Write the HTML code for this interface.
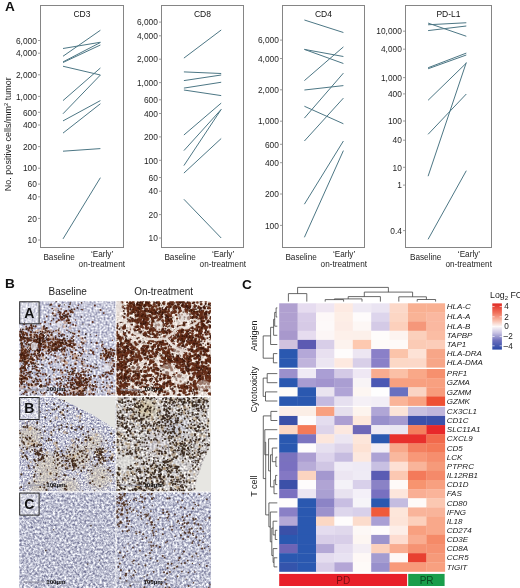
<!DOCTYPE html>
<html><head><meta charset="utf-8"><style>
html,body{margin:0;padding:0;background:#fff;}
body{width:520px;height:588px;overflow:hidden;position:relative;}
svg{position:absolute;left:0;top:0;display:block;}
</style></head><body>
<svg width="520" height="588" viewBox="0 0 520 588">
<text x="5.0" y="10.9" font-size="13.6" font-weight="bold" fill="#111" font-family="'Liberation Sans',Arial,sans-serif">A</text>
<text transform="translate(11,134.2) rotate(-90)" text-anchor="middle" font-size="9" fill="#1e1e1e" font-family="'Liberation Sans',Arial,sans-serif">No. positive cells/mm<tspan font-size="6" dy="-3">2</tspan><tspan dy="3"> tumor</tspan></text>
<rect x="40.5" y="5.5" width="83.0" height="242.0" fill="none" stroke="#858585" stroke-width="1"/>
<text x="82.0" y="17.1" text-anchor="middle" font-size="8.5" fill="#111" font-family="'Liberation Sans',Arial,sans-serif">CD3</text>
<line x1="38.0" y1="240.0" x2="40.5" y2="240.0" stroke="#858585" stroke-width="0.8"/>
<text x="36.9" y="243.2" text-anchor="end" font-size="8.4" fill="#1e1e1e" font-family="'Liberation Sans',Arial,sans-serif">10</text>
<line x1="38.0" y1="218.4" x2="40.5" y2="218.4" stroke="#858585" stroke-width="0.8"/>
<text x="36.9" y="221.6" text-anchor="end" font-size="8.4" fill="#1e1e1e" font-family="'Liberation Sans',Arial,sans-serif">20</text>
<line x1="38.0" y1="196.8" x2="40.5" y2="196.8" stroke="#858585" stroke-width="0.8"/>
<text x="36.9" y="200.0" text-anchor="end" font-size="8.4" fill="#1e1e1e" font-family="'Liberation Sans',Arial,sans-serif">40</text>
<line x1="38.0" y1="184.1" x2="40.5" y2="184.1" stroke="#858585" stroke-width="0.8"/>
<text x="36.9" y="187.3" text-anchor="end" font-size="8.4" fill="#1e1e1e" font-family="'Liberation Sans',Arial,sans-serif">60</text>
<line x1="38.0" y1="168.2" x2="40.5" y2="168.2" stroke="#858585" stroke-width="0.8"/>
<text x="36.9" y="171.4" text-anchor="end" font-size="8.4" fill="#1e1e1e" font-family="'Liberation Sans',Arial,sans-serif">100</text>
<line x1="38.0" y1="146.6" x2="40.5" y2="146.6" stroke="#858585" stroke-width="0.8"/>
<text x="36.9" y="149.8" text-anchor="end" font-size="8.4" fill="#1e1e1e" font-family="'Liberation Sans',Arial,sans-serif">200</text>
<line x1="38.0" y1="125.0" x2="40.5" y2="125.0" stroke="#858585" stroke-width="0.8"/>
<text x="36.9" y="128.2" text-anchor="end" font-size="8.4" fill="#1e1e1e" font-family="'Liberation Sans',Arial,sans-serif">400</text>
<line x1="38.0" y1="112.3" x2="40.5" y2="112.3" stroke="#858585" stroke-width="0.8"/>
<text x="36.9" y="115.5" text-anchor="end" font-size="8.4" fill="#1e1e1e" font-family="'Liberation Sans',Arial,sans-serif">600</text>
<line x1="38.0" y1="96.4" x2="40.5" y2="96.4" stroke="#858585" stroke-width="0.8"/>
<text x="36.9" y="99.6" text-anchor="end" font-size="8.4" fill="#1e1e1e" font-family="'Liberation Sans',Arial,sans-serif">1,000</text>
<line x1="38.0" y1="74.8" x2="40.5" y2="74.8" stroke="#858585" stroke-width="0.8"/>
<text x="36.9" y="78.0" text-anchor="end" font-size="8.4" fill="#1e1e1e" font-family="'Liberation Sans',Arial,sans-serif">2,000</text>
<line x1="38.0" y1="53.2" x2="40.5" y2="53.2" stroke="#858585" stroke-width="0.8"/>
<text x="36.9" y="56.4" text-anchor="end" font-size="8.4" fill="#1e1e1e" font-family="'Liberation Sans',Arial,sans-serif">4,000</text>
<line x1="38.0" y1="40.5" x2="40.5" y2="40.5" stroke="#858585" stroke-width="0.8"/>
<text x="36.9" y="43.7" text-anchor="end" font-size="8.4" fill="#1e1e1e" font-family="'Liberation Sans',Arial,sans-serif">6,000</text>
<line x1="63.0" y1="48.5" x2="100.4" y2="42.25" stroke="#4d7785" stroke-width="1.0"/>
<line x1="63.0" y1="56.25" x2="100.4" y2="30.25" stroke="#4d7785" stroke-width="1.0"/>
<line x1="63.0" y1="61.9" x2="100.4" y2="42.5" stroke="#4d7785" stroke-width="1.0"/>
<line x1="63.0" y1="62.5" x2="100.4" y2="45" stroke="#4d7785" stroke-width="1.0"/>
<line x1="63.0" y1="66.25" x2="100.4" y2="75" stroke="#4d7785" stroke-width="1.0"/>
<line x1="63.0" y1="100.6" x2="100.4" y2="68" stroke="#4d7785" stroke-width="1.0"/>
<line x1="63.0" y1="113.75" x2="100.4" y2="75" stroke="#4d7785" stroke-width="1.0"/>
<line x1="63.0" y1="120.9" x2="100.4" y2="100.6" stroke="#4d7785" stroke-width="1.0"/>
<line x1="63.0" y1="133.1" x2="100.4" y2="103.75" stroke="#4d7785" stroke-width="1.0"/>
<line x1="63.0" y1="151.2" x2="100.4" y2="148.6" stroke="#4d7785" stroke-width="1.0"/>
<line x1="63.0" y1="238.9" x2="100.4" y2="177.7" stroke="#4d7785" stroke-width="1.0"/>
<text x="59.1" y="260.4" text-anchor="middle" font-size="8.2" fill="#1e1e1e" font-family="'Liberation Sans',Arial,sans-serif">Baseline</text>
<text x="102.1" y="256.5" text-anchor="middle" font-size="8.2" fill="#1e1e1e" font-family="'Liberation Sans',Arial,sans-serif">‘Early’</text>
<text x="101.8" y="266.5" text-anchor="middle" font-size="8.2" fill="#1e1e1e" font-family="'Liberation Sans',Arial,sans-serif">on-treatment</text>
<rect x="161.5" y="5.5" width="82.0" height="242.0" fill="none" stroke="#858585" stroke-width="1"/>
<text x="202.5" y="17.1" text-anchor="middle" font-size="8.5" fill="#111" font-family="'Liberation Sans',Arial,sans-serif">CD8</text>
<line x1="159.0" y1="238.0" x2="161.5" y2="238.0" stroke="#858585" stroke-width="0.8"/>
<text x="157.9" y="241.2" text-anchor="end" font-size="8.4" fill="#1e1e1e" font-family="'Liberation Sans',Arial,sans-serif">10</text>
<line x1="159.0" y1="214.6" x2="161.5" y2="214.6" stroke="#858585" stroke-width="0.8"/>
<text x="157.9" y="217.8" text-anchor="end" font-size="8.4" fill="#1e1e1e" font-family="'Liberation Sans',Arial,sans-serif">20</text>
<line x1="159.0" y1="191.2" x2="161.5" y2="191.2" stroke="#858585" stroke-width="0.8"/>
<text x="157.9" y="194.4" text-anchor="end" font-size="8.4" fill="#1e1e1e" font-family="'Liberation Sans',Arial,sans-serif">40</text>
<line x1="159.0" y1="177.5" x2="161.5" y2="177.5" stroke="#858585" stroke-width="0.8"/>
<text x="157.9" y="180.7" text-anchor="end" font-size="8.4" fill="#1e1e1e" font-family="'Liberation Sans',Arial,sans-serif">60</text>
<line x1="159.0" y1="160.3" x2="161.5" y2="160.3" stroke="#858585" stroke-width="0.8"/>
<text x="157.9" y="163.5" text-anchor="end" font-size="8.4" fill="#1e1e1e" font-family="'Liberation Sans',Arial,sans-serif">100</text>
<line x1="159.0" y1="136.9" x2="161.5" y2="136.9" stroke="#858585" stroke-width="0.8"/>
<text x="157.9" y="140.1" text-anchor="end" font-size="8.4" fill="#1e1e1e" font-family="'Liberation Sans',Arial,sans-serif">200</text>
<line x1="159.0" y1="113.5" x2="161.5" y2="113.5" stroke="#858585" stroke-width="0.8"/>
<text x="157.9" y="116.7" text-anchor="end" font-size="8.4" fill="#1e1e1e" font-family="'Liberation Sans',Arial,sans-serif">400</text>
<line x1="159.0" y1="99.8" x2="161.5" y2="99.8" stroke="#858585" stroke-width="0.8"/>
<text x="157.9" y="103.0" text-anchor="end" font-size="8.4" fill="#1e1e1e" font-family="'Liberation Sans',Arial,sans-serif">600</text>
<line x1="159.0" y1="82.6" x2="161.5" y2="82.6" stroke="#858585" stroke-width="0.8"/>
<text x="157.9" y="85.8" text-anchor="end" font-size="8.4" fill="#1e1e1e" font-family="'Liberation Sans',Arial,sans-serif">1,000</text>
<line x1="159.0" y1="59.2" x2="161.5" y2="59.2" stroke="#858585" stroke-width="0.8"/>
<text x="157.9" y="62.4" text-anchor="end" font-size="8.4" fill="#1e1e1e" font-family="'Liberation Sans',Arial,sans-serif">2,000</text>
<line x1="159.0" y1="35.8" x2="161.5" y2="35.8" stroke="#858585" stroke-width="0.8"/>
<text x="157.9" y="39.0" text-anchor="end" font-size="8.4" fill="#1e1e1e" font-family="'Liberation Sans',Arial,sans-serif">4,000</text>
<line x1="159.0" y1="22.1" x2="161.5" y2="22.1" stroke="#858585" stroke-width="0.8"/>
<text x="157.9" y="25.3" text-anchor="end" font-size="8.4" fill="#1e1e1e" font-family="'Liberation Sans',Arial,sans-serif">6,000</text>
<line x1="183.9" y1="58.1" x2="221.2" y2="30" stroke="#4d7785" stroke-width="1.0"/>
<line x1="183.9" y1="71.9" x2="221.2" y2="73.5" stroke="#4d7785" stroke-width="1.0"/>
<line x1="183.9" y1="80.6" x2="221.2" y2="75" stroke="#4d7785" stroke-width="1.0"/>
<line x1="183.9" y1="88.1" x2="221.2" y2="82.25" stroke="#4d7785" stroke-width="1.0"/>
<line x1="183.9" y1="90" x2="221.2" y2="95.6" stroke="#4d7785" stroke-width="1.0"/>
<line x1="183.9" y1="135" x2="221.2" y2="103.1" stroke="#4d7785" stroke-width="1.0"/>
<line x1="183.9" y1="150.6" x2="221.2" y2="109.4" stroke="#4d7785" stroke-width="1.0"/>
<line x1="183.9" y1="165.6" x2="221.2" y2="109.4" stroke="#4d7785" stroke-width="1.0"/>
<line x1="183.9" y1="173.1" x2="221.2" y2="138.5" stroke="#4d7785" stroke-width="1.0"/>
<line x1="183.9" y1="199.25" x2="221.2" y2="238" stroke="#4d7785" stroke-width="1.0"/>
<text x="180.1" y="260.4" text-anchor="middle" font-size="8.2" fill="#1e1e1e" font-family="'Liberation Sans',Arial,sans-serif">Baseline</text>
<text x="223.1" y="256.5" text-anchor="middle" font-size="8.2" fill="#1e1e1e" font-family="'Liberation Sans',Arial,sans-serif">‘Early’</text>
<text x="222.8" y="266.5" text-anchor="middle" font-size="8.2" fill="#1e1e1e" font-family="'Liberation Sans',Arial,sans-serif">on-treatment</text>
<rect x="282.5" y="5.5" width="82.0" height="242.0" fill="none" stroke="#858585" stroke-width="1"/>
<text x="323.5" y="17.1" text-anchor="middle" font-size="8.5" fill="#111" font-family="'Liberation Sans',Arial,sans-serif">CD4</text>
<line x1="280.0" y1="225.4" x2="282.5" y2="225.4" stroke="#858585" stroke-width="0.8"/>
<text x="278.9" y="228.6" text-anchor="end" font-size="8.4" fill="#1e1e1e" font-family="'Liberation Sans',Arial,sans-serif">100</text>
<line x1="280.0" y1="194.0" x2="282.5" y2="194.0" stroke="#858585" stroke-width="0.8"/>
<text x="278.9" y="197.2" text-anchor="end" font-size="8.4" fill="#1e1e1e" font-family="'Liberation Sans',Arial,sans-serif">200</text>
<line x1="280.0" y1="162.7" x2="282.5" y2="162.7" stroke="#858585" stroke-width="0.8"/>
<text x="278.9" y="165.9" text-anchor="end" font-size="8.4" fill="#1e1e1e" font-family="'Liberation Sans',Arial,sans-serif">400</text>
<line x1="280.0" y1="144.3" x2="282.5" y2="144.3" stroke="#858585" stroke-width="0.8"/>
<text x="278.9" y="147.5" text-anchor="end" font-size="8.4" fill="#1e1e1e" font-family="'Liberation Sans',Arial,sans-serif">600</text>
<line x1="280.0" y1="121.2" x2="282.5" y2="121.2" stroke="#858585" stroke-width="0.8"/>
<text x="278.9" y="124.4" text-anchor="end" font-size="8.4" fill="#1e1e1e" font-family="'Liberation Sans',Arial,sans-serif">1,000</text>
<line x1="280.0" y1="89.8" x2="282.5" y2="89.8" stroke="#858585" stroke-width="0.8"/>
<text x="278.9" y="93.0" text-anchor="end" font-size="8.4" fill="#1e1e1e" font-family="'Liberation Sans',Arial,sans-serif">2,000</text>
<line x1="280.0" y1="58.5" x2="282.5" y2="58.5" stroke="#858585" stroke-width="0.8"/>
<text x="278.9" y="61.7" text-anchor="end" font-size="8.4" fill="#1e1e1e" font-family="'Liberation Sans',Arial,sans-serif">4,000</text>
<line x1="280.0" y1="40.1" x2="282.5" y2="40.1" stroke="#858585" stroke-width="0.8"/>
<text x="278.9" y="43.3" text-anchor="end" font-size="8.4" fill="#1e1e1e" font-family="'Liberation Sans',Arial,sans-serif">6,000</text>
<line x1="304.4" y1="20" x2="343.4" y2="32.5" stroke="#4d7785" stroke-width="1.0"/>
<line x1="304.4" y1="49.4" x2="343.4" y2="56.5" stroke="#4d7785" stroke-width="1.0"/>
<line x1="304.4" y1="49.4" x2="343.4" y2="63.5" stroke="#4d7785" stroke-width="1.0"/>
<line x1="304.4" y1="80.6" x2="343.4" y2="46.9" stroke="#4d7785" stroke-width="1.0"/>
<line x1="304.4" y1="90" x2="343.4" y2="85.6" stroke="#4d7785" stroke-width="1.0"/>
<line x1="304.4" y1="118.1" x2="343.4" y2="73.1" stroke="#4d7785" stroke-width="1.0"/>
<line x1="304.4" y1="106.25" x2="343.4" y2="123.75" stroke="#4d7785" stroke-width="1.0"/>
<line x1="304.4" y1="141" x2="343.4" y2="98.1" stroke="#4d7785" stroke-width="1.0"/>
<line x1="304.4" y1="204.2" x2="343.4" y2="141" stroke="#4d7785" stroke-width="1.0"/>
<line x1="304.4" y1="237.3" x2="343.4" y2="150.6" stroke="#4d7785" stroke-width="1.0"/>
<text x="301.1" y="260.4" text-anchor="middle" font-size="8.2" fill="#1e1e1e" font-family="'Liberation Sans',Arial,sans-serif">Baseline</text>
<text x="344.1" y="256.5" text-anchor="middle" font-size="8.2" fill="#1e1e1e" font-family="'Liberation Sans',Arial,sans-serif">‘Early’</text>
<text x="343.8" y="266.5" text-anchor="middle" font-size="8.2" fill="#1e1e1e" font-family="'Liberation Sans',Arial,sans-serif">on-treatment</text>
<rect x="405.5" y="5.5" width="86.0" height="242.0" fill="none" stroke="#858585" stroke-width="1"/>
<text x="448.5" y="17.1" text-anchor="middle" font-size="8.5" fill="#111" font-family="'Liberation Sans',Arial,sans-serif">PD-L1</text>
<line x1="403.0" y1="31.2" x2="405.5" y2="31.2" stroke="#858585" stroke-width="0.8"/>
<text x="401.9" y="34.4" text-anchor="end" font-size="8.4" fill="#1e1e1e" font-family="'Liberation Sans',Arial,sans-serif">10,000</text>
<line x1="403.0" y1="49.2" x2="405.5" y2="49.2" stroke="#858585" stroke-width="0.8"/>
<text x="401.9" y="52.4" text-anchor="end" font-size="8.4" fill="#1e1e1e" font-family="'Liberation Sans',Arial,sans-serif">4,000</text>
<line x1="403.0" y1="77.6" x2="405.5" y2="77.6" stroke="#858585" stroke-width="0.8"/>
<text x="401.9" y="80.8" text-anchor="end" font-size="8.4" fill="#1e1e1e" font-family="'Liberation Sans',Arial,sans-serif">1,000</text>
<line x1="403.0" y1="93.9" x2="405.5" y2="93.9" stroke="#858585" stroke-width="0.8"/>
<text x="401.9" y="97.1" text-anchor="end" font-size="8.4" fill="#1e1e1e" font-family="'Liberation Sans',Arial,sans-serif">400</text>
<line x1="403.0" y1="121.0" x2="405.5" y2="121.0" stroke="#858585" stroke-width="0.8"/>
<text x="401.9" y="124.2" text-anchor="end" font-size="8.4" fill="#1e1e1e" font-family="'Liberation Sans',Arial,sans-serif">100</text>
<line x1="403.0" y1="140.2" x2="405.5" y2="140.2" stroke="#858585" stroke-width="0.8"/>
<text x="401.9" y="143.4" text-anchor="end" font-size="8.4" fill="#1e1e1e" font-family="'Liberation Sans',Arial,sans-serif">40</text>
<line x1="403.0" y1="167.3" x2="405.5" y2="167.3" stroke="#858585" stroke-width="0.8"/>
<text x="401.9" y="170.5" text-anchor="end" font-size="8.4" fill="#1e1e1e" font-family="'Liberation Sans',Arial,sans-serif">10</text>
<line x1="403.0" y1="185.1" x2="405.5" y2="185.1" stroke="#858585" stroke-width="0.8"/>
<text x="401.9" y="188.3" text-anchor="end" font-size="8.4" fill="#1e1e1e" font-family="'Liberation Sans',Arial,sans-serif">1</text>
<line x1="403.0" y1="230.6" x2="405.5" y2="230.6" stroke="#858585" stroke-width="0.8"/>
<text x="401.9" y="233.8" text-anchor="end" font-size="8.4" fill="#1e1e1e" font-family="'Liberation Sans',Arial,sans-serif">0.4</text>
<line x1="428.1" y1="23.1" x2="466.3" y2="36.25" stroke="#4d7785" stroke-width="1.0"/>
<line x1="428.1" y1="24.75" x2="466.3" y2="22.75" stroke="#4d7785" stroke-width="1.0"/>
<line x1="428.1" y1="30.6" x2="466.3" y2="26" stroke="#4d7785" stroke-width="1.0"/>
<line x1="428.1" y1="67.75" x2="466.3" y2="53.1" stroke="#4d7785" stroke-width="1.0"/>
<line x1="428.1" y1="68.75" x2="466.3" y2="55" stroke="#4d7785" stroke-width="1.0"/>
<line x1="428.1" y1="100.25" x2="466.3" y2="63.1" stroke="#4d7785" stroke-width="1.0"/>
<line x1="428.1" y1="176.2" x2="466.3" y2="62.5" stroke="#4d7785" stroke-width="1.0"/>
<line x1="428.1" y1="134.3" x2="466.3" y2="94" stroke="#4d7785" stroke-width="1.0"/>
<line x1="428.1" y1="239.3" x2="466.3" y2="170.7" stroke="#4d7785" stroke-width="1.0"/>
<text x="425.7" y="260.4" text-anchor="middle" font-size="8.2" fill="#1e1e1e" font-family="'Liberation Sans',Arial,sans-serif">Baseline</text>
<text x="469.0" y="256.5" text-anchor="middle" font-size="8.2" fill="#1e1e1e" font-family="'Liberation Sans',Arial,sans-serif">‘Early’</text>
<text x="468.7" y="266.5" text-anchor="middle" font-size="8.2" fill="#1e1e1e" font-family="'Liberation Sans',Arial,sans-serif">on-treatment</text>
<text x="5.0" y="288.3" font-size="13.6" font-weight="bold" fill="#111" font-family="'Liberation Sans',Arial,sans-serif">B</text>
<text x="67.7" y="294.9" text-anchor="middle" font-size="10" fill="#1e1e1e" font-family="'Liberation Sans',Arial,sans-serif">Baseline</text>
<text x="163.6" y="294.9" text-anchor="middle" font-size="10" fill="#1e1e1e" font-family="'Liberation Sans',Arial,sans-serif">On-treatment</text>
<defs><filter id="tb1" x="0" y="0" width="1" height="1" color-interpolation-filters="sRGB"><feTurbulence type="fractalNoise" baseFrequency="0.5" numOctaves="2" seed="3"/><feColorMatrix type="matrix" values="0.9 0 0 0 0.334 0.9 0 0 0 0.338 0.7 0 0 0 0.505 0 0 0 0 1"/></filter><filter id="tb2" x="0" y="0" width="1" height="1" color-interpolation-filters="sRGB"><feTurbulence type="fractalNoise" baseFrequency="0.6" numOctaves="2" seed="5"/><feColorMatrix type="matrix" values="1.1 0 0 0 0.211 1.1 0 0 0 0.215 0.8 0 0 0 0.431 0 0 0 0 1"/></filter><filter id="tb3" x="0" y="0" width="1" height="1" color-interpolation-filters="sRGB"><feTurbulence type="fractalNoise" baseFrequency="0.45" numOctaves="2" seed="7"/><feColorMatrix type="matrix" values="1.0 0 0 0 0.241 1.0 0 0 0 0.249 0.8 0 0 0 0.420 0 0 0 0 1"/></filter><filter id="tb4" x="0" y="0" width="1" height="1" color-interpolation-filters="sRGB"><feTurbulence type="fractalNoise" baseFrequency="0.45" numOctaves="2" seed="9"/><feColorMatrix type="matrix" values="1.0 0 0 0 0.249 1.0 0 0 0 0.257 0.8 0 0 0 0.427 0 0 0 0 1"/></filter><filter id="tbon" x="0" y="0" width="1" height="1" color-interpolation-filters="sRGB"><feTurbulence type="fractalNoise" baseFrequency="0.4" numOctaves="2" seed="4"/><feColorMatrix type="matrix" values="0.6 0 0 0 0.610 0.6 0 0 0 0.571 0.6 0 0 0 0.547 0 0 0 0 1"/></filter><filter id="tbbon" x="0" y="0" width="1" height="1" color-interpolation-filters="sRGB"><feTurbulence type="fractalNoise" baseFrequency="0.5" numOctaves="2" seed="6"/><feColorMatrix type="matrix" values="1.0 0 0 0 0.316 1.0 0 0 0 0.304 0.9 0 0 0 0.350 0 0 0 0 1"/></filter><filter id="bl" x="-5%" y="-5%" width="110%" height="110%"><feGaussianBlur stdDeviation="0.3"/></filter><filter id="bl2" x="-20%" y="-20%" width="140%" height="140%"><feGaussianBlur stdDeviation="0.6"/></filter><filter id="bl3" x="-20%" y="-20%" width="140%" height="140%"><feGaussianBlur stdDeviation="3"/></filter></defs>
<clipPath id="cp00"><rect x="19.2" y="301.3" width="96.3" height="94.5"/></clipPath>
<g clip-path="url(#cp00)">
<rect x="19.2" y="301.3" width="96.3" height="94.5" filter="url(#tb1)"/>
<g filter="url(#bl)"><path d="M34.6 362.6h.01M114.7 354.1h.01M29.2 346.9h.01M86.0 351.1h.01M79.4 344.9h.01M55.0 314.0h.01" stroke="#c89878" stroke-width="2.4" stroke-linecap="round" opacity="0.5"/><path d="M74.2 371.3h.01M33.6 379.8h.01M43.3 341.2h.01M54.7 341.0h.01M46.2 346.9h.01M54.0 374.9h.01M77.3 380.6h.01M27.7 336.9h.01M35.6 385.2h.01M51.5 345.9h.01M32.8 357.9h.01" stroke="#c89878" stroke-width="2.5" stroke-linecap="round" opacity="0.5"/><path d="M37.9 356.1h.01M62.8 314.1h.01M67.7 312.8h.01M56.3 331.2h.01M24.3 348.4h.01M69.7 390.2h.01M30.5 331.9h.01M74.9 394.8h.01M50.7 330.6h.01M68.4 344.4h.01M55.1 361.7h.01M25.2 333.2h.01" stroke="#c89878" stroke-width="2.6" stroke-linecap="round" opacity="0.5"/><path d="M56.0 343.5h.01M81.3 389.6h.01M83.3 361.9h.01M45.2 342.7h.01M64.2 386.1h.01M73.1 358.2h.01M87.5 370.4h.01M22.8 352.3h.01M47.3 347.6h.01M85.4 341.4h.01M49.7 336.8h.01M28.5 384.2h.01M23.1 351.6h.01M50.6 363.0h.01M59.2 342.0h.01" stroke="#c89878" stroke-width="2.7" stroke-linecap="round" opacity="0.5"/><path d="M49.1 343.1h.01M24.0 332.3h.01M93.2 387.1h.01M79.4 359.5h.01M38.5 330.2h.01M26.1 363.5h.01M70.2 327.9h.01M51.6 335.0h.01M83.3 380.0h.01M72.4 383.8h.01M78.1 355.7h.01" stroke="#c89878" stroke-width="2.8" stroke-linecap="round" opacity="0.5"/><path d="M75.5 356.5h.01M82.7 339.6h.01M112.3 350.4h.01M30.6 361.3h.01M114.4 393.7h.01M62.8 343.2h.01M86.0 391.6h.01M33.4 349.1h.01M36.8 352.4h.01M31.2 354.4h.01M52.8 337.4h.01M37.6 352.0h.01" stroke="#c89878" stroke-width="2.9" stroke-linecap="round" opacity="0.5"/><path d="M36.2 363.9h.01M81.0 338.1h.01M84.3 365.4h.01M39.1 340.2h.01M33.0 337.5h.01M84.6 383.6h.01M90.0 383.2h.01M44.9 332.4h.01M44.0 359.1h.01M80.8 392.3h.01M31.2 357.0h.01M35.9 346.9h.01M27.4 357.3h.01M29.6 384.7h.01M53.4 347.9h.01M54.4 379.4h.01" stroke="#c89878" stroke-width="3.0" stroke-linecap="round" opacity="0.5"/><path d="M22.7 379.3h.01M62.9 343.8h.01M20.1 359.6h.01M42.6 357.1h.01M76.0 391.0h.01M45.2 342.9h.01M26.4 377.3h.01M52.0 349.6h.01" stroke="#c89878" stroke-width="3.1" stroke-linecap="round" opacity="0.5"/><path d="M31.2 360.9h.01M101.3 356.9h.01M21.3 380.5h.01M77.4 385.4h.01M30.3 385.2h.01M52.9 339.6h.01M21.4 377.2h.01M64.1 326.5h.01" stroke="#c89878" stroke-width="3.2" stroke-linecap="round" opacity="0.5"/><path d="M27.7 360.4h.01M61.1 342.4h.01M104.9 356.0h.01M41.2 334.6h.01" stroke="#c89878" stroke-width="3.3" stroke-linecap="round" opacity="0.5"/><path d="M44.9 350.4h.01M32.8 334.6h.01M48.6 338.7h.01M42.9 343.5h.01M52.9 343.1h.01M80.8 388.0h.01M73.5 348.5h.01M41.8 330.8h.01M36.7 331.4h.01M24.7 349.9h.01M83.1 370.6h.01M32.9 342.8h.01M59.6 332.5h.01M26.6 355.5h.01M72.1 342.2h.01M77.7 384.4h.01M68.7 341.6h.01M75.6 344.7h.01M56.1 309.5h.01" stroke="#c89878" stroke-width="3.4" stroke-linecap="round" opacity="0.5"/><path d="M24.2 333.8h.01M19.9 374.1h.01M107.7 385.9h.01M46.5 333.6h.01M65.9 362.5h.01M105.5 349.7h.01M21.9 387.4h.01M25.9 356.1h.01" stroke="#c89878" stroke-width="3.5" stroke-linecap="round" opacity="0.5"/><path d="M33.0 385.5h.01M71.7 353.7h.01M43.8 395.6h.01M24.5 361.1h.01M58.0 357.4h.01M27.0 359.5h.01M65.0 322.4h.01M22.6 352.5h.01M75.6 363.0h.01M111.2 363.1h.01M63.5 352.6h.01M51.3 342.6h.01" stroke="#c89878" stroke-width="3.6" stroke-linecap="round" opacity="0.5"/><path d="M21.4 359.7h.01M89.8 391.8h.01M48.1 347.8h.01M40.0 336.4h.01M42.7 328.3h.01M25.7 380.0h.01M34.1 392.7h.01M74.9 357.6h.01M22.1 349.8h.01M85.2 378.7h.01M107.7 350.5h.01M72.1 391.1h.01" stroke="#c89878" stroke-width="3.7" stroke-linecap="round" opacity="0.5"/><path d="M57.1 344.6h.01M68.4 320.5h.01M108.8 355.8h.01M75.2 355.1h.01M66.2 363.1h.01M62.2 360.2h.01M108.8 391.3h.01M24.1 357.9h.01M78.2 390.4h.01" stroke="#c89878" stroke-width="3.8" stroke-linecap="round" opacity="0.5"/><path d="M61.9 372.8h.01M19.2 377.8h.01M46.0 329.7h.01M28.6 389.8h.01M41.6 386.4h.01M105.2 356.3h.01" stroke="#c89878" stroke-width="3.9" stroke-linecap="round" opacity="0.5"/><path d="M23.0 356.0h.01M82.5 390.3h.01" stroke="#c89878" stroke-width="4.0" stroke-linecap="round" opacity="0.5"/>
<path d="M67.7 316.5h.01M20.4 340.8h.01M114.1 361.1h.01M81.3 372.3h.01M43.7 393.8h.01M95.7 384.7h.01M26.2 375.0h.01M36.1 385.3h.01M63.5 344.2h.01M25.6 359.7h.01M75.0 387.3h.01M64.3 313.0h.01M29.4 364.4h.01M61.1 309.0h.01M73.7 371.4h.01M54.2 392.4h.01M85.9 386.9h.01M34.3 356.2h.01M69.6 342.1h.01M21.4 351.2h.01M83.2 369.6h.01M65.1 393.5h.01M28.7 354.6h.01M73.3 392.1h.01M72.1 338.3h.01M109.0 352.3h.01M76.6 393.3h.01M66.4 342.2h.01M72.8 354.7h.01M47.9 342.3h.01M100.7 377.9h.01M70.5 341.6h.01M79.2 377.4h.01M46.8 346.5h.01M66.6 354.2h.01M62.6 343.6h.01M27.7 341.2h.01M28.6 338.8h.01M99.0 375.6h.01M23.8 364.1h.01M33.6 332.1h.01M49.6 349.8h.01M32.3 350.8h.01M28.6 360.8h.01M49.9 388.9h.01M25.3 329.0h.01M106.1 362.9h.01M23.1 336.2h.01M22.8 354.5h.01M60.8 349.8h.01M19.9 333.7h.01M20.6 329.3h.01M85.3 385.2h.01M37.8 367.5h.01" stroke="#5a2a16" stroke-width="1.4" stroke-linecap="round" opacity="0.95"/><path d="M62.5 340.8h.01M21.8 375.6h.01M31.3 384.0h.01M113.8 360.7h.01M22.5 330.0h.01M59.3 384.1h.01M51.2 347.1h.01M76.8 388.2h.01M112.8 350.5h.01M21.0 353.5h.01M109.9 351.7h.01M109.5 379.4h.01M25.5 375.8h.01M27.4 347.8h.01M101.6 345.2h.01M29.2 340.0h.01M57.1 347.9h.01M112.1 385.7h.01M91.3 377.0h.01M84.8 376.1h.01M73.9 391.4h.01M73.9 370.7h.01M106.2 355.0h.01M110.4 374.0h.01M33.8 340.7h.01M60.6 313.1h.01M60.5 317.8h.01M22.1 381.9h.01M22.5 368.2h.01M37.6 375.8h.01M71.9 343.6h.01M58.5 336.0h.01M43.9 344.2h.01M68.1 387.0h.01M58.0 394.4h.01M82.0 382.8h.01M85.3 394.7h.01M32.0 338.4h.01M83.1 392.0h.01M78.2 305.2h.01M55.8 335.9h.01M49.8 345.1h.01M89.3 369.8h.01M48.7 344.4h.01M115.4 357.2h.01M68.7 306.8h.01M82.5 338.2h.01M28.1 341.1h.01M46.9 384.7h.01M52.0 349.7h.01M83.4 380.2h.01M76.2 381.0h.01M22.8 348.3h.01M86.2 381.2h.01M68.3 376.4h.01M81.5 383.1h.01M73.0 382.9h.01M58.1 339.6h.01M31.9 359.2h.01M34.7 353.7h.01M70.0 386.7h.01M27.7 361.1h.01M22.6 359.6h.01M74.8 379.9h.01M20.8 359.0h.01M34.5 340.6h.01M43.1 341.5h.01M82.6 384.7h.01M22.9 347.4h.01M33.3 391.7h.01M29.6 359.1h.01M64.4 354.9h.01M22.2 353.3h.01M37.6 332.8h.01M26.3 355.4h.01M73.3 375.1h.01M38.5 381.4h.01M73.4 339.8h.01M75.5 320.1h.01M24.8 387.1h.01M65.1 387.4h.01M59.6 395.6h.01M22.7 344.0h.01M33.5 346.8h.01M83.2 378.1h.01M41.1 340.9h.01M85.0 389.4h.01M105.1 390.1h.01M41.7 364.2h.01M58.1 370.3h.01M38.8 370.6h.01M63.3 339.8h.01M96.4 335.6h.01M72.2 384.8h.01M95.2 368.0h.01M31.7 385.5h.01M97.0 348.5h.01M54.7 344.4h.01M65.2 342.3h.01M112.5 340.2h.01M67.8 346.1h.01M73.7 340.5h.01" stroke="#5a2a16" stroke-width="1.5" stroke-linecap="round" opacity="0.95"/><path d="M53.9 386.2h.01M36.5 367.6h.01M88.1 372.2h.01M59.6 314.4h.01M23.1 355.6h.01M39.2 359.3h.01M91.6 393.8h.01M39.4 339.8h.01M32.2 369.1h.01M82.0 347.5h.01M38.6 347.0h.01M58.8 344.6h.01M36.6 355.8h.01M28.7 329.3h.01M56.6 345.0h.01M72.0 372.8h.01M23.7 349.8h.01M28.6 341.0h.01M42.0 364.7h.01M32.3 381.0h.01M82.6 309.8h.01M43.0 337.8h.01M43.0 355.2h.01M115.1 350.5h.01M95.0 386.1h.01M20.3 360.9h.01M38.6 376.4h.01M20.8 357.1h.01M64.8 344.3h.01M21.8 352.9h.01M83.3 386.0h.01M39.5 354.2h.01M20.0 375.6h.01M61.5 351.7h.01M25.3 343.7h.01M52.4 345.9h.01M41.8 393.2h.01M57.6 385.8h.01M35.7 326.5h.01M27.9 361.3h.01M38.2 345.0h.01M60.0 343.1h.01M37.7 351.0h.01M29.3 388.7h.01M44.2 347.1h.01M46.4 353.4h.01M83.7 372.0h.01M57.2 383.0h.01M42.9 339.9h.01M80.3 347.7h.01M33.3 339.0h.01M69.4 316.0h.01M53.3 338.2h.01M78.6 387.1h.01M51.6 320.8h.01M95.3 389.9h.01M48.6 331.0h.01M102.0 346.8h.01M29.8 374.2h.01M54.6 349.0h.01M33.6 354.1h.01M81.8 368.3h.01M58.5 347.0h.01M83.4 351.6h.01M60.6 318.5h.01M35.4 341.2h.01M67.9 318.4h.01M60.8 345.7h.01M72.0 310.9h.01M27.5 358.2h.01M66.3 310.9h.01M28.6 349.7h.01M37.8 338.9h.01M80.9 355.9h.01M62.3 372.6h.01M67.3 317.5h.01M42.2 339.0h.01M85.6 387.3h.01M108.1 362.9h.01M113.5 355.0h.01M31.3 364.1h.01M40.6 339.8h.01M67.0 330.3h.01M78.4 374.8h.01M90.1 384.7h.01M32.4 363.8h.01M80.2 347.0h.01M72.7 382.5h.01M53.6 350.8h.01M93.9 354.5h.01M48.5 340.6h.01M72.6 377.6h.01M63.5 318.3h.01M105.0 355.7h.01M48.4 343.8h.01M77.7 373.1h.01" stroke="#5a2a16" stroke-width="1.6" stroke-linecap="round" opacity="0.95"/><path d="M51.9 332.6h.01M80.3 380.8h.01M26.2 326.7h.01M54.8 343.9h.01M109.2 352.9h.01M77.4 384.8h.01M71.3 311.8h.01M51.3 354.7h.01M54.4 345.0h.01M81.0 384.8h.01M84.3 388.8h.01M25.7 332.9h.01M103.8 375.4h.01M34.9 368.4h.01M26.7 363.7h.01M81.1 393.8h.01M25.7 375.6h.01M37.6 350.2h.01M24.5 362.1h.01M60.7 383.5h.01M103.0 376.2h.01M20.1 368.9h.01M113.2 371.5h.01M90.4 350.1h.01M91.4 389.0h.01M26.3 349.8h.01M51.7 361.9h.01M30.9 389.6h.01M106.2 377.6h.01M112.8 368.8h.01M31.5 348.1h.01M27.7 338.1h.01M22.0 343.1h.01M19.9 360.5h.01M37.3 383.4h.01M28.6 354.9h.01M84.4 383.1h.01M105.2 360.0h.01M26.4 372.6h.01M52.4 308.5h.01M103.4 366.4h.01M73.4 336.6h.01M76.3 375.0h.01M38.2 355.1h.01M107.7 393.6h.01M56.0 330.5h.01M42.3 334.4h.01M81.0 375.8h.01M35.9 343.1h.01M25.6 337.8h.01M43.3 347.2h.01M66.9 391.3h.01M29.7 327.4h.01M68.4 313.8h.01M103.2 387.2h.01M50.4 323.8h.01M48.7 346.1h.01M79.7 377.9h.01M24.5 355.4h.01M55.3 315.7h.01M61.7 349.0h.01M24.6 361.7h.01M62.4 390.1h.01M71.6 368.4h.01M29.1 352.8h.01M50.9 339.0h.01M55.4 350.7h.01M27.4 379.2h.01M49.8 339.3h.01M111.8 358.8h.01M45.0 342.6h.01M24.4 353.4h.01M60.2 315.1h.01M50.8 367.6h.01M59.1 347.0h.01M85.0 374.9h.01M67.2 320.2h.01M24.1 334.6h.01M77.9 392.4h.01M81.1 382.0h.01M64.2 334.9h.01M43.2 334.6h.01M26.8 392.2h.01M55.7 359.8h.01M74.1 373.3h.01M102.8 350.6h.01M21.6 331.6h.01M109.9 394.1h.01M23.9 339.7h.01M23.4 333.8h.01M30.3 340.3h.01M61.0 385.3h.01M50.4 345.7h.01M82.5 395.1h.01M37.9 353.4h.01M64.3 318.7h.01" stroke="#5a2a16" stroke-width="1.7" stroke-linecap="round" opacity="0.95"/><path d="M68.9 372.5h.01M77.2 382.2h.01M26.0 362.3h.01M41.3 344.1h.01M58.5 330.1h.01M70.3 344.8h.01M26.2 369.9h.01M87.3 384.8h.01M32.6 366.4h.01M26.3 370.3h.01M102.7 344.5h.01M37.4 339.4h.01M25.5 364.3h.01M28.9 384.9h.01M21.8 355.2h.01M54.1 370.6h.01M29.9 377.5h.01M36.2 369.6h.01M27.2 351.0h.01M62.8 376.4h.01M39.6 356.5h.01M28.7 344.4h.01M106.2 362.6h.01M65.3 376.9h.01M62.0 343.2h.01M60.7 324.7h.01M75.8 382.2h.01M75.6 325.4h.01M73.5 336.4h.01M54.0 345.8h.01M26.8 383.0h.01M68.5 378.6h.01M43.2 344.3h.01M65.2 390.3h.01M39.7 338.5h.01M39.7 334.9h.01M40.1 339.3h.01M83.6 385.6h.01M24.2 356.4h.01M23.6 332.7h.01M50.0 347.8h.01M24.1 324.4h.01M63.8 338.3h.01M75.9 350.0h.01M53.5 344.2h.01M40.3 343.4h.01M75.1 353.6h.01M109.0 373.2h.01M79.5 386.6h.01M72.2 379.1h.01M85.1 371.9h.01M72.4 388.8h.01M88.2 381.3h.01M50.3 343.0h.01M27.2 354.2h.01M112.3 386.5h.01M39.9 347.6h.01M28.5 376.3h.01M65.0 395.0h.01M21.3 356.5h.01M62.6 314.4h.01M91.3 350.7h.01M106.2 353.3h.01M21.4 381.9h.01M25.3 351.1h.01M62.8 342.1h.01M65.1 317.5h.01M58.7 345.4h.01M33.5 345.1h.01M87.6 379.4h.01M24.5 370.8h.01M110.2 387.6h.01M67.2 387.0h.01M80.6 384.2h.01M83.1 371.5h.01M73.0 378.4h.01M22.0 365.8h.01M19.6 334.6h.01M55.8 337.4h.01M32.8 346.9h.01" stroke="#5a2a16" stroke-width="1.8" stroke-linecap="round" opacity="0.95"/><path d="M43.0 349.6h.01M108.9 352.6h.01M60.8 383.2h.01M73.2 324.8h.01M72.9 333.3h.01M30.1 348.5h.01M23.2 356.9h.01M35.2 339.8h.01M62.7 319.5h.01M36.3 335.2h.01M114.3 366.2h.01M25.1 356.3h.01M40.2 343.4h.01M28.0 354.5h.01M103.2 353.5h.01M45.8 386.0h.01M40.5 373.4h.01M42.2 335.6h.01M83.0 349.7h.01M24.9 392.5h.01M59.1 342.7h.01M40.1 346.4h.01M35.1 351.2h.01M54.4 345.6h.01M112.2 393.4h.01M32.6 346.5h.01M43.1 354.2h.01M35.4 355.1h.01M59.3 340.6h.01M22.5 338.8h.01M41.3 338.1h.01M43.9 328.9h.01M48.9 339.6h.01M70.3 322.7h.01M21.6 352.8h.01M74.7 345.0h.01M74.4 309.3h.01M20.2 331.6h.01M53.3 343.8h.01M55.9 347.3h.01M22.5 354.3h.01M24.6 366.6h.01M33.6 382.0h.01M60.2 378.2h.01M74.6 389.1h.01M24.3 356.9h.01M20.6 337.0h.01M31.6 340.3h.01M71.8 374.2h.01M36.7 349.3h.01M23.0 331.9h.01M64.9 311.4h.01M27.0 378.5h.01M61.7 379.7h.01M113.2 369.6h.01M62.1 350.2h.01M52.7 346.2h.01M70.0 340.2h.01M61.8 317.5h.01M103.8 313.1h.01M23.3 393.7h.01M34.5 354.6h.01M22.5 357.9h.01M50.9 351.6h.01M61.2 319.8h.01M46.8 316.5h.01M40.4 323.6h.01M28.3 365.0h.01M83.7 385.3h.01M53.5 331.4h.01M113.5 365.8h.01M54.9 353.1h.01M30.6 347.1h.01M103.2 382.1h.01M73.6 386.6h.01M80.7 374.7h.01M63.7 386.1h.01M76.2 394.0h.01M64.0 313.3h.01M93.2 367.0h.01M49.0 343.0h.01M89.7 379.7h.01M21.8 360.9h.01M49.7 332.2h.01M25.8 349.2h.01M27.0 334.3h.01M79.6 380.8h.01M24.9 357.8h.01M82.0 384.6h.01" stroke="#5a2a16" stroke-width="1.9" stroke-linecap="round" opacity="0.95"/><path d="M74.5 380.0h.01M46.5 383.2h.01M72.9 358.6h.01M64.5 338.8h.01M34.9 353.2h.01M70.7 343.2h.01M57.5 341.4h.01M51.4 341.8h.01M64.7 351.0h.01M63.2 354.4h.01M92.7 322.0h.01M58.4 312.4h.01M89.4 378.1h.01M80.6 375.0h.01M26.0 338.5h.01M66.9 316.4h.01M46.9 327.9h.01M84.3 388.3h.01M23.9 355.0h.01M79.0 394.2h.01M55.5 342.1h.01M32.3 358.3h.01M36.1 366.9h.01M82.3 385.0h.01M38.0 341.9h.01M20.4 368.8h.01M25.8 377.9h.01M35.3 345.4h.01M79.0 385.3h.01M83.0 393.8h.01M34.0 341.4h.01M21.4 336.9h.01M55.6 347.8h.01M64.4 392.9h.01M25.7 391.1h.01M31.6 384.6h.01M23.6 346.5h.01M100.1 377.0h.01M20.7 369.3h.01M31.6 328.8h.01M27.3 339.9h.01M93.5 385.9h.01M109.0 364.8h.01M29.3 339.8h.01M94.9 305.4h.01M61.9 317.0h.01M21.7 358.0h.01M42.7 342.3h.01M89.5 386.1h.01M19.3 386.4h.01M27.9 372.9h.01M74.1 383.6h.01M27.0 328.2h.01M71.2 351.8h.01M106.1 372.6h.01M69.1 374.2h.01M37.1 339.6h.01M54.8 343.8h.01M107.4 355.9h.01M53.2 339.6h.01M53.2 345.5h.01M65.4 343.9h.01M86.3 387.9h.01M56.9 342.8h.01M21.7 346.0h.01M21.0 338.2h.01M21.8 353.4h.01M93.9 393.9h.01M72.9 373.3h.01M112.9 350.0h.01M70.1 310.4h.01M76.9 382.2h.01M58.3 346.7h.01M63.2 348.6h.01M38.3 342.3h.01M73.6 343.4h.01M36.7 357.0h.01M22.5 338.5h.01M37.2 335.5h.01M114.2 364.1h.01M70.9 384.7h.01M34.6 334.6h.01M100.5 310.0h.01M24.9 350.7h.01M39.5 336.8h.01M29.0 351.5h.01M44.6 393.1h.01" stroke="#5a2a16" stroke-width="2.0" stroke-linecap="round" opacity="0.95"/><path d="M79.5 391.2h.01M114.3 354.0h.01M35.5 384.2h.01M111.1 353.0h.01M100.8 358.2h.01M100.9 355.5h.01M58.1 342.8h.01M41.2 333.7h.01M26.3 352.6h.01M112.7 360.6h.01M37.7 359.2h.01M71.7 338.3h.01M68.2 378.7h.01M74.7 395.2h.01M109.6 357.4h.01M75.5 379.6h.01M65.4 315.4h.01M49.7 379.8h.01M102.4 375.1h.01M96.5 386.9h.01M24.9 378.4h.01M90.6 379.4h.01M49.0 350.4h.01M21.0 356.4h.01M26.8 355.9h.01M39.6 370.6h.01M39.9 337.0h.01M35.7 343.8h.01M60.1 387.0h.01M55.3 355.9h.01M92.9 390.0h.01M26.0 362.4h.01M68.7 320.3h.01M31.5 354.4h.01M45.6 345.2h.01M23.3 355.3h.01M30.7 345.6h.01M81.6 342.3h.01M108.5 354.4h.01M25.3 364.5h.01M72.9 369.1h.01M40.2 355.1h.01M59.0 333.7h.01M87.6 365.9h.01M19.6 379.4h.01M36.1 342.8h.01M25.1 369.9h.01M79.6 385.9h.01M42.5 331.9h.01M26.5 344.2h.01M66.3 343.3h.01M35.3 326.4h.01M43.7 327.0h.01M57.1 321.5h.01M82.1 391.8h.01M36.4 340.4h.01M34.4 336.6h.01M76.3 377.2h.01M38.2 345.8h.01M56.9 350.8h.01M78.6 335.7h.01M22.0 350.5h.01M83.2 378.1h.01M28.4 384.9h.01M54.7 369.6h.01M61.8 394.8h.01M23.3 352.2h.01M55.8 347.6h.01M24.8 378.2h.01M19.9 331.8h.01M55.6 348.9h.01M22.8 335.0h.01M31.2 344.1h.01M36.5 348.1h.01M31.4 377.9h.01M39.7 338.4h.01M107.2 356.8h.01M70.6 340.7h.01M57.0 347.5h.01M55.9 393.4h.01M43.6 338.8h.01M40.9 381.2h.01M109.9 365.6h.01M80.4 382.3h.01M74.8 388.3h.01M19.9 335.4h.01M60.2 316.8h.01M60.9 345.4h.01M54.6 343.5h.01M81.8 361.6h.01M82.9 371.8h.01M24.9 365.3h.01M47.6 340.1h.01M66.5 384.9h.01M19.7 361.2h.01M80.2 386.3h.01M82.8 390.8h.01M81.0 395.5h.01M26.7 333.7h.01M73.6 393.1h.01M112.0 373.7h.01M70.4 393.1h.01M78.3 383.5h.01M24.1 337.5h.01M36.4 335.4h.01M72.8 312.4h.01M35.2 332.5h.01M59.0 305.9h.01M23.3 376.8h.01M30.5 372.1h.01M20.1 354.9h.01M22.8 352.7h.01M24.9 341.1h.01M23.2 337.2h.01M22.2 375.9h.01M107.4 376.5h.01M23.5 353.5h.01M79.7 382.6h.01M69.2 345.0h.01" stroke="#5a2a16" stroke-width="2.1" stroke-linecap="round" opacity="0.95"/><path d="M77.2 388.6h.01M64.5 361.2h.01M56.5 322.3h.01M85.0 380.4h.01M43.9 336.0h.01M48.1 335.5h.01M48.4 384.6h.01M42.9 337.3h.01M30.5 335.0h.01M31.5 327.0h.01M27.1 342.4h.01M26.0 361.9h.01M58.0 342.2h.01M59.4 346.2h.01M95.2 381.9h.01M37.5 358.3h.01M78.5 378.4h.01M73.8 345.2h.01M61.5 345.8h.01M51.3 334.9h.01M28.6 330.4h.01M81.8 353.8h.01M55.4 339.0h.01M59.0 341.6h.01M75.3 368.2h.01M48.7 353.6h.01M67.1 367.3h.01M24.9 359.2h.01M79.0 379.2h.01M110.9 371.5h.01M24.7 337.8h.01M24.1 381.7h.01M25.6 353.0h.01M37.0 370.4h.01M81.5 378.2h.01M67.5 314.4h.01M65.0 341.0h.01M34.9 342.0h.01M38.9 351.5h.01M44.6 347.4h.01M37.1 341.8h.01M106.3 352.0h.01M27.1 335.5h.01M68.7 345.3h.01M104.9 354.6h.01M62.6 334.5h.01M64.1 392.9h.01M86.6 385.6h.01M45.8 379.8h.01M89.4 394.4h.01M110.9 348.8h.01M30.8 356.9h.01M73.3 388.8h.01M32.2 328.2h.01M21.1 382.7h.01M106.4 357.9h.01M66.8 320.8h.01M38.8 345.1h.01M37.4 381.2h.01M56.8 384.0h.01M27.9 339.8h.01M28.5 355.3h.01M92.3 385.5h.01M39.8 348.7h.01M39.8 379.7h.01M49.2 363.4h.01M52.8 313.4h.01M37.1 350.2h.01M72.1 352.0h.01M61.0 344.3h.01M32.9 360.2h.01M95.0 376.1h.01M29.4 328.2h.01M66.2 311.1h.01M76.5 384.1h.01M78.0 384.9h.01M111.6 382.7h.01M59.4 341.7h.01M31.0 337.4h.01" stroke="#5a2a16" stroke-width="2.2" stroke-linecap="round" opacity="0.95"/><path d="M39.6 341.0h.01M111.5 370.7h.01M51.2 304.6h.01M21.9 344.9h.01M93.1 353.1h.01M108.1 372.5h.01M40.2 345.3h.01M45.6 374.2h.01M23.2 367.8h.01M19.3 385.2h.01M56.6 392.2h.01M78.8 381.9h.01M41.4 346.3h.01M48.2 338.9h.01M62.4 340.0h.01M93.3 394.3h.01M25.2 363.0h.01M24.4 367.6h.01M113.4 353.1h.01M90.9 366.2h.01M67.7 394.5h.01M19.7 378.7h.01M113.1 356.1h.01M61.4 343.4h.01M60.3 312.6h.01M32.7 359.8h.01M19.8 335.2h.01M67.9 383.1h.01M83.4 343.4h.01M47.5 331.6h.01M29.8 372.3h.01M78.7 373.6h.01M104.8 349.1h.01M52.9 345.1h.01M86.1 378.9h.01M83.6 374.6h.01M43.1 354.8h.01M23.3 378.1h.01M22.2 348.9h.01M24.2 377.3h.01M30.8 331.9h.01M70.9 393.8h.01M81.0 385.2h.01M30.8 362.2h.01M65.5 357.8h.01M79.7 395.0h.01M68.5 341.1h.01M59.9 339.8h.01M54.8 349.5h.01M31.2 325.1h.01M69.7 346.0h.01M70.2 341.5h.01M21.5 342.8h.01M82.3 363.8h.01M33.9 359.9h.01M72.2 347.0h.01M56.6 348.8h.01M58.8 320.2h.01M72.1 380.2h.01M86.1 382.5h.01M44.9 346.9h.01M79.1 331.5h.01M31.2 332.1h.01M48.3 350.9h.01M33.1 363.0h.01M37.3 389.7h.01M43.0 374.5h.01M107.2 357.3h.01M56.3 343.9h.01M63.8 365.2h.01M30.5 358.8h.01M39.3 343.1h.01M67.0 345.4h.01M45.0 340.6h.01M24.5 386.7h.01M24.9 351.5h.01M56.8 378.9h.01M65.3 370.7h.01M60.9 370.4h.01M54.5 348.9h.01M41.9 353.4h.01M74.4 333.8h.01M36.4 374.4h.01M44.5 347.2h.01M21.5 371.8h.01M21.4 367.6h.01M21.4 358.0h.01M21.2 375.3h.01M80.6 376.1h.01M22.7 334.1h.01M76.6 358.4h.01M108.1 355.9h.01M58.4 346.2h.01M52.4 349.9h.01M39.9 349.8h.01M93.1 352.1h.01M48.3 347.3h.01M70.8 312.0h.01M65.1 347.7h.01M77.3 377.6h.01" stroke="#5a2a16" stroke-width="2.3" stroke-linecap="round" opacity="0.95"/><path d="M80.9 393.2h.01M23.7 357.9h.01M106.1 351.2h.01M68.7 322.9h.01M30.7 334.7h.01M104.2 355.7h.01M108.4 352.6h.01M64.2 349.1h.01M79.6 391.1h.01M30.4 340.4h.01M25.7 358.0h.01M83.4 395.8h.01M24.6 368.0h.01M49.7 382.3h.01M41.0 337.8h.01M21.4 383.8h.01M21.3 371.0h.01M79.0 395.5h.01M20.0 335.9h.01M62.1 342.8h.01M40.0 350.0h.01M75.5 363.9h.01M57.3 339.4h.01M86.9 382.6h.01M37.1 336.9h.01M30.9 348.8h.01M96.7 343.0h.01M70.6 382.8h.01M21.3 340.3h.01M39.4 347.3h.01M41.1 385.2h.01M65.1 395.1h.01M71.6 346.4h.01M44.4 346.8h.01M45.0 322.1h.01M59.7 394.1h.01M73.5 394.9h.01M52.1 348.4h.01M105.9 358.8h.01M111.1 354.4h.01M71.2 387.1h.01M26.1 355.8h.01M22.3 379.0h.01M23.8 373.5h.01M26.2 378.6h.01" stroke="#5a2a16" stroke-width="2.4" stroke-linecap="round" opacity="0.95"/>
<path d="M29.1 359.1h.01M33.6 354.7h.01M89.7 370.4h.01M51.2 390.3h.01M60.9 340.7h.01M67.6 316.9h.01M43.2 337.1h.01M97.6 392.0h.01M43.3 338.2h.01M40.9 385.3h.01M103.0 359.7h.01M86.4 393.2h.01M64.8 316.2h.01M44.5 386.1h.01M85.5 334.5h.01M28.7 360.0h.01M53.8 310.5h.01M60.9 335.3h.01M36.3 334.7h.01M87.7 356.6h.01M23.7 345.7h.01M89.0 381.3h.01M45.0 348.5h.01M56.7 322.3h.01M61.9 317.0h.01M64.8 380.1h.01M111.6 367.6h.01M66.5 380.6h.01" stroke="#2e160c" stroke-width="1.0" stroke-linecap="round" opacity="0.9"/><path d="M90.4 334.7h.01M59.9 381.6h.01M24.6 338.1h.01M21.7 383.8h.01M20.2 339.5h.01M27.5 351.9h.01M106.4 350.3h.01M26.0 346.1h.01M70.6 374.8h.01M63.5 315.7h.01M79.5 384.8h.01M37.8 353.6h.01M35.9 391.1h.01M38.0 384.1h.01M21.5 394.2h.01M79.6 376.5h.01M42.4 337.7h.01M28.3 374.1h.01M64.6 359.8h.01M52.0 345.9h.01M110.3 349.5h.01M32.7 342.5h.01M28.9 383.6h.01M66.3 314.9h.01M60.1 304.8h.01M59.4 314.0h.01M62.9 381.6h.01M63.4 343.1h.01M82.4 344.0h.01M105.1 348.4h.01M24.3 357.2h.01M75.0 386.3h.01M53.1 350.7h.01M44.6 341.4h.01M27.1 374.3h.01M22.4 343.6h.01M22.4 353.8h.01M46.0 351.7h.01M55.7 343.9h.01M33.9 340.1h.01M92.5 384.6h.01M25.1 334.6h.01M107.9 354.8h.01M83.0 365.2h.01M87.4 382.0h.01M109.6 360.8h.01M46.4 336.5h.01M80.6 353.4h.01M32.2 330.4h.01" stroke="#2e160c" stroke-width="1.1" stroke-linecap="round" opacity="0.9"/><path d="M30.9 338.1h.01M67.2 338.7h.01M93.6 395.0h.01M23.0 369.1h.01M68.1 322.8h.01M43.2 341.4h.01M24.0 378.8h.01M47.8 335.1h.01M24.1 359.6h.01M40.5 344.7h.01M47.7 390.4h.01M40.3 343.7h.01M58.1 310.7h.01M89.2 325.0h.01M49.9 305.2h.01M97.7 367.9h.01M29.4 327.8h.01M27.8 367.7h.01M65.0 384.1h.01M67.6 372.2h.01M40.0 331.9h.01M60.7 362.0h.01M53.8 372.2h.01M39.4 351.7h.01M21.7 333.8h.01M80.8 372.6h.01M83.0 393.8h.01M30.5 394.0h.01M103.9 372.6h.01M38.3 383.9h.01M24.3 394.1h.01M102.1 384.5h.01M61.9 335.4h.01M95.0 363.8h.01M49.0 336.6h.01M85.7 387.9h.01M65.9 378.0h.01M35.6 363.2h.01M43.4 341.7h.01M36.8 383.8h.01M22.6 383.1h.01M25.5 368.4h.01M24.6 322.6h.01M110.8 356.2h.01M51.9 335.0h.01M69.2 331.6h.01M36.7 340.6h.01M46.0 358.4h.01M40.5 331.4h.01M64.2 316.1h.01M23.4 371.2h.01M23.3 336.8h.01M39.5 342.7h.01M60.9 383.4h.01M87.2 360.4h.01M111.8 366.9h.01M60.1 346.1h.01" stroke="#2e160c" stroke-width="1.2" stroke-linecap="round" opacity="0.9"/><path d="M39.2 340.4h.01M34.3 337.8h.01M104.2 386.3h.01M74.6 388.2h.01M76.8 360.6h.01M70.7 387.9h.01M85.6 375.9h.01M81.3 309.4h.01M21.5 347.4h.01M75.2 344.0h.01M37.3 361.8h.01M89.1 353.3h.01M52.3 395.2h.01M20.7 331.0h.01M37.1 379.6h.01M30.7 389.2h.01M66.2 355.6h.01M105.7 350.0h.01M42.9 355.9h.01M56.9 348.9h.01M72.1 379.4h.01M24.3 335.1h.01M28.1 358.0h.01M65.3 342.7h.01M34.4 366.5h.01M19.4 381.7h.01M43.5 336.2h.01M78.5 355.6h.01M97.6 382.2h.01M64.5 304.8h.01M114.9 350.5h.01M71.1 384.8h.01M85.8 368.6h.01M99.9 387.1h.01M60.9 358.0h.01M19.7 340.0h.01M55.3 349.4h.01M34.5 337.6h.01M86.4 382.9h.01M20.9 368.4h.01M24.1 384.3h.01M25.3 390.5h.01M111.8 355.0h.01M90.8 376.6h.01M59.0 328.2h.01M22.8 329.4h.01M31.3 371.5h.01M63.8 377.8h.01M106.6 387.7h.01M80.0 390.7h.01M21.8 362.1h.01M43.1 368.3h.01M106.1 353.4h.01M49.9 352.4h.01M35.4 342.5h.01M51.8 333.9h.01M31.0 325.4h.01M81.6 381.0h.01M19.9 350.5h.01" stroke="#2e160c" stroke-width="1.3" stroke-linecap="round" opacity="0.9"/><path d="M24.1 342.0h.01M35.0 337.9h.01M20.7 343.7h.01M23.7 337.7h.01M110.0 356.6h.01M70.1 350.0h.01M76.1 373.6h.01M76.6 388.0h.01M59.0 393.6h.01M36.6 347.7h.01M46.1 392.3h.01M66.5 326.3h.01M93.5 385.9h.01M23.1 363.8h.01M24.0 355.5h.01M27.9 355.8h.01M21.5 380.5h.01M21.0 376.3h.01M39.1 338.4h.01M46.3 357.4h.01M52.5 342.2h.01M70.4 344.7h.01M82.5 359.0h.01M75.2 381.5h.01M65.1 340.3h.01M55.4 337.7h.01M69.6 377.0h.01M21.5 378.5h.01M54.0 315.7h.01M21.9 384.7h.01M83.0 324.1h.01M23.3 361.9h.01M45.7 332.2h.01M31.5 363.3h.01M29.8 345.1h.01M108.9 349.6h.01M66.0 316.2h.01M70.1 395.1h.01M101.8 391.0h.01M112.9 358.5h.01M110.9 350.9h.01" stroke="#2e160c" stroke-width="1.4" stroke-linecap="round" opacity="0.9"/><path d="M24.0 361.0h.01M37.8 339.1h.01M34.5 380.9h.01M33.9 349.9h.01M76.8 383.4h.01M32.4 373.2h.01M40.7 387.0h.01M70.2 380.3h.01M40.6 392.0h.01M76.3 357.6h.01M91.4 342.5h.01M39.0 355.7h.01M90.1 387.8h.01M107.3 357.5h.01M61.2 334.9h.01M62.9 347.1h.01M69.5 390.5h.01M27.1 337.9h.01M43.7 335.7h.01M69.6 344.3h.01M59.5 311.8h.01M59.8 350.3h.01M20.1 354.3h.01M49.5 332.6h.01M49.4 376.5h.01M81.9 383.4h.01M28.1 345.9h.01M61.7 336.3h.01M67.4 350.1h.01M84.8 390.6h.01M109.9 368.0h.01M50.3 305.0h.01M34.7 381.0h.01M59.0 349.6h.01M58.3 369.4h.01M23.0 328.9h.01M66.7 343.5h.01M37.3 347.1h.01M38.9 342.8h.01M88.5 375.6h.01M84.4 359.4h.01M78.8 347.8h.01M59.5 336.5h.01" stroke="#2e160c" stroke-width="1.5" stroke-linecap="round" opacity="0.9"/><path d="M42.4 349.7h.01M101.0 353.7h.01M73.2 341.1h.01M44.2 325.9h.01M55.8 344.7h.01M44.2 333.0h.01M96.2 364.7h.01M62.0 340.2h.01M77.8 387.6h.01M45.9 330.4h.01M23.4 366.9h.01M102.1 341.9h.01M70.8 332.4h.01M28.9 372.4h.01M67.2 336.3h.01M43.8 386.0h.01M40.0 342.1h.01M21.1 372.9h.01M22.9 381.7h.01M79.6 352.4h.01M41.4 343.6h.01M83.9 390.4h.01M43.3 365.0h.01M53.1 355.3h.01M60.4 393.8h.01M80.8 379.8h.01M70.3 303.1h.01M73.8 393.1h.01M29.5 350.5h.01M46.0 337.8h.01M67.8 370.7h.01M70.2 356.7h.01M28.9 366.3h.01M24.5 359.5h.01M79.5 383.3h.01M48.3 359.6h.01M39.3 352.4h.01M32.0 348.6h.01M41.7 367.8h.01M31.9 354.8h.01M55.1 344.3h.01M38.2 364.3h.01M42.9 340.2h.01M69.2 306.9h.01M49.6 379.0h.01M68.8 380.6h.01M109.8 373.7h.01M32.6 392.4h.01M96.7 367.8h.01M46.6 375.7h.01M38.8 371.8h.01M86.1 371.0h.01M56.2 301.4h.01M35.2 365.6h.01M70.7 371.5h.01M61.7 349.2h.01M74.2 348.0h.01M62.4 317.3h.01M28.8 344.3h.01M74.8 370.4h.01M108.8 355.0h.01M21.5 332.4h.01M70.0 304.3h.01" stroke="#2e160c" stroke-width="1.6" stroke-linecap="round" opacity="0.9"/><path d="M85.9 333.9h.01M72.0 341.1h.01M105.2 374.2h.01M72.7 371.9h.01M21.5 354.8h.01M103.5 348.0h.01M39.6 386.2h.01M93.2 388.7h.01M72.6 384.9h.01M63.9 315.6h.01M70.3 316.4h.01M40.7 333.6h.01M27.0 395.3h.01M77.9 394.2h.01M62.9 395.7h.01M88.4 375.2h.01M19.9 390.3h.01M33.1 368.5h.01M58.1 362.1h.01M29.2 338.0h.01M45.4 328.8h.01M106.8 382.9h.01M84.8 380.0h.01M64.3 390.8h.01M53.3 318.9h.01M63.8 338.3h.01M76.2 375.3h.01M71.8 309.4h.01M22.7 360.5h.01M55.1 350.2h.01M93.8 375.7h.01M62.2 342.6h.01M77.5 307.9h.01M33.5 381.9h.01M29.9 376.0h.01M83.2 381.6h.01M64.0 349.5h.01M71.6 385.1h.01M60.4 342.8h.01M21.2 379.5h.01M81.5 302.8h.01M68.8 320.1h.01M32.1 359.0h.01M81.4 317.0h.01" stroke="#2e160c" stroke-width="1.7" stroke-linecap="round" opacity="0.9"/><path d="M20.8 336.9h.01M34.1 363.9h.01M41.6 386.0h.01M48.9 349.5h.01M57.8 348.9h.01M58.6 378.2h.01M37.9 350.4h.01M33.3 326.1h.01M85.1 337.5h.01M39.7 340.7h.01M35.5 378.5h.01M36.2 393.4h.01M64.0 386.5h.01M27.2 362.8h.01M46.3 327.8h.01M39.6 338.9h.01M28.6 387.3h.01M32.5 345.0h.01M37.8 373.4h.01M39.2 350.7h.01M36.5 379.3h.01M91.3 371.5h.01M46.8 339.4h.01M32.0 385.1h.01M85.8 379.0h.01M52.8 369.4h.01M26.8 329.3h.01M24.9 378.1h.01M37.7 349.6h.01M41.5 359.8h.01M70.7 365.3h.01" stroke="#2e160c" stroke-width="1.8" stroke-linecap="round" opacity="0.9"/></g>
<ellipse cx="34.2" cy="346.3" rx="3.5" ry="4" fill="#e6e6ee" opacity="0.75" filter="url(#bl2)"/>
<ellipse cx="107.2" cy="367.3" rx="4" ry="4" fill="#e6e6ee" opacity="0.75" filter="url(#bl2)"/>
<ellipse cx="59.2" cy="324.3" rx="3" ry="3" fill="#e6e6ee" opacity="0.75" filter="url(#bl2)"/>
</g>
<line x1="23.2" y1="389.8" x2="44.7" y2="389.8" stroke="#9a9aa8" stroke-width="1.4" opacity="0.8"/>
<text x="46.2" y="391.40000000000003" font-size="6.2" font-weight="bold" fill="#111" font-family="'Liberation Sans',Arial,sans-serif">100µm</text>
<rect x="19.7" y="301.8" width="19.4" height="22" fill="#ffffff" fill-opacity="0.3" stroke="#2a2a2a" stroke-width="1"/>
<text x="29.4" y="317.6" text-anchor="middle" font-size="14" font-weight="bold" fill="#111" font-family="'Liberation Sans',Arial,sans-serif">A</text>
<clipPath id="cp01"><rect x="116.4" y="301.3" width="94.6" height="94.5"/></clipPath>
<g clip-path="url(#cp01)">
<rect x="116.4" y="301.3" width="94.6" height="94.5" filter="url(#tbon)"/>
<g filter="url(#bl)"><path d="M120.8 351.4h.01M189.5 308.3h.01M133.6 348.2h.01M204.7 308.6h.01M148.2 346.3h.01M197.6 317.7h.01M145.9 376.2h.01M155.8 335.4h.01M158.0 370.3h.01M185.1 359.0h.01M194.1 341.0h.01M121.6 378.6h.01M194.4 306.9h.01M177.4 364.9h.01M171.9 356.3h.01M193.5 373.1h.01M122.5 355.0h.01M146.2 338.7h.01M165.7 320.1h.01M145.7 377.4h.01M140.7 309.2h.01M200.4 370.6h.01M142.1 386.2h.01M151.7 313.7h.01M124.3 352.3h.01M118.6 337.8h.01M179.1 387.6h.01M137.3 323.9h.01M165.3 311.1h.01M176.6 380.2h.01M128.7 306.5h.01M182.0 314.5h.01M163.2 339.5h.01M167.6 368.2h.01M206.5 374.4h.01M201.1 351.4h.01M176.1 360.5h.01M119.3 390.0h.01M207.4 338.1h.01M192.4 377.8h.01M138.8 311.1h.01M186.9 385.9h.01M155.8 311.9h.01M143.3 348.8h.01M152.4 348.2h.01M161.2 346.8h.01M145.7 309.0h.01M168.7 351.0h.01M188.4 339.9h.01M122.2 355.5h.01M204.5 341.3h.01M167.1 344.3h.01M138.1 371.3h.01" stroke="#632d18" stroke-width="1.8" stroke-linecap="round" opacity="0.95"/><path d="M117.3 354.6h.01M181.8 365.9h.01M154.3 306.4h.01M159.4 329.4h.01M120.6 390.7h.01M139.3 314.2h.01M200.0 320.6h.01M153.9 382.4h.01M190.5 341.0h.01M201.2 368.7h.01M143.1 376.8h.01M141.1 319.2h.01M151.3 347.0h.01M157.1 354.2h.01M204.1 313.0h.01M116.4 386.6h.01M157.1 331.5h.01M138.1 369.8h.01M197.3 328.7h.01M143.1 351.3h.01M182.3 325.5h.01M140.2 360.7h.01M168.1 357.0h.01M185.8 392.3h.01M188.2 336.9h.01M191.1 364.4h.01M152.6 332.5h.01M161.8 342.7h.01M160.2 342.5h.01M180.7 387.5h.01M158.9 369.7h.01M206.0 371.8h.01M126.1 393.6h.01M150.4 379.5h.01M159.4 303.3h.01M193.9 363.2h.01M131.1 355.9h.01M189.2 390.9h.01M155.0 336.7h.01M210.2 308.3h.01M183.5 338.0h.01M205.5 362.0h.01M118.7 381.4h.01M136.2 385.0h.01M172.5 350.6h.01M145.0 324.6h.01M200.3 351.8h.01M147.8 367.1h.01M147.1 301.7h.01M157.2 352.1h.01M205.7 359.6h.01M118.1 367.7h.01M197.2 362.5h.01M147.8 343.0h.01M140.7 356.4h.01M196.5 389.7h.01M194.1 346.9h.01M179.9 328.5h.01M162.9 392.0h.01M127.8 319.1h.01M198.4 324.0h.01M205.0 308.3h.01M185.1 337.9h.01M195.7 338.5h.01M187.3 341.5h.01M154.5 356.1h.01M153.8 317.7h.01M184.3 351.8h.01M165.6 375.6h.01M199.1 360.0h.01M171.5 304.5h.01M129.0 303.4h.01M203.3 326.9h.01M171.2 314.0h.01M205.7 369.8h.01M198.5 371.3h.01M134.5 363.6h.01M156.3 331.7h.01M127.3 371.8h.01M145.9 352.8h.01M180.6 348.6h.01M141.9 304.3h.01M210.4 303.4h.01M137.7 302.4h.01M165.0 359.1h.01M200.1 379.4h.01M127.1 302.2h.01M203.3 310.5h.01M183.2 332.6h.01M178.4 386.9h.01M135.3 307.4h.01M130.7 307.5h.01M139.2 394.4h.01M172.2 340.9h.01M140.8 301.8h.01M167.9 358.9h.01M188.5 337.8h.01M156.1 340.0h.01M121.9 373.8h.01" stroke="#632d18" stroke-width="1.9" stroke-linecap="round" opacity="0.95"/><path d="M171.0 346.8h.01M184.8 338.0h.01M201.3 345.7h.01M197.5 367.1h.01M190.2 390.4h.01M196.0 363.5h.01M200.0 331.9h.01M187.8 342.0h.01M120.4 373.3h.01M187.5 364.8h.01M190.2 338.0h.01M157.2 381.7h.01M197.1 369.5h.01M141.0 307.2h.01M145.6 348.7h.01M179.3 311.9h.01M202.9 326.1h.01M122.8 362.6h.01M131.4 354.6h.01M154.3 372.1h.01M149.3 305.9h.01M132.8 304.5h.01M137.4 303.7h.01M157.1 376.9h.01M153.6 352.6h.01M160.3 390.0h.01M163.1 309.9h.01M168.6 346.7h.01M146.4 375.7h.01M135.3 382.9h.01M209.9 326.8h.01M145.3 317.5h.01M207.1 360.1h.01M122.1 350.9h.01M199.3 332.3h.01M178.7 312.7h.01M154.1 371.1h.01M189.0 385.8h.01M160.6 308.7h.01M195.4 358.2h.01M145.2 314.2h.01M193.7 351.3h.01M199.8 370.6h.01M192.1 368.9h.01M120.1 388.8h.01M189.9 303.8h.01M130.1 309.0h.01M128.4 307.8h.01M123.1 321.5h.01M151.9 315.9h.01M123.5 328.8h.01M135.7 362.1h.01M122.9 361.8h.01M149.9 315.6h.01M180.2 338.3h.01M183.6 384.2h.01M165.2 348.6h.01M209.5 380.5h.01M207.9 372.8h.01M168.4 382.5h.01M162.9 362.1h.01M202.1 374.7h.01M160.2 343.8h.01M209.0 361.0h.01M150.6 381.3h.01M123.2 343.2h.01M127.4 322.9h.01M168.5 309.8h.01M133.7 305.3h.01M138.9 350.9h.01M195.1 321.9h.01M166.3 336.3h.01M145.8 349.4h.01M201.8 367.2h.01M178.4 361.5h.01M122.5 393.0h.01M202.7 382.8h.01M191.6 380.1h.01M145.4 394.0h.01M159.0 384.4h.01M120.4 393.4h.01M122.0 375.1h.01M139.0 313.5h.01M161.6 331.4h.01M124.6 325.3h.01M201.3 352.5h.01M145.7 333.4h.01M146.5 339.3h.01M163.0 303.3h.01M144.6 379.3h.01M145.2 383.8h.01M167.5 363.5h.01M206.9 355.4h.01M157.4 389.1h.01M156.0 310.8h.01M117.4 381.0h.01M164.6 311.8h.01M176.6 373.0h.01M154.4 313.2h.01M146.6 304.4h.01M125.9 339.3h.01M195.0 358.5h.01M155.0 311.7h.01M124.3 360.2h.01M188.8 342.0h.01M133.3 371.2h.01M151.7 378.6h.01M202.1 364.0h.01" stroke="#632d18" stroke-width="2.0" stroke-linecap="round" opacity="0.95"/><path d="M136.5 393.1h.01M155.9 326.4h.01M191.7 310.4h.01M200.0 372.9h.01M174.6 359.4h.01M142.4 321.9h.01M194.5 323.5h.01M162.6 311.7h.01M185.8 306.6h.01M198.8 360.2h.01M184.5 336.8h.01M198.5 326.7h.01M153.5 366.7h.01M183.3 364.6h.01M117.1 328.3h.01M178.9 358.7h.01M200.1 315.6h.01M119.7 351.3h.01M145.3 319.2h.01M130.7 313.7h.01M198.4 362.1h.01M136.5 304.7h.01M146.5 320.4h.01M187.5 359.9h.01M124.5 343.3h.01M192.4 349.3h.01M142.5 301.4h.01M135.1 361.4h.01M131.5 379.6h.01M182.5 345.3h.01M209.9 371.7h.01M190.7 338.2h.01M152.3 370.5h.01M164.1 336.1h.01M177.9 339.5h.01M167.9 356.9h.01M179.1 345.8h.01M137.9 329.9h.01M135.7 320.9h.01M197.5 363.2h.01M136.5 355.1h.01M153.3 347.1h.01M134.8 357.0h.01M196.2 338.8h.01M199.2 374.8h.01M202.9 379.3h.01M124.5 308.5h.01M173.8 393.8h.01M129.5 320.0h.01M135.8 316.8h.01M146.0 363.6h.01M120.9 341.0h.01M199.7 383.5h.01M138.8 322.7h.01M140.6 326.4h.01M204.3 374.3h.01M152.6 348.6h.01M118.0 390.1h.01M177.7 341.9h.01M133.4 334.1h.01M138.6 355.9h.01M192.9 309.9h.01M169.2 311.0h.01M189.1 359.2h.01M121.2 389.2h.01M122.4 344.4h.01M124.6 335.1h.01M125.5 375.2h.01M124.6 349.3h.01M164.1 312.8h.01M200.5 337.1h.01M201.4 301.5h.01M194.6 392.8h.01M148.1 346.9h.01M188.3 341.5h.01M203.2 320.9h.01M162.5 358.7h.01M130.4 355.6h.01M132.3 353.2h.01M203.9 374.6h.01M198.5 306.2h.01M203.0 311.4h.01M194.3 345.5h.01M180.5 330.7h.01M155.3 355.8h.01M199.2 318.8h.01M143.8 320.3h.01M138.5 371.7h.01M204.0 389.0h.01M160.6 355.8h.01" stroke="#632d18" stroke-width="2.1" stroke-linecap="round" opacity="0.95"/><path d="M181.6 334.4h.01M166.6 394.5h.01M117.1 331.7h.01M181.4 359.5h.01M164.5 377.7h.01M124.3 375.9h.01M189.1 366.4h.01M181.4 386.9h.01M199.0 327.5h.01M159.4 332.1h.01M204.8 339.5h.01M182.3 370.0h.01M123.9 378.9h.01M156.7 315.7h.01M202.4 387.6h.01M122.2 365.2h.01M196.9 367.8h.01M137.6 312.1h.01M190.8 325.1h.01M170.4 301.7h.01M124.2 363.5h.01M166.4 374.1h.01M179.9 330.8h.01M176.9 356.9h.01M191.6 312.9h.01M209.6 380.9h.01M152.8 313.9h.01M144.0 351.0h.01M157.6 337.7h.01M209.9 347.1h.01M149.4 355.6h.01M167.5 357.0h.01M119.5 378.1h.01M200.3 381.4h.01M141.1 387.5h.01M184.7 347.0h.01M124.7 380.5h.01M125.5 355.5h.01M150.1 316.3h.01M158.1 346.8h.01M180.7 385.5h.01M185.2 387.1h.01M205.5 329.2h.01M127.7 346.8h.01M180.0 317.1h.01M117.6 393.2h.01M140.9 306.3h.01M181.4 339.3h.01M165.4 343.9h.01M183.1 360.9h.01M156.5 365.4h.01M200.5 333.8h.01M172.4 304.1h.01M196.5 350.7h.01M194.6 321.4h.01M166.6 363.5h.01M180.3 302.4h.01M139.9 356.1h.01M189.8 378.8h.01M136.0 309.8h.01M130.3 339.6h.01M202.4 377.6h.01M180.5 335.4h.01M197.8 357.0h.01M131.4 347.8h.01M152.9 353.8h.01M136.8 361.9h.01M201.0 375.0h.01M209.3 312.5h.01M166.1 326.2h.01M168.6 359.9h.01M199.8 330.0h.01M185.0 306.5h.01M182.8 366.3h.01M207.9 368.2h.01M142.4 314.2h.01M200.4 335.1h.01M127.5 379.6h.01M205.8 301.7h.01M132.8 376.6h.01M187.0 312.7h.01M201.5 379.5h.01M197.6 369.9h.01M194.7 344.7h.01M169.2 357.5h.01M165.7 321.0h.01M207.3 376.2h.01M175.8 312.0h.01M123.3 391.3h.01M204.3 372.8h.01M133.8 310.0h.01M191.1 388.3h.01M177.9 362.2h.01M121.4 384.0h.01M163.7 331.1h.01" stroke="#632d18" stroke-width="2.2" stroke-linecap="round" opacity="0.95"/><path d="M154.5 314.0h.01M204.9 332.7h.01M121.9 376.2h.01M185.0 358.3h.01M196.9 373.8h.01M170.1 365.9h.01M132.1 349.8h.01M126.9 346.8h.01M202.7 334.8h.01M206.0 330.1h.01M142.4 316.5h.01M142.1 317.9h.01M198.3 350.6h.01M138.9 337.4h.01M190.4 389.6h.01M187.2 313.7h.01M193.8 368.8h.01M116.6 369.3h.01M202.6 381.6h.01M161.2 349.1h.01M209.2 386.8h.01M132.3 334.8h.01M159.9 332.0h.01M178.1 376.4h.01M164.3 382.4h.01M132.4 357.9h.01M140.1 316.9h.01M151.9 325.9h.01M205.1 351.8h.01M143.8 386.6h.01M204.3 325.6h.01M118.9 336.9h.01M190.1 332.8h.01M138.4 391.0h.01M202.1 377.2h.01M200.6 332.1h.01M150.8 375.5h.01M200.8 330.7h.01M182.1 361.7h.01M135.7 319.6h.01M143.7 321.7h.01M171.2 349.1h.01M118.8 391.6h.01M206.7 312.2h.01M177.1 318.6h.01M142.0 380.7h.01M204.8 367.4h.01M195.5 340.0h.01M191.3 342.9h.01M190.1 379.7h.01M168.5 311.5h.01M125.3 385.0h.01M146.1 302.4h.01M122.5 337.6h.01M201.7 378.3h.01M193.6 382.2h.01M122.4 391.8h.01M123.8 361.8h.01M197.6 375.9h.01M145.6 315.8h.01M167.8 320.5h.01M125.6 354.9h.01M210.8 362.2h.01M155.8 387.6h.01M167.3 343.7h.01M175.2 386.6h.01M200.5 307.9h.01M180.6 381.4h.01M119.7 359.8h.01M119.8 367.0h.01M196.1 316.8h.01M196.1 351.6h.01M120.0 362.0h.01M161.4 374.0h.01" stroke="#632d18" stroke-width="2.3" stroke-linecap="round" opacity="0.95"/><path d="M130.4 312.7h.01M179.0 362.2h.01M185.3 366.0h.01M190.4 317.6h.01M137.8 395.6h.01M127.6 305.5h.01M210.7 345.2h.01M150.9 305.6h.01M146.2 326.1h.01M146.3 351.4h.01M205.6 368.3h.01M150.7 361.4h.01M168.0 375.5h.01M180.6 348.9h.01M190.8 378.1h.01M152.0 322.8h.01M203.5 324.6h.01M135.1 371.3h.01M128.1 352.3h.01M179.2 363.7h.01M195.2 342.2h.01M147.4 324.3h.01M117.6 350.0h.01M192.5 367.4h.01M132.7 386.7h.01M199.5 331.7h.01M167.2 306.9h.01M148.2 385.2h.01M184.8 361.4h.01M189.3 394.0h.01M208.1 320.4h.01M202.7 370.9h.01M146.5 302.0h.01M143.8 315.9h.01M116.9 383.1h.01M209.0 373.3h.01M169.8 363.0h.01M117.3 338.4h.01M205.3 327.3h.01M133.0 353.7h.01M174.4 374.6h.01M140.8 331.7h.01M173.4 332.3h.01M164.9 357.8h.01M168.7 336.5h.01M184.5 371.7h.01M200.8 312.5h.01M203.0 370.6h.01M196.3 324.9h.01M157.1 387.8h.01M142.6 353.2h.01M124.2 378.1h.01M207.6 369.6h.01M194.9 339.4h.01M138.8 376.9h.01M125.1 377.1h.01M195.1 351.0h.01M135.7 373.4h.01M145.3 310.8h.01M194.6 381.9h.01M117.1 346.7h.01M138.3 378.9h.01M118.4 346.6h.01M173.6 384.2h.01M206.5 363.1h.01M132.4 346.3h.01M201.8 311.6h.01M155.1 330.3h.01M142.0 324.9h.01M202.4 387.1h.01M141.5 359.0h.01M166.8 364.1h.01M146.2 302.9h.01M152.4 328.2h.01M178.0 333.1h.01M193.4 342.7h.01M190.2 358.7h.01M136.9 360.5h.01M170.7 356.6h.01M154.2 345.0h.01M193.0 344.4h.01M191.3 336.8h.01M136.8 307.5h.01M187.4 362.3h.01" stroke="#632d18" stroke-width="2.4" stroke-linecap="round" opacity="0.95"/><path d="M145.3 314.6h.01M183.9 302.3h.01M200.4 383.9h.01M203.9 321.1h.01M159.5 312.9h.01M147.5 315.9h.01M169.0 352.7h.01M142.9 327.4h.01M206.1 318.3h.01M153.6 354.1h.01M130.1 302.2h.01M208.4 365.5h.01M164.1 395.3h.01M149.7 308.8h.01M145.3 394.2h.01M183.1 345.9h.01M181.8 387.2h.01M200.3 379.4h.01M178.5 367.8h.01M117.7 354.3h.01M198.2 314.4h.01M207.5 376.8h.01M160.4 386.3h.01M125.1 377.3h.01M201.8 372.9h.01M187.7 370.1h.01M168.5 377.8h.01M117.9 359.4h.01M200.2 319.5h.01M123.4 385.7h.01M123.1 380.9h.01M148.7 343.3h.01M198.6 319.9h.01M208.4 346.9h.01M140.2 312.4h.01M196.7 330.5h.01M176.2 315.1h.01M206.3 377.6h.01M154.1 334.6h.01M193.4 365.1h.01M149.1 302.3h.01M169.7 365.9h.01M141.6 353.1h.01M203.9 324.8h.01M189.8 307.0h.01M162.0 386.3h.01M162.9 350.1h.01M200.2 320.4h.01M128.0 311.2h.01M186.2 353.2h.01M186.6 344.5h.01M144.6 353.9h.01M202.7 376.8h.01M197.1 376.5h.01M138.3 357.2h.01M172.0 361.7h.01M199.4 330.6h.01M194.4 369.0h.01M197.8 356.7h.01M143.1 311.5h.01M180.0 336.9h.01M195.0 329.3h.01M125.9 340.7h.01M160.4 340.1h.01M180.0 390.9h.01M119.8 366.4h.01M178.3 340.3h.01M122.3 391.4h.01M131.4 306.5h.01M117.5 326.0h.01M195.4 383.9h.01M118.1 357.7h.01M138.1 311.2h.01M154.6 317.7h.01M192.4 369.8h.01M180.1 326.1h.01M204.6 380.7h.01M210.7 361.4h.01M192.9 330.8h.01M151.0 367.7h.01M133.1 379.8h.01M132.5 321.2h.01M163.6 388.0h.01M199.3 347.7h.01M152.2 318.9h.01M149.4 302.7h.01M131.2 325.2h.01" stroke="#632d18" stroke-width="2.5" stroke-linecap="round" opacity="0.95"/><path d="M124.8 374.1h.01M185.3 335.6h.01M198.4 381.9h.01M194.6 312.6h.01M182.7 305.0h.01M134.9 375.3h.01M127.4 308.1h.01M204.9 327.7h.01M200.2 311.8h.01M167.0 333.4h.01M168.7 316.3h.01M137.9 376.4h.01M162.9 342.6h.01M128.1 380.9h.01M209.6 334.0h.01M128.7 371.6h.01M196.7 350.5h.01M141.9 383.1h.01M129.2 332.3h.01M134.0 375.5h.01M189.0 373.5h.01M181.8 329.8h.01M131.7 378.4h.01M191.3 356.0h.01M185.3 305.6h.01M130.6 347.8h.01M198.8 362.6h.01M137.2 309.6h.01M171.0 316.3h.01M163.4 344.0h.01M124.1 317.3h.01M167.7 319.0h.01M135.0 359.6h.01M178.5 375.3h.01M170.1 381.9h.01M167.7 317.5h.01M146.1 387.0h.01M131.0 329.3h.01M129.2 341.5h.01M207.2 322.5h.01M118.4 364.0h.01M170.6 337.1h.01M165.2 344.5h.01M194.7 372.5h.01M164.2 301.5h.01M199.2 337.4h.01M186.0 394.9h.01M169.0 321.6h.01M183.8 340.4h.01M191.1 384.6h.01M201.6 366.6h.01M140.1 306.9h.01M140.1 319.6h.01M192.3 350.7h.01M165.2 391.9h.01M156.0 379.5h.01M145.4 351.6h.01M190.8 390.5h.01M129.3 369.0h.01M199.1 311.6h.01M201.3 304.1h.01M170.5 331.6h.01M195.7 340.9h.01M187.8 342.4h.01M148.2 327.7h.01M168.2 351.4h.01M196.2 322.1h.01M133.7 309.8h.01M130.7 326.4h.01M164.4 361.4h.01M178.3 326.6h.01M199.3 375.9h.01M149.3 341.6h.01M177.2 362.8h.01M195.8 383.5h.01M152.8 306.8h.01M134.7 363.1h.01M144.6 315.9h.01M141.7 323.3h.01M160.4 317.8h.01M199.7 327.5h.01M208.0 383.6h.01M193.5 376.9h.01M166.9 315.9h.01M209.3 378.1h.01M180.4 332.8h.01M141.5 348.6h.01M193.9 309.5h.01M194.8 381.1h.01M146.7 350.9h.01M117.9 343.2h.01M209.8 325.8h.01M161.0 378.8h.01M154.5 311.5h.01M171.9 321.3h.01M167.1 324.0h.01M198.0 335.4h.01" stroke="#632d18" stroke-width="2.6" stroke-linecap="round" opacity="0.95"/><path d="M179.7 301.9h.01M200.1 333.2h.01M181.4 335.7h.01M119.6 385.6h.01M126.0 373.3h.01M166.5 354.4h.01M185.6 309.6h.01M208.6 384.1h.01M155.7 355.7h.01M188.8 349.9h.01M174.3 361.8h.01M130.4 391.7h.01M157.9 388.2h.01M197.9 367.2h.01M189.8 336.3h.01M206.1 373.6h.01M196.4 388.8h.01M158.8 319.4h.01M143.4 314.7h.01M140.0 309.2h.01M197.4 302.3h.01M121.5 378.3h.01M182.7 305.3h.01M193.1 343.5h.01M152.2 309.4h.01M155.3 356.3h.01M181.9 386.8h.01M168.4 376.8h.01M202.0 312.0h.01M168.6 339.3h.01M156.3 369.4h.01M127.7 315.7h.01M195.6 335.6h.01M187.9 370.7h.01M148.0 359.2h.01M138.2 375.2h.01M185.8 329.9h.01M163.0 340.7h.01M146.1 326.1h.01M197.4 336.3h.01M210.5 318.5h.01M134.2 308.0h.01M209.8 368.6h.01M120.4 354.8h.01M189.0 329.3h.01M138.1 309.1h.01M198.8 371.8h.01M121.0 362.1h.01M209.9 380.7h.01M178.5 351.2h.01M140.7 302.6h.01M128.0 315.2h.01M193.7 386.2h.01M160.2 387.1h.01M175.5 337.9h.01M170.2 354.8h.01M209.1 312.4h.01M178.3 385.0h.01M157.8 320.6h.01M165.6 314.5h.01M181.2 390.8h.01M195.3 373.1h.01M140.4 319.8h.01M121.6 359.0h.01M203.3 347.6h.01M183.1 306.5h.01M201.1 313.9h.01M148.9 352.9h.01M184.4 351.6h.01M183.0 330.2h.01M188.0 359.8h.01M201.4 383.5h.01M194.0 355.6h.01M156.0 384.2h.01M169.9 384.3h.01M155.9 336.7h.01M178.4 345.3h.01M118.9 377.8h.01M133.6 371.8h.01M160.9 361.6h.01M117.9 349.8h.01M179.6 308.5h.01M139.5 307.1h.01M132.0 303.4h.01M174.0 332.2h.01M156.0 368.1h.01M142.4 304.6h.01M191.6 310.0h.01M126.8 383.9h.01M168.4 360.9h.01M141.0 322.7h.01M183.3 335.9h.01M175.2 361.4h.01M193.0 356.1h.01M135.5 308.5h.01M200.7 329.4h.01M134.9 312.5h.01M197.2 314.2h.01M209.6 369.9h.01M198.6 341.6h.01M129.0 384.4h.01M206.1 378.3h.01M207.1 390.5h.01M139.5 304.9h.01M117.1 364.9h.01M190.6 341.8h.01M168.0 316.1h.01M205.7 363.2h.01M116.9 333.0h.01M153.0 330.6h.01M164.3 365.1h.01M162.4 312.8h.01M150.3 338.4h.01M125.9 353.5h.01M121.3 338.7h.01M181.9 385.0h.01M167.1 385.9h.01M197.6 374.7h.01" stroke="#632d18" stroke-width="2.7" stroke-linecap="round" opacity="0.95"/><path d="M201.6 331.5h.01M122.2 366.7h.01M148.0 346.9h.01M122.8 347.6h.01M166.7 319.5h.01M209.3 303.8h.01M186.5 335.4h.01M154.0 370.0h.01M127.2 345.9h.01M133.7 311.5h.01M133.0 347.4h.01M206.4 317.9h.01M193.5 302.9h.01M147.8 323.3h.01M176.6 361.3h.01M186.1 303.8h.01M204.0 368.8h.01M152.9 334.1h.01M136.0 327.0h.01M155.0 346.5h.01M168.8 330.2h.01M172.3 301.8h.01M119.7 349.5h.01M117.1 354.1h.01M174.8 359.1h.01M173.8 391.3h.01M181.3 370.3h.01M210.8 378.2h.01M120.0 391.2h.01M167.9 337.1h.01M152.7 330.3h.01M206.2 315.6h.01M117.3 335.3h.01M189.5 306.4h.01M171.0 367.7h.01M184.2 355.3h.01M166.1 360.3h.01M183.9 364.5h.01M135.9 354.6h.01M181.5 369.5h.01M134.0 305.4h.01M207.5 372.6h.01M126.5 367.2h.01M200.4 367.8h.01M169.4 319.7h.01M151.5 310.8h.01M157.0 384.2h.01M137.1 349.7h.01M150.6 339.2h.01M203.1 337.8h.01M151.4 351.1h.01M126.1 362.5h.01M206.7 334.3h.01M137.3 369.8h.01M180.4 301.7h.01M172.1 303.0h.01M142.3 316.3h.01M164.0 310.6h.01M182.4 302.1h.01M156.9 352.2h.01M199.4 387.6h.01M156.2 306.5h.01M204.8 372.0h.01M153.1 321.4h.01M156.2 379.0h.01M169.4 331.8h.01M172.7 301.9h.01M149.7 375.2h.01M129.6 343.7h.01M121.0 365.5h.01M158.9 314.4h.01M157.1 309.3h.01M132.7 311.7h.01M208.2 343.9h.01M202.1 337.3h.01M202.2 328.5h.01M182.9 368.8h.01M202.0 313.3h.01M132.3 357.5h.01M170.7 359.0h.01M209.0 377.1h.01M208.8 377.3h.01M161.1 314.8h.01M180.0 367.4h.01M183.9 356.8h.01M138.3 315.7h.01M128.4 345.2h.01M144.7 367.2h.01M176.7 357.6h.01M143.6 321.7h.01M204.6 314.8h.01M189.8 354.0h.01M198.0 382.6h.01M187.1 333.7h.01M117.4 368.3h.01M179.3 359.5h.01" stroke="#632d18" stroke-width="2.8" stroke-linecap="round" opacity="0.95"/><path d="M136.7 322.3h.01M133.5 307.5h.01M199.2 380.5h.01M192.5 323.8h.01M128.5 352.9h.01M210.3 371.2h.01M148.5 370.3h.01M209.1 381.6h.01M195.4 387.9h.01M171.7 302.5h.01M171.4 384.9h.01M130.8 303.0h.01M133.3 302.1h.01M209.2 380.5h.01M187.1 310.2h.01M204.5 307.5h.01M191.1 349.4h.01M190.8 360.5h.01M160.7 316.6h.01M204.2 349.6h.01M205.0 351.7h.01M125.5 341.4h.01M168.4 314.0h.01M172.4 339.8h.01M158.0 373.8h.01M210.6 362.4h.01M200.7 354.0h.01M204.6 383.6h.01M135.1 342.5h.01M172.8 304.4h.01M129.5 376.2h.01M128.6 341.4h.01M171.8 303.2h.01M141.7 303.1h.01M120.9 363.0h.01M155.6 391.2h.01M187.1 388.2h.01M194.2 369.9h.01M204.5 390.2h.01M130.2 303.9h.01M159.7 308.8h.01M130.5 370.9h.01M170.2 332.5h.01M137.4 304.9h.01M163.9 344.4h.01M167.7 377.6h.01M192.4 333.6h.01M118.4 356.0h.01M187.2 331.5h.01M166.8 321.7h.01M204.2 351.2h.01M160.2 379.8h.01M182.0 388.0h.01M203.5 354.9h.01M171.1 383.6h.01M194.1 312.2h.01M123.4 365.0h.01M180.6 301.4h.01M124.2 352.1h.01M208.0 350.8h.01M210.5 311.1h.01M139.4 305.3h.01M186.0 368.6h.01M164.0 303.7h.01M194.9 364.8h.01M137.5 364.7h.01M137.5 356.9h.01M207.8 356.3h.01M193.0 317.4h.01M202.4 338.9h.01M192.5 331.1h.01M140.9 371.3h.01M158.7 305.0h.01M140.0 316.2h.01M144.6 311.8h.01M119.5 338.2h.01M157.2 302.4h.01M151.5 340.7h.01M135.0 321.1h.01M153.4 361.6h.01M199.1 366.9h.01M189.6 343.9h.01M139.1 355.8h.01M119.2 374.9h.01M210.6 369.1h.01M182.8 362.2h.01M177.0 302.0h.01M159.3 345.0h.01M195.7 386.8h.01M165.2 375.0h.01M209.0 393.6h.01M206.2 361.0h.01M146.2 346.3h.01M208.2 332.0h.01M209.8 327.3h.01M154.4 313.4h.01M170.1 333.5h.01M119.5 391.6h.01M139.6 341.7h.01M124.1 326.6h.01M121.9 356.8h.01M143.8 334.1h.01M202.4 317.9h.01M185.2 336.4h.01M134.3 329.7h.01M145.4 358.3h.01M211.0 337.7h.01M147.9 311.3h.01M152.6 312.6h.01" stroke="#632d18" stroke-width="2.9" stroke-linecap="round" opacity="0.95"/><path d="M139.7 382.8h.01M146.0 328.0h.01M130.4 360.5h.01M143.7 313.9h.01M192.2 379.0h.01M119.2 394.2h.01M127.6 377.2h.01M126.4 353.3h.01M118.0 335.7h.01M201.3 314.9h.01M209.5 375.8h.01M198.0 364.0h.01M196.4 312.2h.01M205.6 362.2h.01M126.5 371.7h.01M201.9 323.7h.01M148.6 368.8h.01M195.7 358.3h.01M198.4 348.6h.01M170.0 377.5h.01M120.4 386.3h.01M166.3 351.9h.01M132.0 394.9h.01M188.5 317.6h.01M140.9 359.5h.01M120.9 382.9h.01M118.7 364.7h.01M124.2 361.7h.01M206.3 367.2h.01M192.0 327.7h.01M134.8 308.5h.01M145.4 335.5h.01M152.9 370.7h.01M145.6 310.9h.01M121.5 356.1h.01M187.4 359.4h.01M171.5 341.2h.01M165.5 353.4h.01M209.1 356.4h.01M170.6 335.2h.01M191.8 346.8h.01M125.4 347.7h.01M119.0 356.8h.01M185.5 387.4h.01M199.3 307.6h.01M204.8 325.9h.01M179.7 308.5h.01M162.2 348.6h.01M179.0 338.8h.01M135.3 309.1h.01M200.3 348.2h.01M175.7 306.6h.01M119.7 394.3h.01M139.4 329.3h.01M205.9 327.2h.01M117.2 379.3h.01M117.1 376.3h.01M154.5 345.2h.01M186.5 333.4h.01M139.7 358.5h.01M180.2 331.8h.01M121.9 343.5h.01M183.4 371.4h.01M163.8 375.0h.01M152.8 362.0h.01M145.6 322.2h.01M149.4 305.0h.01M132.5 359.3h.01M159.4 391.7h.01M193.6 351.9h.01M128.4 313.4h.01M133.3 380.9h.01M157.6 349.5h.01M121.4 353.2h.01M117.9 391.0h.01M206.8 351.0h.01M116.5 375.0h.01M178.7 359.0h.01M197.9 375.7h.01M137.5 326.5h.01M207.6 360.8h.01M162.9 342.5h.01M140.6 306.6h.01M165.6 367.3h.01M138.8 354.0h.01M138.6 352.1h.01M146.0 371.2h.01M184.3 384.7h.01M129.2 306.0h.01M206.1 349.7h.01M167.1 311.8h.01M138.8 308.3h.01M159.7 350.1h.01M188.3 370.8h.01M119.4 392.6h.01M190.3 356.9h.01M116.8 374.6h.01M123.9 354.4h.01M149.3 315.5h.01M145.1 354.4h.01M142.3 379.8h.01M178.4 306.8h.01" stroke="#632d18" stroke-width="3.0" stroke-linecap="round" opacity="0.95"/><path d="M194.9 316.9h.01M207.4 350.1h.01M124.2 333.7h.01M153.3 341.3h.01M147.1 320.1h.01M158.7 302.2h.01M170.9 360.8h.01M201.7 348.7h.01M207.9 359.2h.01M185.6 334.9h.01M192.4 369.2h.01M150.6 328.7h.01M126.1 391.4h.01M192.7 313.4h.01M148.9 336.8h.01M119.7 392.9h.01M190.3 342.5h.01M195.4 386.4h.01M158.8 303.1h.01M193.7 385.0h.01M162.9 331.9h.01M180.8 365.3h.01M196.3 343.5h.01M128.0 309.2h.01M154.4 364.9h.01M210.5 394.1h.01M193.5 312.9h.01M128.5 392.6h.01M196.8 387.9h.01M181.4 336.5h.01M165.3 311.1h.01M194.8 306.3h.01M152.4 318.2h.01M206.1 375.9h.01M122.5 306.8h.01M183.4 340.1h.01M194.2 314.9h.01M197.4 364.1h.01M171.2 360.5h.01M127.3 341.3h.01M173.4 344.1h.01M117.4 350.7h.01M178.4 304.2h.01M146.6 348.5h.01M188.9 336.9h.01M154.0 310.2h.01M198.6 342.1h.01M117.6 383.3h.01M170.1 306.6h.01M117.7 390.2h.01M182.0 331.6h.01M184.4 322.6h.01M206.3 387.1h.01M162.6 320.6h.01M185.6 354.3h.01M187.7 337.0h.01M202.5 362.4h.01M189.2 365.3h.01M121.9 302.3h.01M148.8 332.4h.01M186.1 311.4h.01M150.9 356.1h.01M136.2 315.5h.01M184.7 306.7h.01M134.1 393.0h.01M170.7 319.0h.01M122.2 370.1h.01M183.1 360.5h.01M144.2 317.7h.01M152.8 320.3h.01M141.9 350.3h.01M206.6 380.4h.01M147.0 323.2h.01M125.2 392.9h.01M196.0 366.0h.01M182.3 342.7h.01M120.2 339.3h.01M210.3 358.5h.01M206.0 312.6h.01M170.9 320.9h.01M177.6 302.0h.01M125.5 364.2h.01M163.9 386.9h.01M155.1 328.6h.01M199.8 349.2h.01M185.8 335.7h.01M156.6 317.3h.01M121.3 345.6h.01M138.1 313.4h.01M206.3 389.9h.01M193.9 368.1h.01M197.4 356.7h.01M173.0 349.7h.01M165.9 309.0h.01M184.0 324.9h.01M152.0 356.7h.01M180.5 362.2h.01M120.7 386.4h.01M196.9 392.9h.01M163.8 351.8h.01M186.6 344.7h.01M161.7 317.1h.01M199.5 359.3h.01M197.1 324.7h.01M133.2 389.9h.01M117.4 364.6h.01M158.6 324.8h.01" stroke="#632d18" stroke-width="3.1" stroke-linecap="round" opacity="0.95"/><path d="M163.6 384.1h.01M125.1 363.8h.01M188.1 361.4h.01M196.4 312.7h.01M130.6 344.5h.01M181.9 339.2h.01M142.8 313.6h.01M166.8 323.6h.01M169.7 315.7h.01M182.9 387.6h.01M176.5 366.3h.01M191.7 339.0h.01M174.0 307.4h.01M196.8 335.2h.01M184.8 338.3h.01M155.9 373.2h.01M125.1 357.5h.01M164.3 358.6h.01M188.7 302.8h.01M120.2 367.4h.01M147.2 328.3h.01M201.0 337.2h.01M145.2 332.8h.01M186.3 387.3h.01M127.8 360.0h.01M179.7 344.2h.01M168.9 349.6h.01M151.7 325.0h.01M168.4 303.8h.01M165.7 347.9h.01M176.6 335.0h.01M123.3 327.9h.01M121.8 368.4h.01M167.2 367.4h.01M178.3 357.8h.01M199.5 333.8h.01M164.0 378.1h.01M190.1 317.2h.01M127.3 353.2h.01M117.8 389.4h.01M130.0 351.3h.01M117.1 349.3h.01M190.6 310.9h.01M179.3 331.0h.01M124.5 384.0h.01M145.1 305.1h.01M206.0 354.5h.01M168.3 381.9h.01M197.7 323.0h.01M150.7 360.7h.01M150.2 375.5h.01M199.6 382.5h.01M126.2 385.5h.01M123.1 385.0h.01M150.6 355.8h.01M199.7 377.5h.01M199.3 321.2h.01M143.8 346.0h.01M153.4 388.0h.01M182.6 330.0h.01M141.3 310.8h.01M163.7 332.6h.01M204.1 366.5h.01M198.3 366.7h.01M125.6 370.6h.01M132.8 311.0h.01M152.3 307.8h.01M128.5 351.0h.01M133.3 352.0h.01M206.4 381.3h.01M117.5 345.4h.01M143.3 349.5h.01M190.5 387.5h.01M121.4 377.3h.01M169.5 364.2h.01M176.5 359.5h.01M132.2 311.4h.01M192.1 363.7h.01M177.4 347.4h.01M154.2 304.3h.01M117.2 366.0h.01M151.9 309.8h.01M184.1 392.8h.01M202.8 317.9h.01M118.6 352.9h.01M154.7 336.9h.01M116.7 388.1h.01M199.7 372.5h.01M145.3 318.2h.01M133.9 309.6h.01M208.7 307.8h.01M188.6 318.5h.01M194.2 342.4h.01M126.7 389.7h.01M139.0 377.2h.01M134.8 347.9h.01M198.9 344.8h.01M172.4 326.1h.01M138.8 318.9h.01M171.8 369.7h.01M178.7 395.0h.01M170.9 323.0h.01M174.8 359.1h.01M169.9 305.6h.01M180.2 348.7h.01M160.4 342.4h.01M188.1 329.3h.01M169.2 361.5h.01M137.3 370.5h.01M135.9 334.7h.01M152.1 351.2h.01M120.8 368.7h.01M188.3 306.8h.01M161.1 311.5h.01M135.9 390.0h.01M199.0 373.2h.01" stroke="#632d18" stroke-width="3.2" stroke-linecap="round" opacity="0.95"/><path d="M168.7 351.9h.01M200.3 316.4h.01M192.2 335.9h.01M195.3 369.5h.01M205.4 367.7h.01M119.8 390.9h.01M156.5 368.5h.01M174.1 338.0h.01M180.2 338.3h.01M164.0 352.5h.01M180.3 310.7h.01M143.8 392.1h.01M136.8 310.2h.01M147.1 319.1h.01M197.0 327.0h.01M132.5 319.4h.01M137.1 382.7h.01M189.6 305.6h.01M178.7 359.9h.01M141.0 358.6h.01M145.0 305.8h.01M189.7 364.0h.01M202.9 371.0h.01M184.4 389.9h.01M196.5 351.0h.01M130.7 359.1h.01M201.9 326.4h.01M157.2 334.4h.01M169.0 306.7h.01M197.2 356.0h.01M195.2 366.3h.01M123.9 387.4h.01M162.3 357.6h.01M131.5 393.7h.01M133.0 367.4h.01M147.7 375.5h.01M183.8 385.8h.01M167.6 373.0h.01M177.8 357.9h.01M131.5 352.3h.01M163.0 366.4h.01M172.0 312.6h.01M182.2 337.9h.01M142.6 316.1h.01M136.5 375.2h.01M192.5 341.1h.01M184.2 372.7h.01M156.9 343.0h.01M142.6 323.0h.01M183.8 392.0h.01M124.6 327.8h.01M170.9 334.4h.01M162.8 329.0h.01M162.4 344.2h.01M123.8 394.7h.01M209.5 360.4h.01M175.2 311.5h.01M166.5 355.3h.01M197.6 345.7h.01M145.6 379.9h.01M174.2 308.8h.01M150.6 362.5h.01M158.6 340.8h.01M199.9 319.8h.01M202.4 366.2h.01M126.3 355.5h.01M166.2 331.9h.01M155.2 313.7h.01M195.6 354.4h.01M193.5 341.6h.01M201.7 321.8h.01M145.0 319.0h.01M146.1 324.7h.01M138.6 367.7h.01M147.5 304.2h.01M163.4 337.9h.01M189.3 303.3h.01M206.3 376.5h.01M201.2 314.8h.01M177.0 329.4h.01M135.2 394.7h.01M174.7 350.2h.01M146.7 309.3h.01M137.9 320.5h.01M179.8 376.2h.01M208.6 369.2h.01M203.4 316.9h.01M204.5 372.0h.01M206.9 377.4h.01M131.6 359.1h.01M156.5 352.1h.01M164.8 363.7h.01M180.8 360.7h.01M169.1 361.1h.01M167.0 384.4h.01M123.9 377.1h.01M136.7 357.0h.01" stroke="#632d18" stroke-width="3.3" stroke-linecap="round" opacity="0.95"/><path d="M140.1 320.6h.01M191.6 370.0h.01M200.5 382.7h.01M141.5 326.4h.01M161.7 390.5h.01M174.2 312.2h.01M138.0 326.6h.01M127.4 372.5h.01M144.7 375.8h.01M187.4 356.5h.01M201.3 320.5h.01M119.9 337.2h.01M124.3 347.2h.01M167.9 393.6h.01M206.5 327.4h.01M141.3 314.6h.01M170.2 358.4h.01M125.0 350.7h.01M144.7 371.4h.01M130.8 306.2h.01M135.5 378.6h.01M130.0 320.9h.01M150.3 330.5h.01M125.8 374.2h.01M134.7 307.3h.01M149.0 305.7h.01M136.2 344.3h.01M138.9 374.6h.01M147.9 318.8h.01M168.6 353.0h.01M132.2 352.8h.01M194.1 374.6h.01M202.3 324.2h.01M124.6 367.7h.01M177.4 366.8h.01M163.6 324.7h.01M122.3 385.4h.01M197.9 357.2h.01M150.0 311.5h.01M199.3 374.9h.01" stroke="#632d18" stroke-width="3.4" stroke-linecap="round" opacity="0.95"/>
<path d="M143.1 376.1h.01M196.9 370.6h.01M155.1 313.6h.01M184.9 382.0h.01M143.2 330.8h.01M197.0 323.9h.01M122.9 389.9h.01M122.5 362.6h.01M128.3 311.8h.01M206.8 306.6h.01M183.1 306.0h.01M170.8 361.6h.01M195.9 369.5h.01M189.9 376.4h.01M165.6 361.5h.01M145.2 354.6h.01M199.6 340.2h.01M186.6 358.6h.01M174.6 321.1h.01M162.6 353.2h.01M138.2 312.6h.01M200.9 365.3h.01M152.9 359.7h.01M168.4 317.1h.01M154.7 322.1h.01M208.6 304.7h.01M180.6 355.9h.01M192.4 337.9h.01M126.2 338.7h.01M154.3 367.6h.01M150.9 343.6h.01M165.8 332.3h.01M167.1 321.3h.01M134.2 326.8h.01M136.7 369.1h.01M120.8 343.1h.01M189.6 315.3h.01M199.5 311.0h.01M126.5 356.4h.01M182.8 359.5h.01M136.8 365.5h.01M143.2 342.9h.01M201.1 353.2h.01M123.4 331.7h.01M147.5 373.1h.01M196.3 389.2h.01M166.4 308.6h.01M119.7 356.8h.01M197.3 356.5h.01M178.8 355.3h.01M176.1 337.9h.01M161.4 315.8h.01M205.2 348.9h.01M118.3 353.5h.01M159.1 316.6h.01M164.6 350.7h.01M208.9 362.2h.01M131.3 344.8h.01M172.9 343.7h.01M151.4 329.0h.01M172.8 310.3h.01M146.1 367.5h.01M156.3 321.3h.01M156.1 303.7h.01M119.8 352.4h.01" stroke="#3a180c" stroke-width="1.2" stroke-linecap="round" opacity="0.9"/><path d="M175.1 336.4h.01M205.2 370.3h.01M117.2 391.5h.01M128.8 377.4h.01M210.8 357.2h.01M206.2 329.9h.01M154.1 318.3h.01M145.1 380.5h.01M132.0 352.5h.01M136.2 371.8h.01M207.6 322.4h.01M149.3 306.8h.01M123.9 327.8h.01M126.8 336.7h.01M158.8 304.3h.01M168.3 323.5h.01M164.2 392.3h.01M122.8 393.0h.01M145.3 323.0h.01M150.0 330.0h.01M161.3 330.6h.01M207.5 308.5h.01M183.8 366.7h.01M155.9 355.8h.01M196.5 335.6h.01M169.5 377.8h.01M169.9 345.7h.01M185.8 382.8h.01M196.5 309.2h.01M196.3 392.4h.01M159.8 360.4h.01M179.1 354.1h.01M205.6 345.1h.01M132.9 360.3h.01M131.8 346.8h.01M185.8 346.9h.01M116.8 340.5h.01M127.1 359.1h.01M117.1 375.8h.01M150.6 343.6h.01M120.9 376.7h.01M187.0 357.7h.01M198.7 315.1h.01M174.5 368.0h.01M174.3 359.5h.01M121.1 327.0h.01M174.1 341.7h.01M168.2 326.3h.01M120.2 386.2h.01M120.0 328.3h.01M125.0 305.6h.01M165.2 348.3h.01M176.8 351.9h.01M149.1 393.6h.01M205.2 312.2h.01M201.3 347.3h.01M144.1 358.0h.01M138.9 304.5h.01M209.3 337.4h.01M181.5 332.0h.01M122.9 316.0h.01M189.8 308.6h.01M202.5 350.9h.01M135.9 373.1h.01M152.3 312.3h.01M168.0 382.2h.01M127.1 302.5h.01M141.5 392.4h.01M199.7 389.9h.01M166.2 340.9h.01M130.9 364.4h.01M193.2 313.8h.01M192.9 363.6h.01M207.7 375.5h.01M159.6 308.1h.01M155.3 385.6h.01M180.2 362.4h.01M161.3 334.0h.01M153.2 334.0h.01M161.0 337.1h.01M149.2 332.1h.01M194.0 391.7h.01M133.8 349.5h.01M192.5 326.9h.01M125.3 351.0h.01M187.5 301.6h.01M199.0 376.2h.01M119.9 341.2h.01M183.0 304.1h.01M131.1 353.0h.01M150.2 314.9h.01M117.6 371.2h.01M168.2 318.0h.01M197.8 389.7h.01M125.9 381.4h.01M120.2 347.2h.01M205.9 366.4h.01M178.6 308.4h.01M134.6 367.7h.01M144.8 323.8h.01M120.0 344.4h.01M143.7 367.6h.01M154.8 318.6h.01M182.4 364.5h.01M188.9 309.2h.01M148.4 303.5h.01M123.7 332.4h.01M157.7 347.7h.01M182.4 362.0h.01M192.9 308.2h.01M200.6 375.3h.01M119.9 357.4h.01M206.1 323.1h.01M159.6 390.5h.01M193.2 316.6h.01M155.7 322.9h.01M141.1 305.4h.01M170.1 367.6h.01M176.4 331.3h.01M164.9 392.9h.01M202.4 370.0h.01M159.1 384.8h.01M125.3 368.1h.01M144.3 350.6h.01M126.0 346.9h.01M152.6 337.5h.01M156.6 381.6h.01M145.8 303.7h.01M145.1 343.1h.01M169.5 356.5h.01M116.6 361.7h.01M124.1 360.2h.01M169.1 303.3h.01M156.5 353.1h.01M172.4 317.8h.01M157.8 332.0h.01" stroke="#3a180c" stroke-width="1.3" stroke-linecap="round" opacity="0.9"/><path d="M192.4 303.4h.01M187.9 339.7h.01M154.6 377.6h.01M174.5 392.8h.01M126.4 348.2h.01M184.9 303.9h.01M135.0 383.9h.01M209.4 313.4h.01M192.5 356.0h.01M196.3 365.3h.01M121.3 366.6h.01M125.0 367.1h.01M182.5 372.6h.01M150.7 337.5h.01M162.6 314.1h.01M119.1 363.9h.01M210.0 339.8h.01M131.2 364.2h.01M196.7 349.8h.01M184.9 345.8h.01M165.4 383.2h.01M144.6 378.1h.01M204.3 353.4h.01M200.1 353.1h.01M153.7 386.0h.01M138.3 322.4h.01M157.9 313.3h.01M161.3 305.1h.01M187.9 348.7h.01M169.7 331.3h.01M134.0 355.9h.01M127.9 321.8h.01M162.5 316.5h.01M165.5 358.1h.01M121.6 359.6h.01M180.8 342.1h.01M189.5 357.2h.01M182.9 350.7h.01M160.2 340.3h.01M179.5 374.9h.01M198.2 331.6h.01M194.7 302.4h.01M135.1 350.3h.01M139.5 309.3h.01M196.5 349.0h.01M125.3 387.7h.01M201.7 341.0h.01M184.5 319.1h.01M160.0 303.7h.01M205.9 390.1h.01M172.5 357.9h.01M128.0 366.1h.01M178.1 328.8h.01M206.0 350.8h.01M123.9 355.8h.01M155.0 309.0h.01M145.9 394.8h.01M189.2 343.0h.01M152.4 384.6h.01M175.0 329.7h.01M146.1 373.0h.01M195.4 341.3h.01M161.5 346.3h.01M151.1 386.6h.01M138.1 344.5h.01M188.7 334.2h.01M193.6 343.2h.01M209.6 355.7h.01M163.0 302.9h.01M168.0 390.9h.01M161.7 365.8h.01M163.7 348.0h.01M122.1 365.5h.01M135.9 353.0h.01M168.2 355.5h.01M146.7 347.7h.01M181.3 375.1h.01M161.3 344.8h.01M142.4 391.4h.01M155.1 325.4h.01M127.4 390.0h.01M169.5 320.8h.01M210.2 326.0h.01M133.8 372.3h.01M138.8 311.5h.01M126.1 374.5h.01M206.8 355.3h.01M118.8 334.7h.01M197.2 330.4h.01M159.2 378.2h.01M131.3 352.4h.01M152.7 387.5h.01M147.4 331.6h.01M162.6 370.2h.01M153.2 365.0h.01M200.1 309.4h.01M126.3 383.2h.01M145.1 363.5h.01M201.2 350.1h.01M202.9 321.4h.01M134.8 391.6h.01M141.4 382.2h.01M209.5 305.9h.01M160.2 385.0h.01M202.3 373.2h.01M182.9 377.7h.01M146.2 338.0h.01M200.5 379.3h.01M210.5 372.7h.01M141.7 370.5h.01M132.5 328.8h.01M174.0 364.5h.01M132.2 390.6h.01M165.6 335.9h.01M201.0 355.9h.01M167.7 327.1h.01M175.8 377.0h.01M178.0 386.5h.01M182.0 302.1h.01M201.9 317.3h.01M120.8 343.4h.01M165.4 378.1h.01" stroke="#3a180c" stroke-width="1.4" stroke-linecap="round" opacity="0.9"/><path d="M123.8 367.4h.01M178.4 340.1h.01M151.8 374.4h.01M155.7 317.3h.01M123.5 338.9h.01M128.3 342.7h.01M154.0 310.6h.01M154.3 302.3h.01M125.6 324.1h.01M143.3 380.3h.01M192.3 392.0h.01M172.8 376.4h.01M160.1 391.8h.01M197.9 361.7h.01M168.3 359.2h.01M198.3 336.3h.01M134.7 381.1h.01M142.7 346.8h.01M206.8 350.9h.01M198.9 326.3h.01M185.5 349.8h.01M198.4 386.1h.01M133.2 356.6h.01M178.9 304.6h.01M133.0 321.1h.01M178.6 335.3h.01M184.1 324.4h.01M144.1 318.9h.01M165.3 323.5h.01M143.3 319.9h.01M148.0 345.7h.01M154.4 384.8h.01M193.1 389.4h.01M133.8 388.9h.01M144.3 341.9h.01M146.0 311.2h.01M143.3 323.7h.01M205.4 334.7h.01M191.5 391.3h.01M195.4 309.3h.01M210.8 347.5h.01M177.5 304.9h.01M185.5 366.9h.01M195.1 308.1h.01M182.2 336.4h.01M121.7 322.3h.01M177.6 337.0h.01M138.4 392.3h.01M151.7 380.8h.01M186.8 307.4h.01M141.6 372.2h.01M127.7 343.8h.01M196.5 324.0h.01M128.2 320.2h.01M146.2 375.6h.01M165.7 338.0h.01M197.3 329.4h.01M206.4 361.0h.01M122.5 355.5h.01M158.9 393.6h.01M136.7 330.5h.01M142.8 369.1h.01M190.4 383.2h.01M139.2 392.7h.01M178.8 336.4h.01M184.2 336.6h.01M154.1 359.0h.01M155.6 312.0h.01M158.1 352.4h.01M203.1 343.6h.01M206.5 363.4h.01M151.1 305.4h.01M161.6 387.2h.01M193.4 390.5h.01M135.9 373.4h.01M176.9 367.4h.01M203.2 378.3h.01M202.6 382.4h.01M169.5 337.0h.01M179.6 393.9h.01M117.7 350.2h.01M197.1 368.1h.01M118.6 344.6h.01M145.2 323.6h.01M134.3 303.6h.01M195.2 354.8h.01M126.2 377.6h.01M118.8 388.2h.01M208.6 371.4h.01M189.5 377.7h.01M185.8 308.8h.01M144.2 306.8h.01M183.3 301.4h.01M181.9 372.6h.01M167.8 358.5h.01M187.2 328.5h.01M125.9 359.9h.01M187.5 364.2h.01M164.8 385.1h.01M154.5 381.7h.01M156.9 380.6h.01M184.6 383.6h.01M168.6 382.1h.01M124.4 374.3h.01M143.5 301.4h.01M183.6 344.2h.01M138.7 385.3h.01M137.1 320.1h.01M174.6 303.0h.01M133.7 371.2h.01M195.2 340.1h.01M168.3 365.8h.01M144.2 347.6h.01M122.0 379.8h.01M118.9 338.6h.01M156.4 353.6h.01M157.3 384.4h.01M148.3 351.3h.01M180.6 340.5h.01M193.6 389.6h.01M124.2 313.7h.01M152.1 314.0h.01M120.3 322.4h.01M199.2 331.0h.01M144.1 386.9h.01M194.1 345.3h.01M179.3 394.8h.01M172.1 353.8h.01M209.0 324.8h.01M139.5 372.9h.01M128.9 333.0h.01M183.1 326.0h.01M165.7 372.3h.01M200.0 356.6h.01M155.3 312.6h.01M196.6 318.3h.01M165.3 317.2h.01M158.3 332.7h.01M118.1 376.0h.01M194.8 304.5h.01M130.9 339.6h.01M134.0 304.1h.01M148.6 389.9h.01M125.0 347.3h.01" stroke="#3a180c" stroke-width="1.5" stroke-linecap="round" opacity="0.9"/><path d="M200.4 357.6h.01M135.7 361.4h.01M187.1 331.8h.01M187.4 302.4h.01M197.4 372.5h.01M119.8 337.0h.01M156.2 312.9h.01M150.9 357.6h.01M176.4 307.4h.01M152.5 378.9h.01M161.1 378.9h.01M125.6 337.3h.01M134.6 320.0h.01M208.1 348.4h.01M169.4 326.0h.01M130.9 303.2h.01M207.4 331.9h.01M179.1 388.1h.01M156.0 302.5h.01M137.7 315.3h.01M169.1 367.4h.01M117.3 379.3h.01M184.6 341.1h.01M206.0 319.9h.01M140.3 341.4h.01M129.0 349.7h.01M209.3 313.8h.01M130.4 310.0h.01M188.5 361.9h.01M200.8 308.1h.01M158.5 368.6h.01M125.6 356.7h.01M154.1 369.4h.01M209.9 321.3h.01M188.3 331.5h.01M201.7 368.9h.01M198.9 355.2h.01M182.4 346.2h.01M184.5 361.0h.01M191.1 309.8h.01M193.7 337.5h.01M142.1 376.0h.01M160.0 353.9h.01M152.7 349.5h.01M167.9 374.3h.01M179.3 347.2h.01M142.6 303.1h.01M117.2 364.2h.01M192.6 393.5h.01M197.0 356.8h.01M173.3 374.5h.01M149.6 322.0h.01M208.9 321.1h.01M160.1 319.4h.01M146.9 317.6h.01M182.9 330.1h.01M163.9 378.7h.01M189.8 336.1h.01M139.8 387.3h.01M133.1 366.3h.01M150.9 334.4h.01M190.2 377.5h.01M188.2 368.0h.01M207.2 350.5h.01M146.6 391.0h.01M210.7 326.6h.01M143.2 391.2h.01M176.8 355.0h.01M149.3 380.2h.01M167.0 316.6h.01M200.7 304.6h.01M155.8 363.7h.01M140.8 392.0h.01M199.4 367.7h.01M204.5 325.2h.01M128.4 361.1h.01M140.7 341.6h.01M157.9 370.3h.01M153.9 302.1h.01M144.4 364.2h.01M200.8 369.5h.01M140.1 384.6h.01M192.4 322.5h.01M182.3 359.1h.01M125.6 341.0h.01M151.0 327.0h.01M126.8 343.6h.01M176.1 378.9h.01M160.3 375.2h.01M125.0 350.8h.01M138.9 381.0h.01M121.8 393.3h.01M156.1 311.7h.01M157.5 368.5h.01M153.3 391.7h.01M165.8 318.4h.01M191.8 321.2h.01M149.6 324.2h.01M152.6 346.7h.01M157.7 394.7h.01M200.9 321.5h.01M155.9 344.5h.01M167.6 330.4h.01M208.8 322.2h.01M137.5 382.8h.01M124.4 308.5h.01M171.6 339.2h.01M194.3 395.6h.01M184.3 363.1h.01M180.3 307.7h.01M147.0 386.7h.01M189.4 361.3h.01" stroke="#3a180c" stroke-width="1.6" stroke-linecap="round" opacity="0.9"/><path d="M152.9 321.0h.01M133.1 309.2h.01M204.7 314.4h.01M210.8 326.1h.01M179.6 315.0h.01M129.3 365.9h.01M160.9 341.9h.01M135.4 371.1h.01M118.6 365.2h.01M164.9 330.9h.01M131.4 362.5h.01M118.3 352.3h.01M180.6 358.5h.01M178.4 356.4h.01M145.9 322.2h.01M190.1 355.9h.01M151.3 368.7h.01M146.2 301.9h.01M158.1 375.7h.01M164.6 376.8h.01M125.3 326.1h.01M122.1 352.0h.01M170.9 306.9h.01M197.9 307.8h.01M133.7 356.0h.01M188.3 317.7h.01M130.4 363.8h.01M201.2 333.3h.01M139.1 331.7h.01M145.7 387.8h.01M201.5 310.2h.01M187.1 386.4h.01M192.5 373.5h.01M127.8 370.1h.01M209.4 373.8h.01M159.0 311.6h.01M139.9 305.2h.01M148.7 395.1h.01M132.7 366.7h.01M165.2 312.1h.01M131.5 351.3h.01M203.6 351.4h.01M196.4 305.9h.01M126.0 335.7h.01M189.4 391.6h.01M139.8 395.7h.01M172.1 304.5h.01M138.5 375.7h.01M137.5 304.3h.01M144.2 377.1h.01M132.2 318.4h.01M184.7 351.9h.01M173.1 340.7h.01M190.0 314.2h.01M168.2 319.6h.01M165.1 348.0h.01M205.6 330.9h.01M196.5 346.9h.01M165.5 340.4h.01M189.6 337.3h.01M169.1 308.8h.01M187.9 366.2h.01M144.4 308.0h.01M187.8 368.5h.01M143.1 314.5h.01M137.1 316.1h.01M210.6 335.7h.01M121.4 377.0h.01M125.7 363.9h.01M165.6 317.3h.01M199.9 359.4h.01M139.6 394.4h.01M188.2 307.3h.01M147.8 356.7h.01M133.8 376.3h.01M171.9 360.5h.01M190.1 330.5h.01M202.2 348.2h.01M186.5 336.9h.01M205.5 316.9h.01M204.5 305.8h.01M131.2 353.1h.01M176.1 360.6h.01M164.9 309.6h.01M121.1 363.5h.01M199.5 355.9h.01M134.9 394.3h.01M173.6 331.6h.01M208.6 304.6h.01M127.3 386.4h.01M173.6 357.2h.01M133.2 312.1h.01M127.5 361.8h.01M165.8 308.8h.01M147.1 380.6h.01M168.6 359.4h.01M182.9 303.7h.01M209.8 355.1h.01M186.5 340.8h.01M140.5 302.4h.01M181.9 330.8h.01M203.3 307.4h.01M120.0 382.8h.01M159.1 305.6h.01M197.3 378.3h.01M140.3 370.7h.01M147.9 302.6h.01M169.6 344.9h.01M210.7 322.1h.01M127.8 372.2h.01M204.9 313.5h.01M139.3 367.2h.01M174.3 386.6h.01M132.0 313.7h.01M153.5 348.7h.01M149.8 333.8h.01M137.9 307.7h.01M122.8 345.0h.01M136.3 310.7h.01M190.3 369.5h.01M133.0 349.5h.01" stroke="#3a180c" stroke-width="1.7" stroke-linecap="round" opacity="0.9"/><path d="M121.1 342.7h.01M207.7 343.7h.01M164.3 384.2h.01M125.5 332.9h.01M137.6 367.3h.01M146.7 384.8h.01M194.6 394.2h.01M137.8 375.2h.01M119.8 374.0h.01M188.5 358.1h.01M126.4 377.8h.01M127.4 348.6h.01M128.8 377.9h.01M122.0 370.0h.01M186.7 306.1h.01M117.5 323.9h.01M156.0 325.0h.01M169.6 303.5h.01M168.8 320.5h.01M166.0 364.7h.01M118.3 350.6h.01M139.0 308.2h.01M198.2 377.2h.01M199.2 339.3h.01M210.9 305.5h.01M127.8 346.7h.01M153.2 376.4h.01M133.8 349.4h.01M135.3 330.4h.01M183.5 371.6h.01M202.9 380.7h.01M206.6 311.4h.01M166.6 316.0h.01M143.5 306.3h.01M121.2 377.8h.01M200.9 341.5h.01M162.2 342.3h.01M138.3 314.7h.01M120.5 381.3h.01M126.5 358.9h.01M149.0 364.6h.01M188.8 370.5h.01M146.9 357.7h.01M130.8 309.2h.01M157.5 313.0h.01M196.7 367.3h.01M146.1 334.3h.01M200.0 376.2h.01M204.9 349.4h.01M148.5 311.0h.01M173.3 327.3h.01M129.4 379.2h.01M199.8 309.8h.01M188.2 338.8h.01M204.5 308.0h.01M124.2 352.7h.01M192.2 318.2h.01M203.3 366.7h.01M121.7 372.2h.01M201.0 347.9h.01M173.3 356.2h.01M187.7 308.6h.01M141.6 331.4h.01M174.7 376.8h.01M144.7 310.2h.01M120.1 344.4h.01M147.3 335.6h.01M181.5 346.5h.01M118.7 346.6h.01M183.4 312.3h.01M193.9 302.3h.01M132.2 324.5h.01M162.3 309.4h.01M160.4 376.4h.01M203.8 338.5h.01M186.3 322.3h.01M206.9 368.4h.01M205.7 332.4h.01M160.9 388.9h.01M172.8 354.2h.01M128.1 349.1h.01M191.6 340.4h.01M147.4 347.2h.01M182.0 350.4h.01M126.8 378.4h.01M127.0 371.6h.01M208.0 344.1h.01M171.3 319.2h.01M160.0 342.7h.01M116.5 352.4h.01M206.4 313.7h.01M159.7 334.9h.01M183.0 345.5h.01M140.3 332.7h.01M127.6 393.2h.01M137.9 302.0h.01M167.0 343.3h.01M179.7 318.4h.01M177.8 360.6h.01M156.1 324.7h.01M141.9 348.2h.01M182.2 305.5h.01M204.2 354.6h.01M155.0 353.9h.01M183.8 341.9h.01M158.0 381.1h.01M182.0 338.9h.01M153.8 327.9h.01M116.9 327.6h.01M193.0 328.4h.01M147.2 356.1h.01M143.6 320.9h.01M160.7 371.2h.01M146.2 381.9h.01M201.2 321.2h.01M144.9 310.7h.01M181.5 327.9h.01M162.4 307.8h.01M205.8 303.4h.01M143.1 338.1h.01M202.9 324.0h.01M126.4 339.8h.01M119.0 359.8h.01M186.7 366.4h.01M177.7 336.7h.01M170.3 386.7h.01M139.1 390.5h.01M177.6 326.5h.01" stroke="#3a180c" stroke-width="1.8" stroke-linecap="round" opacity="0.9"/><path d="M124.7 375.7h.01M191.3 351.4h.01M176.4 365.4h.01M153.1 346.1h.01M191.8 311.0h.01M160.9 371.2h.01M173.6 335.1h.01M197.7 314.7h.01M124.6 378.3h.01M196.4 361.8h.01M187.4 383.2h.01M140.9 324.1h.01M162.8 312.1h.01M163.1 322.5h.01M179.9 302.6h.01M192.9 337.4h.01M192.9 317.0h.01M183.8 360.7h.01M167.9 352.9h.01M207.9 321.7h.01M182.5 358.9h.01M181.4 305.9h.01M183.6 323.1h.01M198.4 354.9h.01M134.2 332.1h.01M143.8 335.4h.01M203.6 307.3h.01M208.4 373.3h.01M136.9 384.8h.01M150.0 357.3h.01M150.7 312.1h.01M187.8 387.6h.01M172.3 389.9h.01M156.4 302.5h.01M134.3 305.4h.01M128.1 348.8h.01M143.5 354.7h.01M151.1 312.3h.01M166.4 315.5h.01M166.6 372.1h.01M161.7 355.1h.01M165.5 328.8h.01M129.1 395.4h.01M184.8 386.8h.01M189.9 349.5h.01M136.7 383.0h.01M206.4 314.1h.01M124.1 395.2h.01M126.0 377.1h.01M137.1 303.4h.01M199.9 378.8h.01M201.5 362.0h.01M144.0 323.3h.01M131.5 344.6h.01M126.9 330.7h.01M186.2 306.5h.01M205.5 304.0h.01M176.2 308.6h.01M175.0 305.5h.01M192.8 324.0h.01M178.5 335.0h.01M188.6 333.8h.01M197.1 323.2h.01M137.5 359.7h.01M143.6 324.2h.01M200.0 376.4h.01M165.5 363.6h.01M200.8 318.4h.01M203.4 326.0h.01M180.0 395.2h.01M159.2 348.9h.01M159.7 393.3h.01M160.7 365.6h.01M187.8 394.8h.01M144.8 305.3h.01M170.8 360.6h.01M131.9 360.6h.01M165.7 356.3h.01M186.3 370.2h.01M189.1 310.9h.01M169.6 359.7h.01M163.6 369.7h.01M125.3 366.6h.01M117.3 369.8h.01M125.0 379.4h.01M143.7 350.5h.01M126.3 346.3h.01M170.9 388.9h.01M188.6 368.5h.01M189.9 340.1h.01M155.7 341.4h.01M133.8 368.6h.01M130.4 373.8h.01M200.2 344.4h.01M182.3 341.2h.01M183.5 349.1h.01M190.3 306.7h.01M160.3 310.7h.01M157.9 345.7h.01M190.7 324.5h.01M170.1 380.2h.01M125.0 382.7h.01M196.8 316.5h.01M189.1 369.5h.01M119.3 329.2h.01M119.8 378.9h.01M120.1 352.1h.01M164.8 375.4h.01M143.0 352.5h.01M197.0 343.4h.01M145.7 376.1h.01M124.9 313.7h.01M131.4 380.4h.01M166.0 307.6h.01M127.9 349.6h.01M201.0 308.0h.01M158.4 395.0h.01M194.1 311.5h.01M145.3 316.2h.01M198.5 370.4h.01M151.1 343.4h.01M150.8 317.1h.01M123.6 349.8h.01M140.9 323.5h.01" stroke="#3a180c" stroke-width="1.9" stroke-linecap="round" opacity="0.9"/><path d="M179.6 390.8h.01M166.6 332.5h.01M137.8 373.7h.01M172.7 388.4h.01M163.3 326.1h.01M201.8 327.9h.01M169.8 303.4h.01M186.7 367.8h.01M149.7 364.5h.01M186.7 335.6h.01M130.5 317.6h.01M137.5 378.2h.01M203.3 348.2h.01M123.7 311.1h.01M187.9 371.8h.01M172.8 383.9h.01M188.6 365.4h.01M135.4 315.0h.01M182.6 335.8h.01M177.0 359.1h.01M134.2 334.6h.01M160.0 312.4h.01M156.2 349.4h.01M142.0 308.2h.01M197.3 311.4h.01M158.3 348.5h.01M128.1 340.4h.01M210.6 336.8h.01M167.6 317.3h.01M193.7 383.7h.01M200.5 301.5h.01M188.8 359.1h.01M197.5 363.2h.01M188.2 381.9h.01M194.1 358.4h.01M200.9 344.6h.01M137.3 338.6h.01M198.7 368.1h.01M162.6 313.2h.01M118.4 369.7h.01M192.2 349.8h.01M140.6 384.0h.01M157.2 373.2h.01M184.6 317.3h.01M149.3 350.4h.01M124.1 392.1h.01M145.0 353.2h.01M177.9 355.7h.01M141.9 316.1h.01M139.3 302.8h.01M137.3 326.9h.01M190.1 327.7h.01M187.1 305.8h.01M155.0 335.5h.01M193.8 389.4h.01M187.6 363.5h.01M174.3 351.1h.01M166.6 383.0h.01M194.6 343.7h.01M162.1 314.6h.01M162.6 329.4h.01M126.0 377.4h.01M150.5 378.9h.01M210.7 316.9h.01M180.8 302.8h.01" stroke="#3a180c" stroke-width="2.0" stroke-linecap="round" opacity="0.9"/></g>
<g filter="url(#bl2)" opacity="0.9"><path d="M118.5 318.1 L121.3 320.0 L121.7 320.5 L124.4 321.6 L125.0 321.6 L126.3 323.2 L128.1 323.8 L130.3 326.3 L131.7 326.7 L131.7 328.3 L132.4 330.7 L133.6 332.5 L134.3 333.7 L136.1 334.1 L137.5 335.7 L139.8 336.2 L140.7 336.7 L141.8 337.0 L144.2 337.7 L146.0 338.8 L148.5 338.6 L151.5 339.0 L154.0 339.1 L156.1 340.2 L159.2 339.4 L160.6 339.6 L162.5 338.3 L165.0 339.0 L166.4 339.0 L167.0 336.7 L168.7 336.4 L170.1 335.1 L171.5 333.9 L172.9 333.5 L174.1 331.6 L176.0 330.0 L176.8 329.2 L178.2 328.6 L179.1 327.4 L180.5 327.7 L180.6 326.9 L182.6 327.0 L184.1 327.8 L184.9 328.2 L186.4 328.3 L188.0 328.0 L189.6 326.7 L190.4 325.5 L193.0 324.8 L194.9 323.5 L196.0 323.5 L197.9 321.0 L200.4 320.3" stroke="#eee6e0" stroke-width="2.4" fill="none" stroke-linejoin="round"/>
<path d="M166.2 338.2 L171.4 344.3 L178.4 349.3 L186.4 351.3" stroke="#eee6e0" stroke-width="2.6" fill="none"/>
<ellipse cx="158.4" cy="325.3" rx="5" ry="4.5" fill="#e4dcd8" opacity="0.6"/>
<ellipse cx="184.4" cy="317.3" rx="6" ry="5" fill="#e4dcd8" opacity="0.6"/>
<ellipse cx="179.4" cy="350.3" rx="6" ry="4" fill="#e4dcd8" opacity="0.5"/>
<ellipse cx="168.4" cy="369.3" rx="7" ry="6" fill="#e4dcd8" opacity="0.45"/>
<ellipse cx="180.4" cy="379.3" rx="7" ry="6" fill="#e4dcd8" opacity="0.45"/>
<ellipse cx="203.4" cy="385.3" rx="7" ry="5" fill="#e4dcd8" opacity="0.5"/>
<ellipse cx="118.4" cy="306.3" rx="4" ry="7" fill="#e4dcd8" opacity="0.8"/>
<ellipse cx="136.4" cy="367.3" rx="5" ry="4" fill="#e4dcd8" opacity="0.35"/>
</g>
</g>
<line x1="120.4" y1="389.8" x2="141.9" y2="389.8" stroke="#9a9aa8" stroke-width="1.4" opacity="0.8"/>
<text x="143.4" y="391.40000000000003" font-size="6.2" font-weight="bold" fill="#111" font-family="'Liberation Sans',Arial,sans-serif">100µm</text>
<clipPath id="cp10"><rect x="19.2" y="397.0" width="96.3" height="94.3"/></clipPath>
<g clip-path="url(#cp10)">
<rect x="19.2" y="397.0" width="96.3" height="94.3" filter="url(#tb2)"/>
<circle cx="29.2" cy="437.0" r="12" fill="#d2c2a0" opacity="0.45" filter="url(#bl3)"/>
<circle cx="49.2" cy="467.0" r="14" fill="#d2c2a0" opacity="0.45" filter="url(#bl3)"/>
<circle cx="79.2" cy="457.0" r="12" fill="#d2c2a0" opacity="0.45" filter="url(#bl3)"/>
<circle cx="99.2" cy="477.0" r="12" fill="#d2c2a0" opacity="0.45" filter="url(#bl3)"/>
<circle cx="69.2" cy="487.0" r="10" fill="#d2c2a0" opacity="0.45" filter="url(#bl3)"/>
<circle cx="39.2" cy="487.0" r="10" fill="#d2c2a0" opacity="0.45" filter="url(#bl3)"/>
<circle cx="94.2" cy="442.0" r="9" fill="#d2c2a0" opacity="0.45" filter="url(#bl3)"/>
<path d="M56.2 397.0 L72.2 404.5 L91.2 414.0 L107.2 424.0 L116.2 430.0 L116.2 397.0 Z" fill="#e4e4e1"/>
<g filter="url(#bl)"><path d="M27.3 447.1h.01M79.9 418.3h.01M112.1 457.4h.01" stroke="#c8a880" stroke-width="2.2" stroke-linecap="round" opacity="0.5"/><path d="M42.0 452.2h.01M101.0 460.0h.01M37.1 454.1h.01M77.5 474.2h.01" stroke="#c8a880" stroke-width="2.3" stroke-linecap="round" opacity="0.5"/><path d="M75.0 468.5h.01M30.7 461.9h.01M76.9 416.1h.01M39.0 454.8h.01" stroke="#c8a880" stroke-width="2.4" stroke-linecap="round" opacity="0.5"/><path d="M19.4 432.4h.01M101.7 456.7h.01M71.2 425.2h.01" stroke="#c8a880" stroke-width="2.5" stroke-linecap="round" opacity="0.5"/><path d="M110.9 480.8h.01M53.4 479.8h.01M59.3 457.6h.01M62.2 413.5h.01M104.4 451.5h.01M21.9 456.1h.01M99.2 453.8h.01" stroke="#c8a880" stroke-width="2.6" stroke-linecap="round" opacity="0.5"/><path d="M21.5 450.9h.01M84.2 466.7h.01M57.8 454.4h.01M70.2 467.9h.01" stroke="#c8a880" stroke-width="2.7" stroke-linecap="round" opacity="0.5"/><path d="M40.5 444.4h.01M54.3 443.7h.01M39.7 449.9h.01" stroke="#c8a880" stroke-width="2.8" stroke-linecap="round" opacity="0.5"/><path d="M32.7 440.7h.01M96.4 434.7h.01M78.0 453.9h.01" stroke="#c8a880" stroke-width="2.9" stroke-linecap="round" opacity="0.5"/><path d="M80.1 416.5h.01M66.8 455.9h.01M74.0 463.2h.01M51.0 432.7h.01M66.8 467.2h.01" stroke="#c8a880" stroke-width="3.0" stroke-linecap="round" opacity="0.5"/><path d="M28.4 443.5h.01M111.3 457.0h.01M56.3 445.7h.01M61.5 412.6h.01" stroke="#c8a880" stroke-width="3.1" stroke-linecap="round" opacity="0.5"/><path d="M73.2 445.0h.01M55.9 442.8h.01M36.5 443.3h.01M87.5 450.5h.01M100.1 451.6h.01M50.3 473.4h.01M112.6 454.7h.01M97.2 452.8h.01M64.9 464.8h.01" stroke="#c8a880" stroke-width="3.2" stroke-linecap="round" opacity="0.5"/><path d="M31.9 443.8h.01M100.8 452.6h.01M46.9 452.6h.01M91.8 438.4h.01M31.0 428.0h.01" stroke="#c8a880" stroke-width="3.3" stroke-linecap="round" opacity="0.5"/><path d="M64.6 432.3h.01M74.7 456.2h.01M85.7 440.9h.01M72.4 440.3h.01" stroke="#c8a880" stroke-width="3.4" stroke-linecap="round" opacity="0.5"/><path d="M56.5 418.0h.01M100.2 462.6h.01M73.0 458.4h.01M69.1 456.2h.01M103.3 459.1h.01M105.9 451.1h.01M57.3 448.7h.01" stroke="#c8a880" stroke-width="3.5" stroke-linecap="round" opacity="0.5"/><path d="M29.8 428.9h.01" stroke="#c8a880" stroke-width="3.6" stroke-linecap="round" opacity="0.5"/>
<path d="M36.1 463.5h.01M70.7 458.4h.01M86.1 451.4h.01M107.3 460.8h.01M21.6 449.7h.01M45.4 449.7h.01M44.5 465.8h.01M36.1 481.8h.01M25.4 422.8h.01M112.4 458.0h.01M39.7 459.5h.01M39.3 442.0h.01M28.9 440.9h.01M99.0 459.5h.01M103.9 455.5h.01M40.6 473.5h.01M64.8 460.8h.01M104.2 477.3h.01M73.0 454.9h.01M95.2 456.5h.01M101.0 449.5h.01M94.4 453.5h.01M78.0 454.4h.01M34.3 443.7h.01M76.9 426.6h.01M36.9 450.3h.01M88.2 435.4h.01M79.0 450.3h.01M61.5 419.0h.01" stroke="#3e2618" stroke-width="1.2" stroke-linecap="round" opacity="0.95"/><path d="M108.2 447.9h.01M63.1 458.2h.01M94.6 490.9h.01M108.3 459.8h.01M54.7 463.6h.01M65.3 464.9h.01M26.4 449.4h.01M66.2 446.3h.01M39.0 459.9h.01M44.4 455.3h.01M28.3 443.9h.01M59.9 399.9h.01M35.2 453.4h.01M28.8 421.2h.01M56.3 409.3h.01M100.1 450.1h.01M23.7 427.2h.01M66.6 461.2h.01M71.6 427.7h.01M40.3 411.9h.01M43.5 457.9h.01M24.1 443.7h.01M85.9 436.6h.01M22.9 434.1h.01M75.1 442.0h.01M62.7 460.5h.01M54.3 485.6h.01M56.4 408.4h.01M66.0 469.3h.01M73.9 443.0h.01M23.8 490.8h.01M47.3 470.0h.01" stroke="#3e2618" stroke-width="1.3" stroke-linecap="round" opacity="0.95"/><path d="M96.7 456.7h.01M27.3 435.6h.01M107.6 443.1h.01M38.2 454.0h.01M102.8 458.9h.01M111.8 458.9h.01M103.6 458.6h.01M86.4 461.4h.01M31.6 435.6h.01M91.6 470.2h.01M67.5 456.5h.01M70.1 447.1h.01M104.9 450.7h.01M63.3 479.5h.01M97.4 457.1h.01M73.1 463.5h.01M31.7 445.6h.01M62.6 465.1h.01M30.0 447.0h.01M38.1 454.6h.01M35.0 441.1h.01M58.8 449.0h.01M50.5 413.4h.01M19.3 430.8h.01M96.7 448.8h.01M43.4 458.8h.01M53.3 462.3h.01M66.7 458.3h.01M103.8 457.1h.01M25.8 438.1h.01M66.4 463.7h.01M54.8 427.0h.01M94.2 484.6h.01M101.7 455.6h.01M58.8 454.7h.01M66.7 426.4h.01M90.5 471.1h.01M51.3 431.8h.01M113.4 461.4h.01M104.0 470.5h.01M101.2 452.4h.01M86.4 446.4h.01M72.5 470.5h.01M58.9 426.1h.01M27.6 459.7h.01" stroke="#3e2618" stroke-width="1.4" stroke-linecap="round" opacity="0.95"/><path d="M68.8 459.8h.01M29.2 468.4h.01M20.0 437.4h.01M33.7 444.6h.01M74.7 463.2h.01M91.6 461.7h.01M68.9 459.2h.01M74.2 451.3h.01M81.4 471.6h.01M67.4 423.8h.01M38.4 458.8h.01M61.6 461.1h.01M99.1 455.3h.01M37.9 452.7h.01M47.0 410.4h.01M103.4 459.9h.01M69.3 451.8h.01M76.4 430.0h.01M101.3 441.3h.01M40.0 429.9h.01M97.4 444.2h.01M39.4 451.1h.01M35.5 471.4h.01M40.4 432.8h.01M26.6 439.0h.01M23.4 426.7h.01M77.5 445.3h.01M61.8 428.1h.01M92.8 464.9h.01M99.1 453.7h.01M19.6 488.1h.01M101.7 450.1h.01M94.4 459.3h.01M77.1 409.0h.01M84.7 447.0h.01M68.1 461.2h.01" stroke="#3e2618" stroke-width="1.5" stroke-linecap="round" opacity="0.95"/><path d="M58.9 476.6h.01M66.2 452.1h.01M74.6 449.1h.01M82.6 491.2h.01M38.0 454.0h.01M23.0 437.3h.01M112.4 457.1h.01M64.3 400.9h.01M53.5 457.1h.01M100.6 448.8h.01M32.3 450.1h.01M40.5 450.9h.01M106.2 440.6h.01M84.1 450.5h.01M34.7 428.3h.01M102.3 463.9h.01M64.7 456.1h.01M41.6 459.5h.01M39.2 453.3h.01M79.5 457.2h.01M52.4 409.7h.01M54.5 460.2h.01M20.5 433.3h.01M45.2 449.4h.01M99.1 457.0h.01M56.3 475.4h.01M85.0 454.3h.01M30.4 451.8h.01M24.3 444.2h.01M75.9 465.4h.01M109.2 467.8h.01M63.8 415.3h.01M27.2 425.3h.01M67.4 410.9h.01M105.4 457.5h.01M66.0 458.0h.01M23.3 447.5h.01M99.3 460.8h.01M41.0 458.9h.01" stroke="#3e2618" stroke-width="1.6" stroke-linecap="round" opacity="0.95"/><path d="M33.9 466.8h.01M37.8 451.3h.01M80.0 421.1h.01M88.1 470.4h.01M111.6 458.1h.01M28.8 466.8h.01M53.7 430.2h.01M52.4 486.8h.01M99.5 451.3h.01M97.8 455.0h.01M22.0 441.1h.01M32.4 441.2h.01M69.0 452.1h.01M89.0 459.4h.01M34.0 467.7h.01M44.3 426.5h.01M72.4 459.1h.01M64.6 417.7h.01M25.6 437.6h.01M23.6 442.3h.01M62.6 465.3h.01M63.0 414.6h.01M62.7 455.7h.01M75.1 464.6h.01M77.6 453.6h.01M42.8 454.5h.01M67.7 449.5h.01M59.6 462.9h.01M113.0 447.0h.01M109.4 457.7h.01M86.2 437.3h.01M85.9 448.8h.01M83.6 459.5h.01M97.1 464.7h.01M91.3 448.6h.01M72.2 447.5h.01M46.6 440.8h.01M48.8 440.4h.01M93.4 442.9h.01M102.0 457.6h.01M40.1 445.5h.01" stroke="#3e2618" stroke-width="1.7" stroke-linecap="round" opacity="0.95"/><path d="M35.4 461.3h.01M72.4 462.0h.01M58.2 455.2h.01M83.2 434.5h.01M65.9 468.2h.01M19.9 433.4h.01M73.8 469.6h.01M34.9 451.4h.01M43.4 458.1h.01M54.5 453.5h.01M94.1 457.4h.01M92.1 473.4h.01M30.4 438.6h.01M69.7 463.3h.01M85.4 439.8h.01M41.5 458.9h.01M75.6 464.2h.01M97.3 463.6h.01M74.1 478.9h.01M96.7 454.8h.01M110.3 451.7h.01M111.2 458.5h.01M98.5 449.5h.01M46.7 403.9h.01M36.6 452.7h.01M111.2 459.8h.01M61.2 456.8h.01M79.7 462.8h.01M66.5 489.7h.01M99.8 448.5h.01M19.6 445.4h.01M82.9 453.1h.01M40.2 487.0h.01M76.4 438.7h.01M78.3 467.6h.01M97.4 452.0h.01M38.4 460.3h.01M62.4 454.1h.01M73.3 455.0h.01M92.6 481.2h.01M102.8 452.2h.01M63.5 455.6h.01M73.9 467.7h.01M81.9 456.2h.01" stroke="#3e2618" stroke-width="1.8" stroke-linecap="round" opacity="0.95"/><path d="M34.9 449.7h.01M95.2 466.3h.01M99.9 486.1h.01M71.8 461.1h.01M93.0 429.3h.01M40.7 474.2h.01M67.0 433.1h.01M34.1 444.6h.01M34.6 474.7h.01M56.8 442.8h.01M81.9 442.8h.01M112.9 475.0h.01M37.9 452.6h.01M37.7 454.0h.01M34.2 446.4h.01M34.0 476.8h.01M45.0 431.3h.01M81.1 470.5h.01M37.3 422.1h.01M86.4 440.0h.01M34.5 481.3h.01M41.4 448.5h.01M50.6 421.3h.01M54.2 409.5h.01M80.8 413.8h.01M56.7 455.9h.01M38.6 455.6h.01M73.9 458.5h.01M87.3 455.3h.01M51.5 435.1h.01M101.0 454.7h.01" stroke="#3e2618" stroke-width="1.9" stroke-linecap="round" opacity="0.95"/><path d="M60.4 412.2h.01M34.5 460.2h.01M79.1 426.9h.01M37.1 446.3h.01M27.1 458.6h.01M64.2 474.9h.01M62.1 465.9h.01M67.0 460.7h.01M55.6 479.5h.01M45.2 417.4h.01M88.7 437.4h.01M37.2 423.3h.01M33.5 445.3h.01M96.6 449.7h.01M100.7 454.0h.01M37.6 465.2h.01M72.6 460.5h.01M75.1 460.8h.01M46.8 455.7h.01M40.5 454.4h.01M56.1 468.3h.01M72.8 465.2h.01M72.9 463.9h.01M47.4 482.5h.01M77.7 447.1h.01M77.2 459.9h.01M54.2 404.3h.01M65.7 475.3h.01M57.8 460.1h.01M28.4 465.6h.01M65.8 460.7h.01M41.9 438.0h.01M40.6 449.5h.01M23.4 442.4h.01M56.7 473.8h.01M34.2 459.7h.01M103.9 461.1h.01M70.1 454.7h.01M41.4 444.9h.01M25.1 427.1h.01M22.8 456.9h.01M72.5 460.7h.01M83.0 461.9h.01M90.6 439.5h.01M108.0 469.7h.01M21.2 487.0h.01M57.7 464.8h.01M98.7 460.0h.01M27.2 448.5h.01M50.6 473.6h.01M101.0 451.7h.01M72.1 459.9h.01M29.9 438.5h.01M101.6 452.1h.01M55.2 451.3h.01M48.8 438.7h.01M44.3 487.4h.01M23.4 452.9h.01M100.5 462.6h.01" stroke="#3e2618" stroke-width="2.0" stroke-linecap="round" opacity="0.95"/><path d="M42.9 456.4h.01M29.1 483.3h.01M110.3 471.0h.01M41.4 450.8h.01M88.0 431.7h.01M102.5 477.4h.01M66.7 427.0h.01M38.6 444.8h.01M74.8 465.4h.01M67.6 405.9h.01M73.0 461.0h.01M61.5 425.2h.01M69.7 465.7h.01M81.2 428.9h.01M73.7 466.2h.01M57.3 452.9h.01M102.5 457.3h.01M66.2 486.4h.01M100.4 458.7h.01M75.2 429.8h.01M63.2 410.1h.01M105.5 460.8h.01M36.8 429.5h.01M90.1 440.0h.01M78.5 440.1h.01M76.3 466.0h.01M82.3 461.0h.01M95.1 452.1h.01M98.9 457.5h.01M44.1 461.3h.01M51.2 440.1h.01M114.3 442.4h.01M39.8 454.0h.01M59.3 429.6h.01M27.2 439.2h.01M29.6 437.7h.01M26.4 456.7h.01M82.7 427.0h.01M27.3 427.1h.01M71.6 428.1h.01" stroke="#3e2618" stroke-width="2.1" stroke-linecap="round" opacity="0.95"/><path d="M44.2 484.8h.01M83.6 467.7h.01M67.5 468.5h.01M81.8 451.1h.01M86.4 457.2h.01M103.0 448.7h.01M40.0 460.1h.01M58.5 406.8h.01M57.5 459.1h.01M61.6 451.1h.01M99.8 453.3h.01M35.7 454.2h.01M65.0 488.8h.01M90.1 482.9h.01M46.5 489.8h.01M111.2 433.6h.01M25.3 455.5h.01M21.4 474.4h.01M42.1 457.4h.01M80.1 451.7h.01" stroke="#3e2618" stroke-width="2.2" stroke-linecap="round" opacity="0.95"/></g>
</g>
<line x1="23.2" y1="485.3" x2="44.7" y2="485.3" stroke="#9a9aa8" stroke-width="1.4" opacity="0.8"/>
<text x="46.2" y="486.90000000000003" font-size="6.2" font-weight="bold" fill="#111" font-family="'Liberation Sans',Arial,sans-serif">100µm</text>
<rect x="19.7" y="397.5" width="19.4" height="22" fill="#ffffff" fill-opacity="0.3" stroke="#2a2a2a" stroke-width="1"/>
<text x="29.4" y="413.3" text-anchor="middle" font-size="14" font-weight="bold" fill="#111" font-family="'Liberation Sans',Arial,sans-serif">B</text>
<clipPath id="cp11"><rect x="116.4" y="397.0" width="94.6" height="94.3"/></clipPath>
<g clip-path="url(#cp11)">
<rect x="116.4" y="397.0" width="94.6" height="94.3" filter="url(#tbbon)"/>
<circle cx="146.4" cy="409.0" r="10" fill="#cdbb8a" opacity="0.5" filter="url(#bl3)"/>
<circle cx="176.4" cy="427.0" r="12" fill="#c0c4d8" opacity="0.5" filter="url(#bl3)"/>
<circle cx="126.4" cy="462.0" r="9" fill="#e0e0dc" opacity="0.7" filter="url(#bl3)"/>
<circle cx="171.4" cy="465.0" r="10" fill="#d8dae0" opacity="0.5" filter="url(#bl3)"/>
<circle cx="156.4" cy="442.0" r="12" fill="#c8c4d0" opacity="0.4" filter="url(#bl3)"/>
<path d="M209.4 397.0 L208.4 427.0 L210.4 444.0 L203.4 461.0 L196.4 481.0 L194.4 493.0 L213.4 494.0 L213.4 397.0 Z" fill="#e7e6e2"/>
<g filter="url(#bl)"><path d="M155.7 420.9h.01M188.9 406.6h.01M182.5 477.9h.01M159.5 489.4h.01M176.3 484.0h.01M126.7 432.1h.01M177.8 440.8h.01M148.1 430.0h.01" stroke="#a08058" stroke-width="2.0" stroke-linecap="round" opacity="0.45"/><path d="M155.6 470.7h.01M138.6 405.8h.01M136.1 400.0h.01M138.6 454.9h.01M131.9 432.7h.01M172.4 454.0h.01M172.1 461.4h.01M177.3 477.5h.01M117.9 480.8h.01M171.0 462.8h.01M161.8 415.7h.01M138.0 425.1h.01M172.2 417.8h.01M133.3 474.2h.01M197.0 422.9h.01M151.5 468.6h.01M153.3 433.8h.01M174.0 444.1h.01M178.6 480.3h.01M167.8 400.3h.01M139.4 450.4h.01" stroke="#a08058" stroke-width="2.1" stroke-linecap="round" opacity="0.45"/><path d="M198.8 468.8h.01M209.2 434.6h.01M133.5 421.3h.01M171.6 476.6h.01M170.2 443.3h.01M126.6 454.4h.01M208.2 419.2h.01M118.1 450.4h.01M126.3 438.6h.01M171.1 417.0h.01M121.8 440.1h.01M195.9 400.4h.01M132.8 398.7h.01M179.9 491.2h.01M186.9 445.6h.01" stroke="#a08058" stroke-width="2.2" stroke-linecap="round" opacity="0.45"/><path d="M174.9 445.1h.01M172.2 409.5h.01M177.1 425.3h.01M187.6 409.1h.01M174.8 486.3h.01M124.2 475.0h.01M194.4 474.5h.01M159.9 446.0h.01M176.5 402.5h.01M118.7 485.9h.01M191.9 403.2h.01M185.0 450.3h.01M199.4 460.1h.01M177.2 469.9h.01" stroke="#a08058" stroke-width="2.3" stroke-linecap="round" opacity="0.45"/><path d="M132.4 415.3h.01M179.8 436.3h.01M162.0 480.8h.01M143.8 404.0h.01M138.1 487.1h.01M190.8 441.9h.01M170.1 483.7h.01M195.2 450.4h.01M168.2 473.9h.01M152.1 416.7h.01M155.0 467.3h.01M142.1 472.2h.01M137.4 464.1h.01M165.1 468.6h.01M176.0 434.1h.01M158.3 428.5h.01" stroke="#a08058" stroke-width="2.4" stroke-linecap="round" opacity="0.45"/><path d="M134.8 473.9h.01M182.7 489.7h.01M205.3 409.7h.01M150.4 478.5h.01M128.5 475.0h.01M162.1 428.0h.01M140.6 411.4h.01M127.0 411.1h.01M154.5 451.2h.01M176.6 456.9h.01M155.0 489.4h.01" stroke="#a08058" stroke-width="2.5" stroke-linecap="round" opacity="0.45"/><path d="M142.1 401.5h.01M162.1 476.8h.01M120.6 425.2h.01M138.4 420.7h.01M148.7 460.5h.01M149.9 429.8h.01M156.8 477.7h.01M137.3 483.2h.01M148.5 407.4h.01M137.6 444.3h.01M178.3 437.3h.01" stroke="#a08058" stroke-width="2.6" stroke-linecap="round" opacity="0.45"/><path d="M171.0 449.8h.01M143.8 467.9h.01M187.2 416.4h.01M190.8 427.8h.01M122.4 422.9h.01M177.6 444.4h.01M124.3 436.8h.01M159.6 409.9h.01M158.2 410.7h.01M144.5 426.6h.01M199.5 446.5h.01M172.6 479.9h.01M147.4 411.5h.01M191.3 403.2h.01M135.6 406.5h.01" stroke="#a08058" stroke-width="2.7" stroke-linecap="round" opacity="0.45"/><path d="M182.7 462.1h.01M148.8 430.2h.01M123.1 418.9h.01M168.7 437.5h.01M204.1 414.9h.01M175.8 457.5h.01M184.7 406.7h.01M162.7 429.5h.01M123.2 451.7h.01M190.3 455.9h.01M135.5 405.4h.01M117.8 490.1h.01M174.9 453.5h.01M180.5 475.2h.01M169.6 464.6h.01M177.4 477.7h.01M180.6 432.0h.01" stroke="#a08058" stroke-width="2.8" stroke-linecap="round" opacity="0.45"/><path d="M177.9 487.8h.01M207.9 423.3h.01M184.9 400.9h.01M163.7 468.7h.01M133.6 418.4h.01M149.3 430.2h.01M173.7 465.6h.01M176.5 443.5h.01M154.8 464.2h.01M165.0 479.0h.01M195.4 434.6h.01M123.9 478.5h.01M189.8 401.3h.01M179.5 429.8h.01" stroke="#a08058" stroke-width="2.9" stroke-linecap="round" opacity="0.45"/><path d="M205.4 398.6h.01M150.5 430.1h.01M175.2 438.0h.01M117.6 482.2h.01M192.7 481.0h.01M189.3 426.6h.01M163.5 416.6h.01M179.6 422.4h.01M125.5 479.9h.01M169.7 459.2h.01M190.5 471.0h.01M200.1 446.8h.01M151.4 441.7h.01M192.3 404.7h.01M133.0 434.5h.01M183.9 411.4h.01M177.3 399.7h.01M139.5 487.9h.01M144.6 426.8h.01M142.5 491.1h.01M188.8 480.3h.01" stroke="#a08058" stroke-width="3.0" stroke-linecap="round" opacity="0.45"/><path d="M164.5 483.5h.01M152.2 473.1h.01M136.9 486.7h.01M172.1 447.2h.01M163.1 426.4h.01M169.4 484.0h.01M165.7 446.2h.01M183.1 443.0h.01M117.8 444.5h.01M116.7 405.7h.01M171.4 423.3h.01M150.1 479.0h.01M142.6 419.6h.01M128.8 444.2h.01M184.3 413.3h.01" stroke="#a08058" stroke-width="3.1" stroke-linecap="round" opacity="0.45"/><path d="M149.5 472.8h.01M136.0 464.1h.01M119.5 436.6h.01M119.5 473.6h.01M175.1 416.5h.01M187.3 441.0h.01M130.8 416.2h.01M173.3 399.1h.01M170.0 467.7h.01M164.6 468.4h.01M119.9 399.1h.01M202.7 429.4h.01M138.7 485.1h.01M147.2 397.1h.01M135.4 457.9h.01" stroke="#a08058" stroke-width="3.2" stroke-linecap="round" opacity="0.45"/><path d="M200.3 435.4h.01M150.6 489.5h.01M154.1 423.5h.01M151.2 482.8h.01M158.8 442.2h.01M152.1 419.4h.01M157.9 453.4h.01M118.7 474.2h.01M133.8 413.6h.01M137.1 450.4h.01M173.1 455.3h.01M124.6 409.2h.01M181.6 420.9h.01" stroke="#a08058" stroke-width="3.3" stroke-linecap="round" opacity="0.45"/><path d="M172.5 449.9h.01M117.8 441.1h.01M127.7 472.4h.01M167.9 418.7h.01M118.8 449.7h.01M138.5 486.4h.01M178.9 443.8h.01M133.1 409.2h.01M191.9 434.6h.01M126.0 443.6h.01M200.8 399.8h.01M193.1 427.6h.01M174.8 465.4h.01M204.3 435.9h.01M203.1 402.6h.01" stroke="#a08058" stroke-width="3.4" stroke-linecap="round" opacity="0.45"/><path d="M159.9 417.3h.01M160.8 401.8h.01M152.5 469.0h.01M170.1 402.3h.01M184.6 407.9h.01M172.0 470.3h.01M194.5 418.5h.01M197.1 455.1h.01M121.6 434.6h.01M154.7 401.8h.01M147.3 488.1h.01M132.3 472.2h.01M137.6 402.6h.01M169.5 436.9h.01M197.2 442.1h.01M195.5 419.0h.01M162.9 490.0h.01" stroke="#a08058" stroke-width="3.5" stroke-linecap="round" opacity="0.45"/><path d="M180.0 432.3h.01M164.6 454.6h.01M178.8 406.0h.01M177.8 487.6h.01M157.8 427.1h.01M136.1 445.1h.01M132.0 418.0h.01M156.8 450.0h.01M118.7 432.9h.01M157.1 481.2h.01M128.8 447.7h.01" stroke="#a08058" stroke-width="3.6" stroke-linecap="round" opacity="0.45"/>
<path d="M134.0 398.8h.01M130.9 404.4h.01M196.1 431.5h.01M134.7 463.5h.01M163.1 448.7h.01M184.5 432.7h.01M177.5 490.2h.01M143.3 482.5h.01M202.1 459.2h.01M137.8 467.9h.01M138.9 440.3h.01M170.8 418.3h.01M167.6 459.5h.01M152.6 451.7h.01M161.2 428.0h.01M197.8 417.5h.01M154.4 451.7h.01M164.7 406.8h.01M139.2 427.9h.01M157.7 412.8h.01M174.7 488.8h.01M150.7 474.2h.01M188.4 405.4h.01M153.8 410.8h.01M179.8 427.7h.01M156.7 419.9h.01M173.8 423.6h.01M183.5 488.9h.01M165.5 453.2h.01M121.3 419.0h.01M142.6 405.8h.01M181.4 481.8h.01M194.2 415.3h.01M136.0 490.6h.01M119.3 482.7h.01M170.6 424.3h.01M150.4 414.8h.01M140.9 402.9h.01M133.7 398.9h.01M154.5 421.6h.01M118.4 407.1h.01M172.2 448.5h.01M132.7 449.6h.01M175.7 481.6h.01M172.3 411.0h.01M198.1 455.3h.01M188.3 424.9h.01M180.8 437.6h.01M123.1 480.1h.01M117.3 432.0h.01M116.6 477.7h.01M128.4 430.5h.01M146.6 477.3h.01M122.5 482.1h.01M135.9 445.1h.01M120.8 401.1h.01M181.1 478.7h.01M175.3 399.3h.01M193.5 440.5h.01" stroke="#33241a" stroke-width="1.2" stroke-linecap="round" opacity="0.92"/><path d="M129.3 440.3h.01M161.0 415.2h.01M144.5 410.6h.01M195.1 404.7h.01M141.2 418.3h.01M135.7 451.8h.01M145.9 487.9h.01M146.5 397.5h.01M149.3 454.5h.01M149.6 423.7h.01M167.6 404.2h.01M208.2 401.3h.01M165.0 397.1h.01M162.1 436.7h.01M145.0 452.8h.01M125.6 438.5h.01M159.3 482.8h.01M197.3 402.6h.01M199.5 402.7h.01M159.0 466.1h.01M175.0 423.5h.01M173.8 424.0h.01M179.8 399.6h.01M190.9 490.3h.01M163.5 461.8h.01M165.0 476.0h.01M140.8 418.2h.01M141.4 478.5h.01M200.2 402.3h.01M123.7 415.2h.01M138.7 471.5h.01M185.4 446.6h.01M169.3 419.7h.01M169.9 432.0h.01M128.9 490.2h.01M197.9 453.9h.01M167.4 417.3h.01M199.7 449.5h.01M183.9 480.9h.01M134.3 398.1h.01M161.3 474.4h.01M175.8 477.1h.01M171.5 438.7h.01M134.8 418.6h.01M182.8 451.1h.01M183.2 480.5h.01M193.9 409.4h.01M134.3 431.9h.01M121.1 412.8h.01M118.6 402.0h.01M156.5 399.3h.01M178.2 418.3h.01M172.2 451.8h.01M177.8 420.2h.01M193.9 446.0h.01M149.0 418.9h.01M154.0 409.2h.01M182.7 486.3h.01M180.9 399.7h.01M120.8 412.6h.01M181.7 424.4h.01M150.8 452.8h.01M136.3 476.0h.01M117.8 435.0h.01M153.2 419.5h.01M139.9 468.0h.01M180.8 475.3h.01M188.0 411.4h.01M199.0 431.0h.01M183.4 487.4h.01M167.7 464.7h.01M168.4 402.9h.01M192.6 419.3h.01M167.6 459.6h.01M161.3 427.0h.01M195.9 424.8h.01M136.4 470.0h.01M179.5 490.7h.01M129.0 427.8h.01M158.9 484.0h.01M141.4 484.2h.01" stroke="#33241a" stroke-width="1.3" stroke-linecap="round" opacity="0.92"/><path d="M190.5 401.9h.01M195.6 430.3h.01M152.1 468.3h.01M154.7 433.5h.01M130.9 415.7h.01M173.1 468.5h.01M131.8 423.6h.01M185.5 438.8h.01M168.8 426.9h.01M193.3 462.4h.01M163.3 415.3h.01M120.0 423.7h.01M176.2 448.1h.01M190.1 445.7h.01M167.2 447.5h.01M193.0 447.8h.01M160.1 484.5h.01M135.3 481.9h.01M119.8 421.2h.01M116.9 447.4h.01M198.0 431.6h.01M137.8 420.0h.01M156.7 467.6h.01M162.7 416.8h.01M156.9 479.0h.01M143.0 437.7h.01M124.5 423.5h.01M166.5 470.8h.01M148.2 397.3h.01M193.4 398.4h.01M154.5 467.9h.01M176.5 415.7h.01M129.3 448.1h.01M117.8 458.1h.01M138.1 420.1h.01M158.6 434.0h.01M178.2 419.0h.01M181.4 490.4h.01M121.4 417.7h.01M139.0 408.3h.01M192.9 458.1h.01M207.3 443.5h.01M180.6 414.9h.01M157.3 446.1h.01M178.5 470.8h.01M165.6 425.2h.01M124.8 406.4h.01M143.4 424.8h.01M191.3 444.2h.01M158.5 450.9h.01M116.9 478.2h.01M179.3 450.3h.01M157.0 413.2h.01M189.4 442.1h.01M171.3 465.1h.01M199.5 448.8h.01M166.9 414.5h.01M194.6 425.4h.01M162.1 427.4h.01M173.5 490.5h.01M143.4 397.3h.01M122.2 450.5h.01M162.9 434.8h.01M144.0 483.2h.01M164.3 401.6h.01M147.1 486.2h.01M158.4 490.3h.01M164.2 465.1h.01M173.0 483.5h.01M182.2 399.8h.01M181.7 414.8h.01M136.1 456.9h.01M169.8 403.8h.01M206.0 454.1h.01M164.7 404.0h.01M158.3 418.2h.01M121.8 489.0h.01M133.1 482.1h.01M137.9 484.3h.01M164.5 463.3h.01M118.8 489.6h.01M173.8 483.5h.01M188.9 452.1h.01M173.4 451.0h.01M186.6 474.2h.01M157.6 445.2h.01M192.9 425.5h.01M181.2 452.8h.01M182.2 475.5h.01M198.3 455.1h.01M156.0 457.2h.01M195.3 462.8h.01M128.6 454.2h.01M188.5 461.1h.01M170.0 490.1h.01M162.7 447.8h.01M172.8 481.5h.01M187.6 400.3h.01M146.6 487.8h.01M188.0 451.9h.01M124.7 402.3h.01M205.8 432.8h.01M185.0 485.8h.01M170.4 401.0h.01M196.0 417.0h.01M145.8 481.8h.01M179.3 430.8h.01M171.4 477.0h.01M135.9 449.6h.01M176.9 410.3h.01M178.2 404.3h.01M181.5 443.8h.01M159.7 412.8h.01M185.4 413.5h.01M194.6 405.2h.01M129.2 428.9h.01M156.9 487.5h.01M121.5 425.5h.01M186.9 450.5h.01M141.9 484.3h.01M161.8 452.2h.01M130.1 419.8h.01M186.3 402.8h.01M165.2 409.8h.01M191.5 489.4h.01M175.4 484.4h.01M204.7 443.6h.01M180.7 485.7h.01M172.9 489.9h.01M117.8 485.3h.01M140.2 444.6h.01M192.1 401.0h.01M125.5 426.4h.01" stroke="#33241a" stroke-width="1.4" stroke-linecap="round" opacity="0.92"/><path d="M139.9 451.9h.01M203.2 440.2h.01M196.5 414.5h.01M202.8 409.5h.01M151.1 474.9h.01M199.7 459.1h.01M163.8 435.1h.01M175.8 418.2h.01M137.8 462.7h.01M177.2 421.7h.01M124.4 436.2h.01M135.3 406.3h.01M162.6 489.3h.01M140.6 419.9h.01M157.1 424.5h.01M172.4 442.1h.01M164.7 451.3h.01M180.4 399.2h.01M144.6 462.8h.01M169.3 409.1h.01M127.0 398.0h.01M175.8 412.9h.01M157.3 458.3h.01M145.1 447.1h.01M143.1 426.0h.01M162.6 440.7h.01M190.4 458.0h.01M192.3 438.1h.01M195.9 413.9h.01M139.4 416.6h.01M135.5 463.3h.01M178.8 448.3h.01M154.3 408.9h.01M173.2 414.3h.01M131.3 469.3h.01M189.2 450.2h.01M142.0 425.7h.01M140.0 419.7h.01M164.4 408.6h.01M153.7 461.9h.01M168.0 467.9h.01M116.4 480.0h.01M153.4 460.8h.01M171.8 400.3h.01M117.2 425.8h.01M188.7 437.2h.01M183.0 477.1h.01M196.0 403.0h.01M198.2 449.4h.01M155.8 461.2h.01M155.9 403.0h.01M122.4 415.7h.01M183.2 490.9h.01M178.0 484.4h.01M168.8 413.5h.01M131.5 429.5h.01M178.6 434.3h.01M148.8 410.0h.01M180.3 478.9h.01M117.4 423.2h.01M153.6 424.8h.01M181.5 408.8h.01M168.4 412.0h.01M148.7 437.6h.01M203.8 401.3h.01M146.7 446.3h.01M207.3 445.7h.01M185.1 449.2h.01M183.8 405.7h.01M146.1 421.4h.01M173.8 425.9h.01M130.8 441.6h.01M182.4 410.4h.01M181.1 400.1h.01M202.0 409.9h.01M184.9 440.4h.01M170.0 447.3h.01M148.6 472.2h.01M144.1 414.1h.01M124.1 406.5h.01M141.8 489.3h.01M148.1 487.1h.01M182.3 404.8h.01M200.7 400.9h.01M138.3 484.3h.01M199.6 451.4h.01M183.9 402.0h.01M178.2 410.7h.01M183.3 436.8h.01M174.4 414.3h.01M174.4 444.9h.01M132.7 474.7h.01M148.9 416.4h.01M128.6 419.1h.01M165.7 438.9h.01M195.1 443.8h.01" stroke="#33241a" stroke-width="1.5" stroke-linecap="round" opacity="0.92"/><path d="M148.4 398.5h.01M155.9 465.2h.01M175.0 433.6h.01M174.5 401.4h.01M176.3 470.3h.01M164.9 465.8h.01M190.1 416.5h.01M208.3 429.7h.01M136.1 451.8h.01M139.9 473.3h.01M160.4 474.5h.01M149.0 457.5h.01M145.6 403.6h.01M141.0 419.0h.01M132.7 405.2h.01M147.5 470.7h.01M134.5 482.8h.01M134.4 403.7h.01M171.3 426.3h.01M145.3 411.5h.01M175.6 489.6h.01M150.5 412.0h.01M177.5 491.1h.01M168.8 437.0h.01M122.8 401.7h.01M144.3 442.7h.01M162.7 399.1h.01M129.2 405.3h.01M146.2 461.7h.01M157.1 450.4h.01M187.1 432.4h.01M176.5 435.5h.01M135.6 448.0h.01M122.6 479.2h.01M195.2 402.1h.01M136.2 471.3h.01M164.0 425.4h.01M163.6 418.6h.01M145.0 450.5h.01M196.8 430.9h.01M170.9 438.2h.01M195.8 457.0h.01M171.8 404.8h.01M198.1 452.2h.01M121.2 435.8h.01M171.1 487.8h.01M176.3 399.8h.01M189.6 407.8h.01M123.0 409.6h.01M174.5 427.9h.01M191.9 461.7h.01M198.8 419.8h.01M165.7 399.6h.01M136.2 439.9h.01M145.7 455.1h.01M176.6 481.5h.01M141.8 463.9h.01M169.4 413.0h.01M151.6 478.2h.01M118.3 413.9h.01M139.2 487.6h.01M170.5 488.0h.01M175.2 402.6h.01M173.4 457.3h.01M162.4 479.3h.01M144.7 471.4h.01M147.8 408.5h.01M122.8 479.7h.01M124.1 489.2h.01M178.8 401.4h.01M169.0 429.7h.01M189.8 420.9h.01M124.1 449.7h.01M117.1 442.3h.01M174.0 479.2h.01M159.5 423.1h.01M171.4 416.1h.01M151.5 466.1h.01M175.1 466.6h.01M203.6 428.4h.01M153.9 463.2h.01M145.9 423.0h.01M169.9 465.5h.01M159.2 431.6h.01M180.0 445.8h.01M184.5 418.2h.01M165.9 449.1h.01M175.4 483.2h.01M125.5 405.1h.01M197.7 426.9h.01M149.0 422.3h.01M135.4 450.2h.01M160.9 470.8h.01M134.8 414.6h.01M119.8 487.0h.01M192.4 403.7h.01" stroke="#33241a" stroke-width="1.6" stroke-linecap="round" opacity="0.92"/><path d="M181.0 472.8h.01M122.8 438.1h.01M133.9 437.3h.01M198.5 450.0h.01M127.2 475.8h.01M135.0 445.2h.01M169.9 406.6h.01M153.4 476.6h.01M181.1 446.1h.01M188.0 400.5h.01M169.1 466.2h.01M166.1 411.9h.01M148.9 488.9h.01M133.5 424.5h.01M139.7 413.2h.01M161.0 473.8h.01M187.6 428.2h.01M148.0 477.5h.01M167.5 469.2h.01M169.5 413.3h.01M135.2 404.3h.01M136.6 421.1h.01M124.4 420.1h.01M177.4 398.2h.01M196.4 437.0h.01M155.1 487.5h.01M166.3 399.0h.01M184.7 399.4h.01M182.7 404.2h.01M157.7 422.7h.01M123.2 427.0h.01M160.1 478.5h.01M183.1 491.1h.01M146.4 471.4h.01M174.9 484.1h.01M189.3 401.5h.01M159.0 468.2h.01M184.6 401.6h.01M199.5 444.9h.01M194.3 425.2h.01M173.3 459.0h.01M141.3 421.8h.01M117.9 474.4h.01M117.5 482.6h.01M155.9 423.1h.01M169.0 438.4h.01M171.0 460.5h.01M202.0 433.8h.01M198.7 430.0h.01M169.9 435.5h.01M170.0 455.8h.01M186.3 428.0h.01M189.7 453.3h.01M166.7 419.7h.01M144.5 482.6h.01M170.4 432.2h.01M167.3 410.8h.01M124.8 417.8h.01M185.4 426.0h.01M140.7 438.1h.01M124.2 488.8h.01M207.7 426.1h.01M159.6 476.6h.01M118.0 480.4h.01M174.0 426.9h.01M140.9 478.4h.01M142.0 405.1h.01M163.7 485.6h.01M164.5 417.7h.01M133.0 416.3h.01M192.3 402.7h.01M179.3 414.2h.01M200.6 430.8h.01M191.1 441.4h.01M187.3 416.8h.01M167.7 471.9h.01M131.9 454.8h.01M124.9 477.8h.01M155.0 438.2h.01M134.5 438.7h.01M136.4 407.2h.01M173.7 452.7h.01M207.9 449.3h.01M202.8 441.1h.01M177.7 422.5h.01M130.3 453.9h.01M145.4 409.3h.01M136.7 403.3h.01M163.2 398.6h.01M127.4 421.7h.01M152.8 402.9h.01M146.5 417.1h.01M203.9 407.8h.01M166.1 405.9h.01M174.7 457.1h.01M163.2 461.6h.01M169.9 399.8h.01M167.6 433.7h.01M174.1 431.1h.01M117.0 447.6h.01M156.0 467.0h.01M198.2 462.1h.01" stroke="#33241a" stroke-width="1.7" stroke-linecap="round" opacity="0.92"/><path d="M134.6 474.1h.01M172.4 429.0h.01M194.6 488.7h.01M118.6 450.0h.01M192.4 450.8h.01M131.3 409.1h.01M144.4 490.2h.01M205.3 424.8h.01M135.0 406.2h.01M170.9 420.7h.01M182.9 460.6h.01M125.4 402.1h.01M149.3 433.3h.01M199.6 420.3h.01M146.7 478.2h.01M119.3 453.2h.01M183.5 403.8h.01M184.2 478.0h.01M198.0 410.5h.01M147.1 471.2h.01M205.4 444.6h.01M147.8 468.9h.01M168.6 475.4h.01M144.8 469.4h.01M125.2 438.9h.01M198.0 405.2h.01M154.2 397.6h.01M203.1 426.7h.01M173.8 415.0h.01M165.4 405.4h.01M182.5 443.8h.01M118.1 441.9h.01M168.3 425.7h.01M139.4 400.9h.01M135.9 445.2h.01M146.0 409.8h.01M198.3 469.5h.01M171.4 489.1h.01M198.8 401.9h.01M124.9 489.1h.01M177.1 422.7h.01M194.8 397.6h.01M172.1 416.2h.01M138.8 406.0h.01M128.0 468.6h.01M138.5 449.9h.01M142.2 418.9h.01M141.5 482.1h.01M127.5 418.2h.01M140.6 472.6h.01M116.7 428.5h.01M189.0 490.1h.01M192.6 406.6h.01M163.9 458.5h.01M140.6 486.9h.01M174.7 427.6h.01M181.6 490.6h.01M177.9 420.3h.01M120.0 412.7h.01M182.6 452.2h.01M119.5 489.9h.01M174.6 433.0h.01M192.6 405.2h.01M183.6 402.1h.01M182.2 441.5h.01M167.4 428.9h.01M120.9 487.5h.01M163.6 461.9h.01M203.8 402.7h.01M198.1 425.5h.01M171.6 466.4h.01M159.3 425.8h.01M176.9 479.7h.01M178.5 413.8h.01M163.2 431.0h.01M179.6 470.5h.01M189.0 474.9h.01M164.8 418.3h.01M202.4 445.9h.01M203.4 411.4h.01M189.7 457.1h.01M192.6 454.6h.01M207.6 426.7h.01M193.8 406.3h.01M187.7 448.2h.01M188.5 449.0h.01M195.5 466.9h.01M190.4 420.9h.01M191.6 457.4h.01M137.2 476.9h.01M119.9 469.5h.01M162.7 483.1h.01M117.8 423.4h.01M162.3 467.8h.01M153.8 457.8h.01M128.3 435.7h.01M147.4 416.7h.01M181.4 422.4h.01M182.6 447.2h.01M119.2 434.3h.01M118.6 469.3h.01M162.3 467.0h.01M202.2 452.9h.01M130.1 423.9h.01M168.1 411.5h.01M151.5 475.1h.01M147.1 408.6h.01M166.3 491.1h.01M165.4 418.4h.01M193.5 397.2h.01M151.2 440.0h.01M183.0 475.2h.01M178.6 447.6h.01M149.0 438.9h.01" stroke="#33241a" stroke-width="1.8" stroke-linecap="round" opacity="0.92"/><path d="M205.8 452.3h.01M141.5 423.1h.01M197.4 464.4h.01M158.8 474.8h.01M157.3 440.5h.01M192.7 465.8h.01M168.0 462.1h.01M172.0 400.3h.01M126.8 412.3h.01M180.4 400.5h.01M155.7 470.0h.01M184.3 490.7h.01M201.2 408.3h.01M143.6 463.8h.01M191.2 424.2h.01M161.4 451.5h.01M193.7 401.8h.01M130.1 491.0h.01M121.5 422.6h.01M164.5 432.7h.01M165.3 415.1h.01M152.4 464.8h.01M119.9 485.2h.01M199.0 439.8h.01M160.0 471.5h.01M201.2 398.0h.01M189.5 475.3h.01M163.8 477.4h.01M208.5 421.0h.01M176.1 445.7h.01M170.0 461.0h.01M172.2 431.5h.01M143.8 400.1h.01M132.7 490.3h.01M176.8 443.9h.01M164.0 490.9h.01M152.4 465.2h.01M155.0 429.9h.01M152.7 488.5h.01M138.7 412.6h.01M186.4 486.8h.01M163.5 417.2h.01M117.7 412.3h.01M119.4 417.1h.01M138.5 447.9h.01M145.4 428.2h.01M128.8 400.8h.01M139.2 415.0h.01M167.3 422.1h.01M176.2 442.7h.01M159.8 469.7h.01M194.2 420.8h.01M204.2 406.2h.01M147.0 442.9h.01M174.8 468.1h.01M172.8 484.8h.01M189.3 402.8h.01M148.4 468.5h.01M181.6 401.8h.01M202.1 423.4h.01M180.6 486.5h.01M169.1 461.4h.01M166.4 402.0h.01M183.8 432.0h.01M139.1 458.3h.01M135.2 432.0h.01M171.7 436.9h.01M172.8 477.1h.01M160.1 477.0h.01M158.9 472.1h.01M158.1 483.7h.01M140.8 483.9h.01M125.3 486.4h.01M182.6 453.5h.01M160.3 475.4h.01M160.0 411.2h.01M155.5 435.2h.01M139.1 488.4h.01M136.2 412.2h.01M169.7 471.5h.01M144.7 426.1h.01M131.0 465.7h.01M118.6 425.8h.01M136.9 418.1h.01M202.5 415.9h.01M152.5 472.8h.01M166.6 409.4h.01M185.2 458.7h.01M147.3 426.0h.01M126.2 427.2h.01M152.5 482.8h.01M145.8 474.8h.01M174.3 405.7h.01M139.7 469.5h.01M184.8 418.8h.01M146.0 436.1h.01M182.8 424.9h.01M142.7 428.8h.01M131.4 473.1h.01M166.5 410.5h.01M127.9 453.5h.01M139.4 471.7h.01M168.8 474.8h.01M208.9 433.7h.01M176.3 468.2h.01M187.9 400.8h.01" stroke="#33241a" stroke-width="1.9" stroke-linecap="round" opacity="0.92"/><path d="M196.0 460.8h.01M143.8 483.7h.01M149.7 414.8h.01M195.8 428.6h.01M164.9 420.5h.01M146.3 480.4h.01M138.0 469.5h.01M187.6 397.4h.01M176.8 436.1h.01M152.0 485.7h.01M166.2 397.9h.01M142.1 449.6h.01M160.9 482.1h.01M173.2 442.7h.01M186.8 454.2h.01M159.0 407.5h.01M177.9 417.9h.01M177.1 468.8h.01M153.6 426.0h.01M128.2 478.6h.01M158.2 460.9h.01M178.9 410.8h.01M150.0 410.7h.01M161.8 402.1h.01M169.4 440.6h.01M165.3 453.3h.01M205.2 416.1h.01M143.2 406.6h.01M117.5 416.0h.01M185.0 439.4h.01M204.4 428.3h.01M136.9 470.0h.01M161.1 479.0h.01M136.3 453.4h.01M171.1 480.3h.01M165.4 451.8h.01M127.9 401.2h.01M182.4 450.7h.01M151.7 481.3h.01M170.7 399.6h.01M160.2 464.9h.01M168.0 476.6h.01M173.6 401.8h.01M182.3 448.9h.01M153.7 439.7h.01M154.2 477.3h.01M170.7 467.1h.01M161.6 419.8h.01M129.7 431.5h.01M141.8 420.0h.01M198.4 401.2h.01M199.5 400.1h.01M158.3 490.6h.01M120.0 402.2h.01M120.7 411.0h.01M154.0 423.9h.01M199.5 427.4h.01M194.2 405.2h.01M178.4 479.5h.01M198.7 439.7h.01M118.9 401.3h.01M126.9 426.1h.01M140.7 471.3h.01M132.7 479.9h.01M156.7 424.8h.01M171.0 490.0h.01M208.2 406.1h.01M165.7 425.8h.01M200.0 424.0h.01M193.4 458.1h.01M204.5 439.8h.01M198.0 460.5h.01M162.7 483.8h.01M130.8 433.2h.01M196.2 406.2h.01M177.4 420.4h.01M153.6 463.3h.01M182.2 476.7h.01M139.8 410.0h.01M135.5 451.7h.01M117.9 485.0h.01M184.9 402.7h.01M166.9 467.7h.01M151.4 490.1h.01M163.6 465.0h.01M142.9 399.0h.01M167.1 415.9h.01M117.6 439.8h.01M143.6 461.7h.01M166.0 452.9h.01M189.3 442.7h.01M194.6 452.9h.01M203.7 452.2h.01M186.1 445.6h.01M136.3 437.5h.01M191.4 447.3h.01M199.9 456.5h.01M164.9 439.0h.01M121.4 442.6h.01M154.1 403.8h.01M182.0 484.9h.01M167.6 464.8h.01M163.7 481.1h.01" stroke="#33241a" stroke-width="2.0" stroke-linecap="round" opacity="0.92"/><path d="M209.1 435.9h.01M183.9 398.8h.01M138.5 478.6h.01M163.0 416.2h.01M162.9 482.6h.01M203.4 399.2h.01M159.8 450.9h.01M155.9 428.6h.01M148.0 448.8h.01M198.6 400.2h.01M163.9 405.4h.01M183.7 402.5h.01M152.7 484.8h.01M179.0 429.1h.01M145.1 490.8h.01M125.0 427.9h.01M116.9 433.9h.01M170.8 447.5h.01M181.5 412.7h.01M199.5 439.1h.01M126.9 427.3h.01M198.8 426.8h.01M167.8 419.7h.01M159.3 422.2h.01M177.4 481.4h.01M132.5 489.7h.01M126.6 454.0h.01M154.0 474.1h.01M142.4 442.4h.01M176.6 405.3h.01M196.8 431.2h.01M127.5 407.8h.01M177.2 456.3h.01M127.2 450.3h.01M168.3 432.5h.01M122.6 424.3h.01M198.7 427.2h.01M199.1 401.9h.01M192.7 412.7h.01M161.4 425.4h.01M161.6 469.9h.01M117.6 421.3h.01M193.6 468.8h.01M128.5 440.7h.01M184.2 452.3h.01M196.6 397.4h.01M122.6 415.2h.01M173.1 436.6h.01M117.1 472.9h.01M150.3 399.2h.01M141.4 431.7h.01M169.4 455.5h.01M122.2 399.9h.01M138.1 442.3h.01M143.3 464.2h.01M173.9 429.2h.01M166.1 461.0h.01M132.7 467.9h.01M146.5 423.4h.01M184.2 482.4h.01M172.1 459.4h.01M134.2 426.6h.01M142.1 426.2h.01M156.1 439.5h.01M128.0 430.1h.01M194.1 456.8h.01M139.7 442.1h.01M122.2 417.2h.01M175.6 420.4h.01M173.1 477.1h.01M160.4 486.3h.01M158.8 476.5h.01M141.1 488.5h.01M170.0 408.9h.01M170.6 417.5h.01M138.1 480.5h.01M148.7 424.8h.01M180.4 443.4h.01M194.8 480.8h.01M141.4 418.9h.01M132.3 427.3h.01M128.2 467.0h.01M150.3 477.0h.01M126.3 423.6h.01M165.4 423.7h.01M157.8 430.9h.01M169.5 402.6h.01M142.4 431.2h.01M165.8 431.2h.01M197.9 414.1h.01M168.4 408.1h.01M143.9 415.6h.01M207.2 401.8h.01M145.9 480.0h.01M135.2 399.3h.01M132.0 453.4h.01M122.4 419.0h.01M198.8 410.7h.01M149.2 460.0h.01M168.9 416.1h.01M150.9 425.6h.01M143.8 418.7h.01M135.3 489.0h.01M201.2 407.6h.01M130.4 451.1h.01M147.9 406.6h.01M153.1 428.7h.01M150.3 477.5h.01M147.7 433.0h.01M166.0 462.7h.01M138.1 407.4h.01M198.6 452.2h.01M119.9 418.6h.01M139.7 483.7h.01" stroke="#33241a" stroke-width="2.1" stroke-linecap="round" opacity="0.92"/><path d="M146.4 484.7h.01M162.4 419.2h.01M179.2 489.0h.01M130.2 409.0h.01M184.8 443.3h.01M134.1 399.7h.01M167.5 461.6h.01M170.9 398.1h.01M196.7 408.8h.01M169.9 418.5h.01M173.5 431.6h.01M184.1 449.3h.01M164.2 409.9h.01M184.0 448.7h.01M198.6 408.5h.01M183.6 455.7h.01M157.7 415.2h.01M131.4 485.3h.01M137.7 403.4h.01M178.6 466.8h.01M139.2 484.9h.01M147.8 398.3h.01M126.9 432.2h.01M170.3 443.7h.01M154.8 472.3h.01M174.8 440.4h.01M151.7 398.4h.01M188.1 448.2h.01M141.9 477.8h.01M173.0 403.1h.01M159.8 469.2h.01M201.2 406.3h.01M124.9 398.0h.01M150.1 408.4h.01M184.0 453.9h.01M182.2 487.3h.01M119.1 474.9h.01M194.9 428.8h.01M179.7 481.7h.01M137.6 478.2h.01M118.7 467.9h.01M176.2 458.0h.01M135.8 418.1h.01M130.3 469.2h.01M189.8 482.7h.01M188.3 454.6h.01M129.4 484.0h.01M141.6 457.9h.01M205.6 411.9h.01M129.3 409.7h.01M162.5 422.0h.01M181.6 451.0h.01M160.0 475.3h.01M145.3 439.6h.01M167.8 421.7h.01M130.1 469.1h.01M133.7 412.2h.01M190.5 440.0h.01M148.2 472.5h.01M168.7 471.1h.01M176.9 472.2h.01M165.9 401.8h.01M147.0 463.9h.01M203.0 404.6h.01M134.7 489.1h.01M118.9 417.3h.01M150.8 407.5h.01M195.0 435.5h.01M206.8 400.5h.01M118.0 434.0h.01M195.0 434.3h.01M132.7 437.3h.01M157.2 480.8h.01M139.3 482.7h.01M145.1 411.1h.01M195.2 441.7h.01M180.9 444.0h.01M180.6 454.4h.01M125.6 428.3h.01M122.3 402.9h.01M136.7 489.3h.01M170.9 433.2h.01M139.4 420.6h.01M130.1 431.0h.01M158.8 422.0h.01M179.9 433.7h.01M176.0 466.6h.01M135.5 490.8h.01M155.5 477.0h.01M179.2 399.6h.01M122.5 426.1h.01M171.5 422.1h.01M192.5 414.7h.01" stroke="#33241a" stroke-width="2.2" stroke-linecap="round" opacity="0.92"/><path d="M176.1 422.2h.01M121.4 488.4h.01M170.5 472.7h.01M147.9 431.3h.01M170.5 424.3h.01M175.2 450.4h.01M135.8 486.3h.01M185.1 409.8h.01M171.8 470.4h.01M204.7 400.6h.01M196.1 439.6h.01M197.3 417.8h.01M171.3 476.7h.01M131.1 401.6h.01M155.0 470.9h.01M186.7 481.5h.01M191.0 428.1h.01M161.9 453.8h.01M178.0 450.5h.01M150.8 466.2h.01M122.6 417.7h.01M183.9 445.5h.01M132.8 418.5h.01M137.2 456.9h.01M143.7 490.5h.01M116.5 490.2h.01M189.3 399.0h.01M122.4 445.2h.01M164.5 462.2h.01M157.1 466.2h.01M163.7 477.0h.01M208.8 445.0h.01M134.4 419.4h.01M141.1 405.1h.01M127.0 410.0h.01M164.7 461.6h.01M117.6 472.9h.01M140.0 406.8h.01M166.3 414.4h.01M200.8 453.7h.01M127.4 409.8h.01M132.4 410.3h.01M165.4 431.9h.01M171.6 482.6h.01M159.1 453.8h.01M139.6 433.2h.01M196.6 404.9h.01M179.4 410.0h.01M188.4 413.3h.01M177.4 466.9h.01M153.0 490.6h.01M127.9 435.4h.01M123.3 455.6h.01M129.8 452.3h.01" stroke="#33241a" stroke-width="2.3" stroke-linecap="round" opacity="0.92"/></g>
</g>
<line x1="120.4" y1="485.3" x2="141.9" y2="485.3" stroke="#9a9aa8" stroke-width="1.4" opacity="0.8"/>
<text x="143.4" y="486.90000000000003" font-size="6.2" font-weight="bold" fill="#111" font-family="'Liberation Sans',Arial,sans-serif">100µm</text>
<clipPath id="cp20"><rect x="19.2" y="492.6" width="96.3" height="95.4"/></clipPath>
<g clip-path="url(#cp20)">
<rect x="19.2" y="492.6" width="96.3" height="95.4" filter="url(#tb3)"/>
<path d="M99.5 560.2h.01" stroke="#3a2a24" stroke-width="1.2" stroke-linecap="round" opacity="0.9"/><path d="M53.7 529.7h.01" stroke="#3a2a24" stroke-width="1.4" stroke-linecap="round" opacity="0.9"/><path d="M87.7 564.1h.01" stroke="#3a2a24" stroke-width="1.6" stroke-linecap="round" opacity="0.9"/><path d="M91.0 525.7h.01" stroke="#3a2a24" stroke-width="1.8" stroke-linecap="round" opacity="0.9"/><path d="M45.8 550.4h.01" stroke="#3a2a24" stroke-width="1.9" stroke-linecap="round" opacity="0.9"/>
</g>
<line x1="23.2" y1="582.0" x2="44.7" y2="582.0" stroke="#9a9aa8" stroke-width="1.4" opacity="0.8"/>
<text x="46.2" y="583.6" font-size="6.2" font-weight="bold" fill="#111" font-family="'Liberation Sans',Arial,sans-serif">100µm</text>
<rect x="19.7" y="493.1" width="19.4" height="22" fill="#ffffff" fill-opacity="0.3" stroke="#2a2a2a" stroke-width="1"/>
<text x="29.4" y="508.90000000000003" text-anchor="middle" font-size="14" font-weight="bold" fill="#111" font-family="'Liberation Sans',Arial,sans-serif">C</text>
<clipPath id="cp21"><rect x="116.4" y="492.6" width="94.6" height="95.4"/></clipPath>
<g clip-path="url(#cp21)">
<rect x="116.4" y="492.6" width="94.6" height="95.4" filter="url(#tb4)"/>
<g filter="url(#bl)"><path d="M125.0 575.3h.01M116.5 513.4h.01M148.9 582.5h.01M119.4 497.5h.01M130.4 500.5h.01M118.6 558.7h.01M144.4 514.7h.01M134.4 508.0h.01M182.6 517.5h.01M163.1 581.6h.01M150.5 517.2h.01M168.6 516.6h.01M179.4 523.3h.01M129.5 502.4h.01M118.3 566.7h.01M182.3 553.9h.01M197.1 528.2h.01M174.5 550.8h.01M144.8 499.7h.01M166.5 512.3h.01" stroke="#4e3020" stroke-width="1.2" stroke-linecap="round" opacity="0.92"/><path d="M186.1 579.1h.01M152.0 525.0h.01M117.1 506.7h.01M168.2 520.1h.01M136.0 498.6h.01M192.4 563.4h.01M140.8 494.5h.01M122.5 508.3h.01M135.9 531.6h.01M127.1 551.4h.01M149.5 520.0h.01M130.7 507.3h.01M131.1 576.9h.01M209.7 550.8h.01M137.0 544.8h.01M176.3 566.9h.01M198.0 523.7h.01M205.9 520.2h.01M186.7 523.8h.01M153.6 497.3h.01M187.9 522.1h.01M192.0 528.7h.01M134.9 498.0h.01M124.3 547.7h.01M203.5 536.2h.01M200.9 524.9h.01M118.6 497.8h.01M131.6 526.7h.01M122.2 496.7h.01M124.9 555.5h.01M141.2 501.3h.01M152.3 505.7h.01M139.3 501.4h.01" stroke="#4e3020" stroke-width="1.3" stroke-linecap="round" opacity="0.92"/><path d="M125.4 493.8h.01M134.5 570.5h.01M197.3 531.4h.01M208.5 546.6h.01M160.0 517.7h.01M122.2 496.4h.01M121.0 498.9h.01M148.9 542.2h.01M193.3 535.4h.01M182.8 530.3h.01M120.5 500.4h.01M193.9 502.4h.01M199.6 564.6h.01M122.3 507.0h.01M116.7 496.5h.01M119.8 498.5h.01M118.7 523.1h.01M133.2 563.6h.01M144.1 576.8h.01M128.1 543.9h.01M197.9 556.6h.01" stroke="#4e3020" stroke-width="1.4" stroke-linecap="round" opacity="0.92"/><path d="M116.6 517.6h.01M118.5 567.1h.01M198.2 524.3h.01M194.8 572.1h.01M136.4 500.6h.01M118.1 502.7h.01M182.2 517.6h.01M208.8 587.6h.01M135.6 572.2h.01M119.0 513.0h.01M123.8 501.9h.01M132.2 561.7h.01M120.9 506.3h.01M192.9 534.1h.01M193.5 582.7h.01M151.4 546.9h.01M175.1 536.2h.01M177.7 501.9h.01M170.2 526.8h.01M148.4 514.0h.01M188.2 493.8h.01M150.9 545.4h.01M117.1 510.2h.01M172.2 526.2h.01" stroke="#4e3020" stroke-width="1.5" stroke-linecap="round" opacity="0.92"/><path d="M151.8 498.1h.01M117.7 511.5h.01M210.0 584.7h.01M198.2 505.4h.01M142.3 539.2h.01M167.2 541.6h.01M204.5 548.2h.01M192.9 541.2h.01M147.5 575.0h.01M141.5 518.9h.01M181.5 563.6h.01M203.1 542.3h.01M124.4 494.2h.01M137.9 515.2h.01M178.7 560.2h.01M138.8 564.2h.01M141.2 516.0h.01M177.1 522.2h.01M131.6 511.8h.01M119.8 496.8h.01M154.7 524.9h.01" stroke="#4e3020" stroke-width="1.6" stroke-linecap="round" opacity="0.92"/><path d="M184.4 532.4h.01M182.2 500.4h.01M126.6 581.2h.01M118.4 517.1h.01M140.0 550.7h.01M198.8 545.1h.01M120.6 522.0h.01M203.1 531.6h.01M148.0 493.9h.01M116.6 511.0h.01M185.5 533.2h.01M140.9 512.6h.01M195.3 504.5h.01M189.4 531.9h.01M119.5 502.9h.01M121.3 513.8h.01M158.2 519.6h.01M165.5 587.6h.01M120.5 497.4h.01M136.8 511.1h.01M188.3 572.5h.01M190.2 533.1h.01M150.9 511.1h.01M154.2 527.5h.01M163.1 509.9h.01M129.0 530.2h.01M192.7 533.3h.01M140.7 496.4h.01M147.0 523.7h.01M146.2 516.6h.01M165.9 542.6h.01M164.7 557.7h.01M116.4 512.8h.01M181.9 571.6h.01M187.0 523.7h.01M174.3 568.3h.01M119.2 502.6h.01M161.3 584.2h.01" stroke="#4e3020" stroke-width="1.7" stroke-linecap="round" opacity="0.92"/><path d="M128.5 524.0h.01M124.1 504.5h.01M206.7 499.3h.01M179.9 557.7h.01M124.0 504.5h.01M177.5 576.3h.01M122.6 531.1h.01M198.4 524.7h.01M189.9 514.6h.01M145.8 555.3h.01M127.3 513.1h.01M117.2 501.9h.01M116.5 503.5h.01M151.6 550.2h.01M175.0 514.4h.01M188.2 532.8h.01M153.7 571.8h.01M156.1 531.3h.01M165.6 579.5h.01M119.3 493.7h.01M125.3 504.6h.01M199.2 494.3h.01M188.6 586.0h.01M195.8 519.0h.01M169.5 498.2h.01M127.0 517.7h.01M153.5 527.7h.01M151.3 494.3h.01" stroke="#4e3020" stroke-width="1.8" stroke-linecap="round" opacity="0.92"/><path d="M187.7 560.6h.01M120.9 494.7h.01M130.3 585.7h.01M157.4 560.9h.01M133.3 510.0h.01M117.6 517.7h.01M129.2 570.8h.01M188.3 522.7h.01M192.3 556.5h.01M152.3 530.7h.01M134.0 499.5h.01M151.2 542.1h.01M146.3 537.7h.01M181.2 527.7h.01M191.5 528.4h.01M153.1 533.1h.01M169.9 572.0h.01M184.9 508.3h.01M182.7 524.1h.01M151.6 524.1h.01M163.2 528.9h.01M146.8 580.3h.01M122.4 509.2h.01M133.0 547.6h.01M121.8 498.3h.01M127.6 512.4h.01M153.7 535.3h.01M181.0 507.2h.01M169.3 587.5h.01M127.1 521.0h.01M162.8 534.2h.01M171.7 563.7h.01M143.2 534.2h.01M119.0 526.5h.01M150.6 558.4h.01M151.6 580.7h.01M126.7 517.6h.01M156.4 545.8h.01M151.9 493.6h.01M188.1 536.9h.01" stroke="#4e3020" stroke-width="1.9" stroke-linecap="round" opacity="0.92"/><path d="M206.7 566.1h.01M126.2 501.1h.01M193.8 519.8h.01M172.0 529.7h.01M129.8 508.8h.01M119.8 523.3h.01M167.5 498.5h.01M116.9 498.7h.01M184.5 522.9h.01M119.2 503.3h.01M162.8 555.9h.01M146.0 514.5h.01M120.5 521.4h.01M152.1 522.3h.01M183.1 538.9h.01M199.8 540.6h.01M142.4 502.0h.01M147.6 515.5h.01M136.3 533.4h.01M187.1 515.9h.01M145.0 498.3h.01M192.2 542.9h.01M193.2 518.5h.01M120.2 578.2h.01M177.3 566.6h.01M182.7 517.0h.01M196.3 553.5h.01M129.4 521.0h.01M121.5 522.8h.01M179.2 557.9h.01M183.3 493.2h.01M120.5 499.1h.01M184.3 526.8h.01M118.7 509.2h.01M164.0 572.2h.01" stroke="#4e3020" stroke-width="2.0" stroke-linecap="round" opacity="0.92"/><path d="M153.3 545.8h.01M166.3 584.0h.01M142.2 497.1h.01M122.4 514.4h.01M144.4 587.4h.01M122.1 503.8h.01M126.7 510.1h.01M183.7 520.2h.01M145.4 565.4h.01M117.0 516.1h.01M163.2 512.9h.01M159.8 547.1h.01M123.7 502.8h.01M121.9 510.4h.01M133.9 560.5h.01M143.9 507.4h.01M167.5 568.0h.01M194.5 523.4h.01M117.7 524.6h.01M139.6 532.2h.01M126.3 526.7h.01M168.1 563.7h.01M193.0 508.6h.01M124.6 493.7h.01M123.3 557.3h.01M181.0 535.4h.01M167.4 517.8h.01M167.0 573.5h.01M167.4 511.8h.01M184.9 563.0h.01M127.4 504.6h.01M149.7 518.5h.01M116.9 511.9h.01M178.1 521.0h.01M124.2 505.4h.01M121.0 514.8h.01M119.8 563.6h.01M189.4 529.6h.01" stroke="#4e3020" stroke-width="2.1" stroke-linecap="round" opacity="0.92"/><path d="M133.4 575.3h.01M196.3 537.3h.01M200.6 528.4h.01M125.8 575.5h.01M149.9 553.0h.01M183.9 551.6h.01M124.3 495.6h.01M127.3 531.2h.01M151.2 522.3h.01M126.1 573.8h.01M120.9 570.2h.01M209.5 517.9h.01M152.1 498.9h.01M119.9 552.6h.01M168.7 514.3h.01M202.1 548.6h.01" stroke="#4e3020" stroke-width="2.2" stroke-linecap="round" opacity="0.92"/></g>
</g>
<line x1="120.4" y1="582.0" x2="141.9" y2="582.0" stroke="#9a9aa8" stroke-width="1.4" opacity="0.8"/>
<text x="143.4" y="583.6" font-size="6.2" font-weight="bold" fill="#111" font-family="'Liberation Sans',Arial,sans-serif">100µm</text>
<text x="242.0" y="289.2" font-size="13.6" font-weight="bold" fill="#111" font-family="'Liberation Sans',Arial,sans-serif">C</text>
<rect x="279.20" y="303.30" width="18.70" height="9.45" fill="#b0a0d0"/>
<rect x="297.60" y="303.30" width="18.70" height="9.45" fill="#e6dcf0"/>
<rect x="316.00" y="303.30" width="18.70" height="9.45" fill="#efe6f2"/>
<rect x="334.40" y="303.30" width="18.70" height="9.45" fill="#fdeae2"/>
<rect x="352.80" y="303.30" width="18.70" height="9.45" fill="#efeaf4"/>
<rect x="371.20" y="303.30" width="18.70" height="9.45" fill="#eae4f2"/>
<rect x="389.60" y="303.30" width="18.70" height="9.45" fill="#fcd8c8"/>
<rect x="408.00" y="303.30" width="18.70" height="9.45" fill="#f9b092"/>
<rect x="426.40" y="303.30" width="18.70" height="9.45" fill="#f9b092"/>
<text x="446.8" y="309.3" font-size="8" font-style="italic" fill="#1a1a1a" font-family="'Liberation Sans',Arial,sans-serif">HLA-C</text>
<rect x="279.20" y="312.45" width="18.70" height="9.45" fill="#b0a0d0"/>
<rect x="297.60" y="312.45" width="18.70" height="9.45" fill="#d8cce8"/>
<rect x="316.00" y="312.45" width="18.70" height="9.45" fill="#fdf8f8"/>
<rect x="334.40" y="312.45" width="18.70" height="9.45" fill="#fdeee6"/>
<rect x="352.80" y="312.45" width="18.70" height="9.45" fill="#fefbfb"/>
<rect x="371.20" y="312.45" width="18.70" height="9.45" fill="#ddd5ec"/>
<rect x="389.60" y="312.45" width="18.70" height="9.45" fill="#fcd6c4"/>
<rect x="408.00" y="312.45" width="18.70" height="9.45" fill="#f9b396"/>
<rect x="426.40" y="312.45" width="18.70" height="9.45" fill="#fab8a0"/>
<text x="446.8" y="318.8" font-size="8" font-style="italic" fill="#1a1a1a" font-family="'Liberation Sans',Arial,sans-serif">HLA-A</text>
<rect x="279.20" y="321.60" width="18.70" height="9.45" fill="#b0a0d0"/>
<rect x="297.60" y="321.60" width="18.70" height="9.45" fill="#d6cae6"/>
<rect x="316.00" y="321.60" width="18.70" height="9.45" fill="#fdf9f9"/>
<rect x="334.40" y="321.60" width="18.70" height="9.45" fill="#fcece6"/>
<rect x="352.80" y="321.60" width="18.70" height="9.45" fill="#fdf7f5"/>
<rect x="371.20" y="321.60" width="18.70" height="9.45" fill="#d4cae6"/>
<rect x="389.60" y="321.60" width="18.70" height="9.45" fill="#fcd0bc"/>
<rect x="408.00" y="321.60" width="18.70" height="9.45" fill="#f5977a"/>
<rect x="426.40" y="321.60" width="18.70" height="9.45" fill="#fab8a0"/>
<text x="446.8" y="328.5" font-size="8" font-style="italic" fill="#1a1a1a" font-family="'Liberation Sans',Arial,sans-serif">HLA-B</text>
<rect x="279.20" y="330.75" width="18.70" height="9.45" fill="#a898cc"/>
<rect x="297.60" y="330.75" width="18.70" height="9.45" fill="#e6dcef"/>
<rect x="316.00" y="330.75" width="18.70" height="9.45" fill="#fcf6f6"/>
<rect x="334.40" y="330.75" width="18.70" height="9.45" fill="#fdf0ea"/>
<rect x="352.80" y="330.75" width="18.70" height="9.45" fill="#fcf0ea"/>
<rect x="371.20" y="330.75" width="18.70" height="9.45" fill="#fefcfb"/>
<rect x="389.60" y="330.75" width="18.70" height="9.45" fill="#fdf4f0"/>
<rect x="408.00" y="330.75" width="18.70" height="9.45" fill="#fbd0bc"/>
<rect x="426.40" y="330.75" width="18.70" height="9.45" fill="#fbbda4"/>
<text x="446.8" y="337.9" font-size="8" font-style="italic" fill="#1a1a1a" font-family="'Liberation Sans',Arial,sans-serif">TAPBP</text>
<rect x="279.20" y="339.90" width="18.70" height="9.45" fill="#d0c2de"/>
<rect x="297.60" y="339.90" width="18.70" height="9.45" fill="#5c5ab2"/>
<rect x="316.00" y="339.90" width="18.70" height="9.45" fill="#d8cee8"/>
<rect x="334.40" y="339.90" width="18.70" height="9.45" fill="#fdf3ee"/>
<rect x="352.80" y="339.90" width="18.70" height="9.45" fill="#fdc9b0"/>
<rect x="371.20" y="339.90" width="18.70" height="9.45" fill="#fefbf8"/>
<rect x="389.60" y="339.90" width="18.70" height="9.45" fill="#fefaf8"/>
<rect x="408.00" y="339.90" width="18.70" height="9.45" fill="#fbcbb5"/>
<rect x="426.40" y="339.90" width="18.70" height="9.45" fill="#fccdb9"/>
<text x="446.8" y="347.1" font-size="8" font-style="italic" fill="#1a1a1a" font-family="'Liberation Sans',Arial,sans-serif">TAP1</text>
<rect x="279.20" y="349.05" width="18.70" height="9.45" fill="#2a58b0"/>
<rect x="297.60" y="349.05" width="18.70" height="9.45" fill="#b4a8d8"/>
<rect x="316.00" y="349.05" width="18.70" height="9.45" fill="#e8e0f0"/>
<rect x="334.40" y="349.05" width="18.70" height="9.45" fill="#fefcfc"/>
<rect x="352.80" y="349.05" width="18.70" height="9.45" fill="#ede6f2"/>
<rect x="371.20" y="349.05" width="18.70" height="9.45" fill="#8a80c8"/>
<rect x="389.60" y="349.05" width="18.70" height="9.45" fill="#fbc4aa"/>
<rect x="408.00" y="349.05" width="18.70" height="9.45" fill="#fde2d6"/>
<rect x="426.40" y="349.05" width="18.70" height="9.45" fill="#f7a688"/>
<text x="446.8" y="356.2" font-size="8" font-style="italic" fill="#1a1a1a" font-family="'Liberation Sans',Arial,sans-serif">HLA-DRA</text>
<rect x="279.20" y="358.20" width="18.70" height="9.45" fill="#2a58b0"/>
<rect x="297.60" y="358.20" width="18.70" height="9.45" fill="#c0b4dc"/>
<rect x="316.00" y="358.20" width="18.70" height="9.45" fill="#ece6f2"/>
<rect x="334.40" y="358.20" width="18.70" height="9.45" fill="#fde9e0"/>
<rect x="352.80" y="358.20" width="18.70" height="9.45" fill="#d8cfe8"/>
<rect x="371.20" y="358.20" width="18.70" height="9.45" fill="#8a80c8"/>
<rect x="389.60" y="358.20" width="18.70" height="9.45" fill="#fcd8c6"/>
<rect x="408.00" y="358.20" width="18.70" height="9.45" fill="#fcd8c8"/>
<rect x="426.40" y="358.20" width="18.70" height="9.45" fill="#f7a688"/>
<text x="446.8" y="365.4" font-size="8" font-style="italic" fill="#1a1a1a" font-family="'Liberation Sans',Arial,sans-serif">HLA-DMA</text>
<rect x="279.20" y="369.00" width="18.70" height="9.45" fill="#9c90cc"/>
<rect x="297.60" y="369.00" width="18.70" height="9.45" fill="#efeaf5"/>
<rect x="316.00" y="369.00" width="18.70" height="9.45" fill="#aa9ed4"/>
<rect x="334.40" y="369.00" width="18.70" height="9.45" fill="#d4cae6"/>
<rect x="352.80" y="369.00" width="18.70" height="9.45" fill="#efe8f4"/>
<rect x="371.20" y="369.00" width="18.70" height="9.45" fill="#f9ac90"/>
<rect x="389.60" y="369.00" width="18.70" height="9.45" fill="#fbc0a6"/>
<rect x="408.00" y="369.00" width="18.70" height="9.45" fill="#f9a888"/>
<rect x="426.40" y="369.00" width="18.70" height="9.45" fill="#f6906e"/>
<text x="446.8" y="376.2" font-size="8" font-style="italic" fill="#1a1a1a" font-family="'Liberation Sans',Arial,sans-serif">PRF1</text>
<rect x="279.20" y="378.15" width="18.70" height="9.45" fill="#2a58b0"/>
<rect x="297.60" y="378.15" width="18.70" height="9.45" fill="#a89cd2"/>
<rect x="316.00" y="378.15" width="18.70" height="9.45" fill="#a294ce"/>
<rect x="334.40" y="378.15" width="18.70" height="9.45" fill="#aa9ed2"/>
<rect x="352.80" y="378.15" width="18.70" height="9.45" fill="#f8f4f6"/>
<rect x="371.20" y="378.15" width="18.70" height="9.45" fill="#4a58b4"/>
<rect x="389.60" y="378.15" width="18.70" height="9.45" fill="#f8a080"/>
<rect x="408.00" y="378.15" width="18.70" height="9.45" fill="#f8a080"/>
<rect x="426.40" y="378.15" width="18.70" height="9.45" fill="#f8a080"/>
<text x="446.8" y="385.3" font-size="8" font-style="italic" fill="#1a1a1a" font-family="'Liberation Sans',Arial,sans-serif">GZMA</text>
<rect x="279.20" y="387.30" width="18.70" height="9.45" fill="#fefcf8"/>
<rect x="297.60" y="387.30" width="18.70" height="9.45" fill="#2a58b0"/>
<rect x="316.00" y="387.30" width="18.70" height="9.45" fill="#eae4f0"/>
<rect x="334.40" y="387.30" width="18.70" height="9.45" fill="#b0a4d6"/>
<rect x="352.80" y="387.30" width="18.70" height="9.45" fill="#fdf6f2"/>
<rect x="371.20" y="387.30" width="18.70" height="9.45" fill="#fefefe"/>
<rect x="389.60" y="387.30" width="18.70" height="9.45" fill="#6870c0"/>
<rect x="408.00" y="387.30" width="18.70" height="9.45" fill="#fad4c4"/>
<rect x="426.40" y="387.30" width="18.70" height="9.45" fill="#f89c7c"/>
<text x="446.8" y="394.5" font-size="8" font-style="italic" fill="#1a1a1a" font-family="'Liberation Sans',Arial,sans-serif">GZMM</text>
<rect x="279.20" y="396.45" width="18.70" height="9.45" fill="#2a58b0"/>
<rect x="297.60" y="396.45" width="18.70" height="9.45" fill="#2a58b0"/>
<rect x="316.00" y="396.45" width="18.70" height="9.45" fill="#c4bae0"/>
<rect x="334.40" y="396.45" width="18.70" height="9.45" fill="#e6e0f0"/>
<rect x="352.80" y="396.45" width="18.70" height="9.45" fill="#f5f0f6"/>
<rect x="371.20" y="396.45" width="18.70" height="9.45" fill="#f2eef6"/>
<rect x="389.60" y="396.45" width="18.70" height="9.45" fill="#fab498"/>
<rect x="408.00" y="396.45" width="18.70" height="9.45" fill="#f8a282"/>
<rect x="426.40" y="396.45" width="18.70" height="9.45" fill="#ee5034"/>
<text x="446.8" y="403.6" font-size="8" font-style="italic" fill="#1a1a1a" font-family="'Liberation Sans',Arial,sans-serif">GZMK</text>
<rect x="279.20" y="406.80" width="18.70" height="9.45" fill="#fbeee8"/>
<rect x="297.60" y="406.80" width="18.70" height="9.45" fill="#fbeee6"/>
<rect x="316.00" y="406.80" width="18.70" height="9.45" fill="#f8a080"/>
<rect x="334.40" y="406.80" width="18.70" height="9.45" fill="#e6e0ee"/>
<rect x="352.80" y="406.80" width="18.70" height="9.45" fill="#fdf4ee"/>
<rect x="371.20" y="406.80" width="18.70" height="9.45" fill="#b0a6d6"/>
<rect x="389.60" y="406.80" width="18.70" height="9.45" fill="#fce4d8"/>
<rect x="408.00" y="406.80" width="18.70" height="9.45" fill="#c8c0e0"/>
<rect x="426.40" y="406.80" width="18.70" height="9.45" fill="#c0b6dc"/>
<text x="446.8" y="414.0" font-size="8" font-style="italic" fill="#1a1a1a" font-family="'Liberation Sans',Arial,sans-serif">CX3CL1</text>
<rect x="279.20" y="415.95" width="18.70" height="9.45" fill="#3a50a8"/>
<rect x="297.60" y="415.95" width="18.70" height="9.45" fill="#fefcfc"/>
<rect x="316.00" y="415.95" width="18.70" height="9.45" fill="#e4ddef"/>
<rect x="334.40" y="415.95" width="18.70" height="9.45" fill="#ac9ed2"/>
<rect x="352.80" y="415.95" width="18.70" height="9.45" fill="#fde8dc"/>
<rect x="371.20" y="415.95" width="18.70" height="9.45" fill="#9890cc"/>
<rect x="389.60" y="415.95" width="18.70" height="9.45" fill="#a49ad0"/>
<rect x="408.00" y="415.95" width="18.70" height="9.45" fill="#3c50aa"/>
<rect x="426.40" y="415.95" width="18.70" height="9.45" fill="#3c50aa"/>
<text x="446.8" y="423.1" font-size="8" font-style="italic" fill="#1a1a1a" font-family="'Liberation Sans',Arial,sans-serif">CD1C</text>
<rect x="279.20" y="425.10" width="18.70" height="9.45" fill="#fcd8c4"/>
<rect x="297.60" y="425.10" width="18.70" height="9.45" fill="#f47a58"/>
<rect x="316.00" y="425.10" width="18.70" height="9.45" fill="#ddd4ea"/>
<rect x="334.40" y="425.10" width="18.70" height="9.45" fill="#fce8e0"/>
<rect x="352.80" y="425.10" width="18.70" height="9.45" fill="#6e68b8"/>
<rect x="371.20" y="425.10" width="18.70" height="9.45" fill="#eeeaf4"/>
<rect x="389.60" y="425.10" width="18.70" height="9.45" fill="#eae6f2"/>
<rect x="408.00" y="425.10" width="18.70" height="9.45" fill="#f4805e"/>
<rect x="426.40" y="425.10" width="18.70" height="9.45" fill="#e8282a"/>
<text x="446.8" y="432.3" font-size="8" font-style="italic" fill="#1a1a1a" font-family="'Liberation Sans',Arial,sans-serif">SLC11A1</text>
<rect x="279.20" y="434.25" width="18.70" height="9.45" fill="#2a58b0"/>
<rect x="297.60" y="434.25" width="18.70" height="9.45" fill="#7c74c0"/>
<rect x="316.00" y="434.25" width="18.70" height="9.45" fill="#fce6dc"/>
<rect x="334.40" y="434.25" width="18.70" height="9.45" fill="#ece6f2"/>
<rect x="352.80" y="434.25" width="18.70" height="9.45" fill="#fde6da"/>
<rect x="371.20" y="434.25" width="18.70" height="9.45" fill="#2a58b0"/>
<rect x="389.60" y="434.25" width="18.70" height="9.45" fill="#e8302c"/>
<rect x="408.00" y="434.25" width="18.70" height="9.45" fill="#e8302c"/>
<rect x="426.40" y="434.25" width="18.70" height="9.45" fill="#f26a4c"/>
<text x="446.8" y="441.4" font-size="8" font-style="italic" fill="#1a1a1a" font-family="'Liberation Sans',Arial,sans-serif">CXCL9</text>
<rect x="279.20" y="443.40" width="18.70" height="9.45" fill="#2a58b0"/>
<rect x="297.60" y="443.40" width="18.70" height="9.45" fill="#fefcfd"/>
<rect x="316.00" y="443.40" width="18.70" height="9.45" fill="#e6e0f0"/>
<rect x="334.40" y="443.40" width="18.70" height="9.45" fill="#ddd4ea"/>
<rect x="352.80" y="443.40" width="18.70" height="9.45" fill="#fde2d4"/>
<rect x="371.20" y="443.40" width="18.70" height="9.45" fill="#f2eef6"/>
<rect x="389.60" y="443.40" width="18.70" height="9.45" fill="#f8a88a"/>
<rect x="408.00" y="443.40" width="18.70" height="9.45" fill="#f48060"/>
<rect x="426.40" y="443.40" width="18.70" height="9.45" fill="#f47a58"/>
<text x="446.8" y="450.6" font-size="8" font-style="italic" fill="#1a1a1a" font-family="'Liberation Sans',Arial,sans-serif">CD5</text>
<rect x="279.20" y="452.55" width="18.70" height="9.45" fill="#7a72be"/>
<rect x="297.60" y="452.55" width="18.70" height="9.45" fill="#ac9ed2"/>
<rect x="316.00" y="452.55" width="18.70" height="9.45" fill="#ddd4ec"/>
<rect x="334.40" y="452.55" width="18.70" height="9.45" fill="#c6bce0"/>
<rect x="352.80" y="452.55" width="18.70" height="9.45" fill="#fde8de"/>
<rect x="371.20" y="452.55" width="18.70" height="9.45" fill="#aca2d4"/>
<rect x="389.60" y="452.55" width="18.70" height="9.45" fill="#f9b89e"/>
<rect x="408.00" y="452.55" width="18.70" height="9.45" fill="#f89878"/>
<rect x="426.40" y="452.55" width="18.70" height="9.45" fill="#f68e6e"/>
<text x="446.8" y="459.7" font-size="8" font-style="italic" fill="#1a1a1a" font-family="'Liberation Sans',Arial,sans-serif">LCK</text>
<rect x="279.20" y="461.70" width="18.70" height="9.45" fill="#7a70c0"/>
<rect x="297.60" y="461.70" width="18.70" height="9.45" fill="#b8acd8"/>
<rect x="316.00" y="461.70" width="18.70" height="9.45" fill="#d0c6e4"/>
<rect x="334.40" y="461.70" width="18.70" height="9.45" fill="#f0ecf6"/>
<rect x="352.80" y="461.70" width="18.70" height="9.45" fill="#eeeaf5"/>
<rect x="371.20" y="461.70" width="18.70" height="9.45" fill="#c8c0e2"/>
<rect x="389.60" y="461.70" width="18.70" height="9.45" fill="#fde0d4"/>
<rect x="408.00" y="461.70" width="18.70" height="9.45" fill="#f9b49a"/>
<rect x="426.40" y="461.70" width="18.70" height="9.45" fill="#f69a7a"/>
<text x="446.8" y="468.9" font-size="8" font-style="italic" fill="#1a1a1a" font-family="'Liberation Sans',Arial,sans-serif">PTPRC</text>
<rect x="279.20" y="470.85" width="18.70" height="9.45" fill="#8478c4"/>
<rect x="297.60" y="470.85" width="18.70" height="9.45" fill="#fcd4c0"/>
<rect x="316.00" y="470.85" width="18.70" height="9.45" fill="#a498cf"/>
<rect x="334.40" y="470.85" width="18.70" height="9.45" fill="#ece6f2"/>
<rect x="352.80" y="470.85" width="18.70" height="9.45" fill="#efebf5"/>
<rect x="371.20" y="470.85" width="18.70" height="9.45" fill="#5a5cb4"/>
<rect x="389.60" y="470.85" width="18.70" height="9.45" fill="#fcc8b2"/>
<rect x="408.00" y="470.85" width="18.70" height="9.45" fill="#f47a5a"/>
<rect x="426.40" y="470.85" width="18.70" height="9.45" fill="#f58a6a"/>
<text x="446.8" y="478.0" font-size="8" font-style="italic" fill="#1a1a1a" font-family="'Liberation Sans',Arial,sans-serif">IL12RB1</text>
<rect x="279.20" y="480.00" width="18.70" height="9.45" fill="#3c50a8"/>
<rect x="297.60" y="480.00" width="18.70" height="9.45" fill="#fefcfc"/>
<rect x="316.00" y="480.00" width="18.70" height="9.45" fill="#b0a4d4"/>
<rect x="334.40" y="480.00" width="18.70" height="9.45" fill="#f4f2f8"/>
<rect x="352.80" y="480.00" width="18.70" height="9.45" fill="#d8d0ea"/>
<rect x="371.20" y="480.00" width="18.70" height="9.45" fill="#8a82c6"/>
<rect x="389.60" y="480.00" width="18.70" height="9.45" fill="#fefaf8"/>
<rect x="408.00" y="480.00" width="18.70" height="9.45" fill="#f7946f"/>
<rect x="426.40" y="480.00" width="18.70" height="9.45" fill="#f8a080"/>
<text x="446.8" y="487.2" font-size="8" font-style="italic" fill="#1a1a1a" font-family="'Liberation Sans',Arial,sans-serif">CD1D</text>
<rect x="279.20" y="489.15" width="18.70" height="9.45" fill="#7a70c0"/>
<rect x="297.60" y="489.15" width="18.70" height="9.45" fill="#ece6f2"/>
<rect x="316.00" y="489.15" width="18.70" height="9.45" fill="#aaa0d2"/>
<rect x="334.40" y="489.15" width="18.70" height="9.45" fill="#e8e2f0"/>
<rect x="352.80" y="489.15" width="18.70" height="9.45" fill="#f4f0f8"/>
<rect x="371.20" y="489.15" width="18.70" height="9.45" fill="#7870c0"/>
<rect x="389.60" y="489.15" width="18.70" height="9.45" fill="#fde6dc"/>
<rect x="408.00" y="489.15" width="18.70" height="9.45" fill="#f9ae94"/>
<rect x="426.40" y="489.15" width="18.70" height="9.45" fill="#fab49a"/>
<text x="446.8" y="496.3" font-size="8" font-style="italic" fill="#1a1a1a" font-family="'Liberation Sans',Arial,sans-serif">FAS</text>
<rect x="279.20" y="498.30" width="18.70" height="9.45" fill="#fefcfb"/>
<rect x="297.60" y="498.30" width="18.70" height="9.45" fill="#2a58b0"/>
<rect x="316.00" y="498.30" width="18.70" height="9.45" fill="#8c84c6"/>
<rect x="334.40" y="498.30" width="18.70" height="9.45" fill="#c8bee2"/>
<rect x="352.80" y="498.30" width="18.70" height="9.45" fill="#f6f4f8"/>
<rect x="371.20" y="498.30" width="18.70" height="9.45" fill="#2a58b0"/>
<rect x="389.60" y="498.30" width="18.70" height="9.45" fill="#c4bce0"/>
<rect x="408.00" y="498.30" width="18.70" height="9.45" fill="#fefaf8"/>
<rect x="426.40" y="498.30" width="18.70" height="9.45" fill="#fbc8b2"/>
<text x="446.8" y="505.5" font-size="8" font-style="italic" fill="#1a1a1a" font-family="'Liberation Sans',Arial,sans-serif">CD80</text>
<rect x="279.20" y="507.45" width="18.70" height="9.45" fill="#8a80c6"/>
<rect x="297.60" y="507.45" width="18.70" height="9.45" fill="#2a58b0"/>
<rect x="316.00" y="507.45" width="18.70" height="9.45" fill="#9c92cc"/>
<rect x="334.40" y="507.45" width="18.70" height="9.45" fill="#ddd6ec"/>
<rect x="352.80" y="507.45" width="18.70" height="9.45" fill="#d8d0ea"/>
<rect x="371.20" y="507.45" width="18.70" height="9.45" fill="#f05a3a"/>
<rect x="389.60" y="507.45" width="18.70" height="9.45" fill="#fde6da"/>
<rect x="408.00" y="507.45" width="18.70" height="9.45" fill="#f9b49a"/>
<rect x="426.40" y="507.45" width="18.70" height="9.45" fill="#f9b49a"/>
<text x="446.8" y="514.6" font-size="8" font-style="italic" fill="#1a1a1a" font-family="'Liberation Sans',Arial,sans-serif">IFNG</text>
<rect x="279.20" y="516.60" width="18.70" height="9.45" fill="#b4a8d6"/>
<rect x="297.60" y="516.60" width="18.70" height="9.45" fill="#2a58b0"/>
<rect x="316.00" y="516.60" width="18.70" height="9.45" fill="#fcd8c4"/>
<rect x="334.40" y="516.60" width="18.70" height="9.45" fill="#fefcfc"/>
<rect x="352.80" y="516.60" width="18.70" height="9.45" fill="#fcdccc"/>
<rect x="371.20" y="516.60" width="18.70" height="9.45" fill="#aaa0d4"/>
<rect x="389.60" y="516.60" width="18.70" height="9.45" fill="#fde4d8"/>
<rect x="408.00" y="516.60" width="18.70" height="9.45" fill="#fcd0bc"/>
<rect x="426.40" y="516.60" width="18.70" height="9.45" fill="#f9a88a"/>
<text x="446.8" y="523.8" font-size="8" font-style="italic" fill="#1a1a1a" font-family="'Liberation Sans',Arial,sans-serif">IL18</text>
<rect x="279.20" y="525.75" width="18.70" height="9.45" fill="#3a50a8"/>
<rect x="297.60" y="525.75" width="18.70" height="9.45" fill="#2a58b0"/>
<rect x="316.00" y="525.75" width="18.70" height="9.45" fill="#e4dcef"/>
<rect x="334.40" y="525.75" width="18.70" height="9.45" fill="#e0d8ec"/>
<rect x="352.80" y="525.75" width="18.70" height="9.45" fill="#fdf8f6"/>
<rect x="371.20" y="525.75" width="18.70" height="9.45" fill="#fefcfc"/>
<rect x="389.60" y="525.75" width="18.70" height="9.45" fill="#fdeee8"/>
<rect x="408.00" y="525.75" width="18.70" height="9.45" fill="#f8a080"/>
<rect x="426.40" y="525.75" width="18.70" height="9.45" fill="#f9a88a"/>
<text x="446.8" y="532.9" font-size="8" font-style="italic" fill="#1a1a1a" font-family="'Liberation Sans',Arial,sans-serif">CD274</text>
<rect x="279.20" y="534.90" width="18.70" height="9.45" fill="#2a58b0"/>
<rect x="297.60" y="534.90" width="18.70" height="9.45" fill="#2a58b0"/>
<rect x="316.00" y="534.90" width="18.70" height="9.45" fill="#d8cee8"/>
<rect x="334.40" y="534.90" width="18.70" height="9.45" fill="#d8cee8"/>
<rect x="352.80" y="534.90" width="18.70" height="9.45" fill="#fdf6f2"/>
<rect x="371.20" y="534.90" width="18.70" height="9.45" fill="#9c94cc"/>
<rect x="389.60" y="534.90" width="18.70" height="9.45" fill="#fddcd0"/>
<rect x="408.00" y="534.90" width="18.70" height="9.45" fill="#f9ac90"/>
<rect x="426.40" y="534.90" width="18.70" height="9.45" fill="#f58a68"/>
<text x="446.8" y="542.1" font-size="8" font-style="italic" fill="#1a1a1a" font-family="'Liberation Sans',Arial,sans-serif">CD3E</text>
<rect x="279.20" y="544.05" width="18.70" height="9.45" fill="#6c64b6"/>
<rect x="297.60" y="544.05" width="18.70" height="9.45" fill="#2a58b0"/>
<rect x="316.00" y="544.05" width="18.70" height="9.45" fill="#b4a8d6"/>
<rect x="334.40" y="544.05" width="18.70" height="9.45" fill="#e4dcef"/>
<rect x="352.80" y="544.05" width="18.70" height="9.45" fill="#f4eef4"/>
<rect x="371.20" y="544.05" width="18.70" height="9.45" fill="#fbd0bc"/>
<rect x="389.60" y="544.05" width="18.70" height="9.45" fill="#f9ac90"/>
<rect x="408.00" y="544.05" width="18.70" height="9.45" fill="#f69272"/>
<rect x="426.40" y="544.05" width="18.70" height="9.45" fill="#f69272"/>
<text x="446.8" y="551.2" font-size="8" font-style="italic" fill="#1a1a1a" font-family="'Liberation Sans',Arial,sans-serif">CD8A</text>
<rect x="279.20" y="553.20" width="18.70" height="9.45" fill="#2a58b0"/>
<rect x="297.60" y="553.20" width="18.70" height="9.45" fill="#2a58b0"/>
<rect x="316.00" y="553.20" width="18.70" height="9.45" fill="#e4dcef"/>
<rect x="334.40" y="553.20" width="18.70" height="9.45" fill="#e8e2f2"/>
<rect x="352.80" y="553.20" width="18.70" height="9.45" fill="#fef8f6"/>
<rect x="371.20" y="553.20" width="18.70" height="9.45" fill="#a49cd0"/>
<rect x="389.60" y="553.20" width="18.70" height="9.45" fill="#fef8f6"/>
<rect x="408.00" y="553.20" width="18.70" height="9.45" fill="#e84030"/>
<rect x="426.40" y="553.20" width="18.70" height="9.45" fill="#f69a7a"/>
<text x="446.8" y="560.4" font-size="8" font-style="italic" fill="#1a1a1a" font-family="'Liberation Sans',Arial,sans-serif">CCR5</text>
<rect x="279.20" y="562.35" width="18.70" height="9.45" fill="#3454ac"/>
<rect x="297.60" y="562.35" width="18.70" height="9.45" fill="#2a58b0"/>
<rect x="316.00" y="562.35" width="18.70" height="9.45" fill="#d8cee8"/>
<rect x="334.40" y="562.35" width="18.70" height="9.45" fill="#b4a6d6"/>
<rect x="352.80" y="562.35" width="18.70" height="9.45" fill="#fefaf8"/>
<rect x="371.20" y="562.35" width="18.70" height="9.45" fill="#9890cc"/>
<rect x="389.60" y="562.35" width="18.70" height="9.45" fill="#f89a7a"/>
<rect x="408.00" y="562.35" width="18.70" height="9.45" fill="#f89a7a"/>
<rect x="426.40" y="562.35" width="18.70" height="9.45" fill="#f8a080"/>
<text x="446.8" y="569.5" font-size="8" font-style="italic" fill="#1a1a1a" font-family="'Liberation Sans',Arial,sans-serif">TIGIT</text>
<rect x="279.2" y="573.9" width="127.9" height="12.1" fill="#e8202a"/>
<rect x="408.2" y="573.9" width="36.4" height="12.1" fill="#1a9e4c"/>
<text x="343.2" y="583.6" text-anchor="middle" font-size="10" fill="#7a0c10" font-family="'Liberation Sans',Arial,sans-serif">PD</text>
<text x="426.6" y="583.6" text-anchor="middle" font-size="10" fill="#0b4a22" font-family="'Liberation Sans',Arial,sans-serif">PR</text>
<text transform="translate(257.4,335.7) rotate(-90)" text-anchor="middle" font-size="9" fill="#222" font-family="'Liberation Sans',Arial,sans-serif">Antigen</text>
<text transform="translate(257.4,389.4) rotate(-90)" text-anchor="middle" font-size="9" fill="#222" font-family="'Liberation Sans',Arial,sans-serif">Cytotoxicity</text>
<text transform="translate(257.4,486.2) rotate(-90)" text-anchor="middle" font-size="9" fill="#222" font-family="'Liberation Sans',Arial,sans-serif">T cell</text>
<defs><linearGradient id="lg" x1="0" y1="0" x2="0" y2="1"><stop offset="0" stop-color="#e02a24"/><stop offset="0.2" stop-color="#f0705a"/><stop offset="0.36" stop-color="#f8b8a4"/><stop offset="0.5" stop-color="#fcf8f8"/><stop offset="0.64" stop-color="#c8c2e2"/><stop offset="0.8" stop-color="#6f70bd"/><stop offset="1" stop-color="#2846a6"/></linearGradient></defs>
<rect x="492.3" y="303.4" width="9.6" height="46.2" fill="url(#lg)"/>
<text x="504.3" y="309.4" font-size="8.2" fill="#1a1a1a" font-family="'Liberation Sans',Arial,sans-serif">4</text>
<line x1="492.3" y1="306.5" x2="494.6" y2="306.5" stroke="#fff" stroke-width="0.7" opacity="0.85"/>
<line x1="499.6" y1="306.5" x2="501.9" y2="306.5" stroke="#fff" stroke-width="0.7" opacity="0.85"/>
<text x="504.3" y="319.7" font-size="8.2" fill="#1a1a1a" font-family="'Liberation Sans',Arial,sans-serif">2</text>
<line x1="492.3" y1="316.8" x2="494.6" y2="316.8" stroke="#fff" stroke-width="0.7" opacity="0.85"/>
<line x1="499.6" y1="316.8" x2="501.9" y2="316.8" stroke="#fff" stroke-width="0.7" opacity="0.85"/>
<text x="504.3" y="329.4" font-size="8.2" fill="#1a1a1a" font-family="'Liberation Sans',Arial,sans-serif">0</text>
<line x1="492.3" y1="326.5" x2="494.6" y2="326.5" stroke="#fff" stroke-width="0.7" opacity="0.85"/>
<line x1="499.6" y1="326.5" x2="501.9" y2="326.5" stroke="#fff" stroke-width="0.7" opacity="0.85"/>
<text x="503.6" y="339.4" font-size="8.2" fill="#1a1a1a" font-family="'Liberation Sans',Arial,sans-serif">–2</text>
<line x1="492.3" y1="336.5" x2="494.6" y2="336.5" stroke="#fff" stroke-width="0.7" opacity="0.85"/>
<line x1="499.6" y1="336.5" x2="501.9" y2="336.5" stroke="#fff" stroke-width="0.7" opacity="0.85"/>
<text x="503.6" y="348.7" font-size="8.2" fill="#1a1a1a" font-family="'Liberation Sans',Arial,sans-serif">–4</text>
<line x1="492.3" y1="345.8" x2="494.6" y2="345.8" stroke="#fff" stroke-width="0.7" opacity="0.85"/>
<line x1="499.6" y1="345.8" x2="501.9" y2="345.8" stroke="#fff" stroke-width="0.7" opacity="0.85"/>
<text x="490.0" y="297.8" font-size="8.8" fill="#1a1a1a" font-family="'Liberation Sans',Arial,sans-serif">Log<tspan font-size="6" dy="2.2">2</tspan><tspan dy="-2.2"> FC</tspan></text>
<path d="M288.4 301.6L288.4 293.6 M306.8 301.6L306.8 293.6 M288.4 293.6L306.8 293.6 M325.2 301.6L325.2 299.6 M343.6 301.6L343.6 299.6 M325.2 299.6L343.6 299.6 M334.4 299.6L334.4 298.9 M362.0 301.6L362.0 298.9 M334.4 298.9L362.0 298.9 M348.2 298.9L348.2 296.6 M380.4 301.6L380.4 296.6 M348.2 296.6L380.4 296.6 M417.2 301.6L417.2 299.5 M435.6 301.6L435.6 299.5 M417.2 299.5L435.6 299.5 M398.8 301.6L398.8 296.8 M426.4 299.5L426.4 296.8 M398.8 296.8L426.4 296.8 M364.3 296.6L364.3 292.1 M412.6 296.8L412.6 292.1 M364.3 292.1L412.6 292.1 M297.6 293.6L297.6 287.4 M388.4 292.1L388.4 287.4 M297.6 287.4L388.4 287.4 M277.3 307.9L276.1 307.9 M277.3 317.0L276.1 317.0 M276.1 307.9L276.1 317.0 M276.1 312.4L274.7 312.4 M277.3 326.2L274.7 326.2 M274.7 312.4L274.7 326.2 M274.7 319.3L273.6 319.3 M277.3 335.3L273.6 335.3 M273.6 319.3L273.6 335.3 M273.6 327.3L270.6 327.3 M277.3 344.5L270.6 344.5 M270.6 327.3L270.6 344.5 M277.3 353.6L273.4 353.6 M277.3 362.8L273.4 362.8 M273.4 353.6L273.4 362.8 M270.6 335.9L263.2 335.9 M273.4 358.2L263.2 358.2 M263.2 335.9L263.2 358.2 M277.3 373.6L267.2 373.6 M277.3 382.7L267.2 382.7 M267.2 373.6L267.2 382.7 M277.3 391.9L265.5 391.9 M277.3 401.0L265.5 401.0 M265.5 391.9L265.5 401.0 M267.2 378.1L263.2 378.1 M265.5 396.4L263.2 396.4 M263.2 378.1L263.2 396.4 M277.3 411.4L270.9 411.4 M277.3 420.5L270.9 420.5 M270.9 411.4L270.9 420.5 M277.3 457.1L275.9 457.1 M277.3 466.3L275.9 466.3 M275.9 457.1L275.9 466.3 M277.3 448.0L272.3 448.0 M275.9 461.7L272.3 461.7 M272.3 448.0L272.3 461.7 M277.3 475.4L275.6 475.4 M277.3 484.6L275.6 484.6 M275.6 475.4L275.6 484.6 M275.6 480.0L274.0 480.0 M277.3 493.7L274.0 493.7 M274.0 480.0L274.0 493.7 M272.3 454.8L270.5 454.8 M274.0 486.9L270.5 486.9 M270.5 454.8L270.5 486.9 M277.3 438.8L268.6 438.8 M270.5 470.9L268.6 470.9 M268.6 438.8L268.6 470.9 M277.3 429.7L264.8 429.7 M268.6 454.8L264.8 454.8 M264.8 429.7L264.8 454.8 M277.3 530.3L275.3 530.3 M277.3 539.5L275.3 539.5 M275.3 530.3L275.3 539.5 M277.3 521.2L273.1 521.2 M275.3 534.9L273.1 534.9 M273.1 521.2L273.1 534.9 M277.3 557.8L274.0 557.8 M277.3 566.9L274.0 566.9 M274.0 557.8L274.0 566.9 M277.3 548.6L273.1 548.6 M274.0 562.4L273.1 562.4 M273.1 548.6L273.1 562.4 M273.1 528.0L271.8 528.0 M273.1 555.5L271.8 555.5 M271.8 528.0L271.8 555.5 M277.3 512.0L270.3 512.0 M271.8 541.8L270.3 541.8 M270.3 512.0L270.3 541.8 M277.3 502.9L268.9 502.9 M270.3 526.9L268.9 526.9 M268.9 502.9L268.9 526.9 M264.8 442.3L265.7 442.3 M268.9 514.9L265.7 514.9 M265.7 442.3L265.7 514.9 M270.9 415.9L263.3 415.9 M265.7 478.6L263.3 478.6 M263.3 415.9L263.3 478.6" stroke="#444" stroke-width="0.8" fill="none"/>
</svg>
</body></html>
